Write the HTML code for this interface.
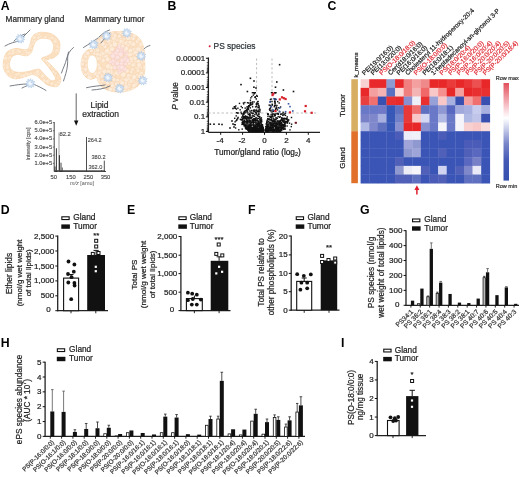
<!DOCTYPE html>
<html><head><meta charset="utf-8"><title>Figure</title>
<style>
html,body{margin:0;padding:0;background:#fff;}
body{width:520px;height:477px;overflow:hidden;}
svg{display:block;font-family:'Liberation Sans', Arial, sans-serif;}
</style></head>
<body>
<svg width="520" height="477" viewBox="0 0 520 477">
<rect width="520" height="477" fill="#fff"/>
<text x="0.80" y="10.20" font-size="12.3" fill="#000" text-anchor="start" dominant-baseline="alphabetic" font-weight="bold" >A</text>
<text x="5.60" y="19.40" font-size="8.2" fill="#2a2a2a" text-anchor="start" dominant-baseline="central" stroke="#2a2a2a" stroke-width="0.22" >Mammary gland</text>
<text x="84.80" y="19.40" font-size="8.2" fill="#2a2a2a" text-anchor="start" dominant-baseline="central" stroke="#2a2a2a" stroke-width="0.22" >Mammary tumor</text>
<defs><clipPath id="gclip"><path d="M3.20,64.60 C3.28,62.10 4.07,57.82 5.00,55.50 C5.93,53.18 6.93,51.87 8.80,50.70 C10.67,49.53 13.83,48.70 16.20,48.50 C18.57,48.30 21.10,49.38 23.00,49.50 C24.90,49.62 26.43,50.03 27.60,49.20 C28.77,48.37 29.22,46.58 30.00,44.50 C30.78,42.42 31.13,38.58 32.30,36.70 C33.47,34.82 35.28,33.93 37.00,33.20 C38.72,32.47 40.20,32.20 42.60,32.30 C45.00,32.40 49.00,32.85 51.40,33.80 C53.80,34.75 55.60,36.38 57.00,38.00 C58.40,39.62 59.52,41.02 59.80,43.50 C60.08,45.98 59.67,50.57 58.70,52.90 C57.73,55.23 56.03,56.27 54.00,57.50 C51.97,58.73 46.92,58.97 46.50,60.30 C46.08,61.63 49.45,63.22 51.50,65.50 C53.55,67.78 57.25,71.50 58.80,74.00 C60.35,76.50 61.10,78.42 60.80,80.50 C60.50,82.58 59.10,85.72 57.00,86.50 C54.90,87.28 50.70,86.20 48.20,85.20 C45.70,84.20 43.78,81.95 42.00,80.50 C40.22,79.05 39.12,77.48 37.50,76.50 C35.88,75.52 34.38,74.55 32.30,74.60 C30.22,74.65 27.68,76.10 25.00,76.80 C22.32,77.50 18.87,78.85 16.20,78.80 C13.53,78.75 10.95,77.88 9.00,76.50 C7.05,75.12 5.47,72.48 4.50,70.50 C3.53,68.52 3.12,67.10 3.20,64.60 Z"/></clipPath><clipPath id="tclip"><path d="M96,42 C100,35 108,31.5 117,31.5 C126,31 135,33 140,39 C144,45 145,52 144.5,60 C145.5,68 145,77 140,84 C134,90 126,92.5 117,92 C108,91.5 101,88 98,81 C95,74 96,67 96.5,60 C95.5,54 94,48 96,42 Z"/><ellipse cx="91" cy="64.3" rx="10" ry="15"/></clipPath></defs>
<path d="M3.20,64.60 C3.28,62.10 4.07,57.82 5.00,55.50 C5.93,53.18 6.93,51.87 8.80,50.70 C10.67,49.53 13.83,48.70 16.20,48.50 C18.57,48.30 21.10,49.38 23.00,49.50 C24.90,49.62 26.43,50.03 27.60,49.20 C28.77,48.37 29.22,46.58 30.00,44.50 C30.78,42.42 31.13,38.58 32.30,36.70 C33.47,34.82 35.28,33.93 37.00,33.20 C38.72,32.47 40.20,32.20 42.60,32.30 C45.00,32.40 49.00,32.85 51.40,33.80 C53.80,34.75 55.60,36.38 57.00,38.00 C58.40,39.62 59.52,41.02 59.80,43.50 C60.08,45.98 59.67,50.57 58.70,52.90 C57.73,55.23 56.03,56.27 54.00,57.50 C51.97,58.73 46.92,58.97 46.50,60.30 C46.08,61.63 49.45,63.22 51.50,65.50 C53.55,67.78 57.25,71.50 58.80,74.00 C60.35,76.50 61.10,78.42 60.80,80.50 C60.50,82.58 59.10,85.72 57.00,86.50 C54.90,87.28 50.70,86.20 48.20,85.20 C45.70,84.20 43.78,81.95 42.00,80.50 C40.22,79.05 39.12,77.48 37.50,76.50 C35.88,75.52 34.38,74.55 32.30,74.60 C30.22,74.65 27.68,76.10 25.00,76.80 C22.32,77.50 18.87,78.85 16.20,78.80 C13.53,78.75 10.95,77.88 9.00,76.50 C7.05,75.12 5.47,72.48 4.50,70.50 C3.53,68.52 3.12,67.10 3.20,64.60 Z" fill="#fbe0c2" stroke="#f6cf9f" stroke-width="0.7"/>
<g clip-path="url(#gclip)"><circle cx="12.6" cy="70.0" r="1.78" fill="#fdebd6" stroke="#f7d2a8" stroke-width="0.3"/><circle cx="30.8" cy="42.5" r="1.88" fill="#fdebd6" stroke="#f7d2a8" stroke-width="0.3"/><circle cx="49.9" cy="59.7" r="1.70" fill="#fdebd6" stroke="#f7d2a8" stroke-width="0.3"/><circle cx="16.7" cy="30.2" r="1.62" fill="#fdebd6" stroke="#f7d2a8" stroke-width="0.3"/><circle cx="37.0" cy="34.0" r="1.88" fill="#fdebd6" stroke="#f7d2a8" stroke-width="0.3"/><circle cx="16.5" cy="43.5" r="1.43" fill="#fdebd6" stroke="#f7d2a8" stroke-width="0.3"/><circle cx="60.9" cy="72.8" r="1.93" fill="#fdebd6" stroke="#f7d2a8" stroke-width="0.3"/><circle cx="38.7" cy="32.0" r="1.60" fill="#fdebd6" stroke="#f7d2a8" stroke-width="0.3"/><circle cx="31.9" cy="36.7" r="1.97" fill="#fdebd6" stroke="#f7d2a8" stroke-width="0.3"/><circle cx="24.4" cy="39.0" r="1.89" fill="#fdebd6" stroke="#f7d2a8" stroke-width="0.3"/><circle cx="10.2" cy="83.8" r="1.67" fill="#fdebd6" stroke="#f7d2a8" stroke-width="0.3"/><circle cx="35.0" cy="49.9" r="1.69" fill="#fdebd6" stroke="#f7d2a8" stroke-width="0.3"/><circle cx="13.8" cy="32.2" r="1.92" fill="#fdebd6" stroke="#f7d2a8" stroke-width="0.3"/><circle cx="16.6" cy="75.3" r="1.53" fill="#fdebd6" stroke="#f7d2a8" stroke-width="0.3"/><circle cx="59.2" cy="81.9" r="1.85" fill="#fdebd6" stroke="#f7d2a8" stroke-width="0.3"/><circle cx="47.2" cy="63.7" r="1.84" fill="#fdebd6" stroke="#f7d2a8" stroke-width="0.3"/><circle cx="10.1" cy="57.6" r="1.90" fill="#fdebd6" stroke="#f7d2a8" stroke-width="0.3"/><circle cx="14.7" cy="83.5" r="1.93" fill="#fdebd6" stroke="#f7d2a8" stroke-width="0.3"/><circle cx="26.8" cy="51.2" r="1.67" fill="#fdebd6" stroke="#f7d2a8" stroke-width="0.3"/><circle cx="25.4" cy="87.7" r="1.63" fill="#fdebd6" stroke="#f7d2a8" stroke-width="0.3"/><circle cx="4.6" cy="35.4" r="1.83" fill="#fdebd6" stroke="#f7d2a8" stroke-width="0.3"/><circle cx="60.6" cy="58.8" r="1.69" fill="#fdebd6" stroke="#f7d2a8" stroke-width="0.3"/><circle cx="34.9" cy="73.4" r="1.53" fill="#fdebd6" stroke="#f7d2a8" stroke-width="0.3"/><circle cx="38.3" cy="62.3" r="1.77" fill="#fdebd6" stroke="#f7d2a8" stroke-width="0.3"/><circle cx="13.5" cy="39.9" r="1.61" fill="#fdebd6" stroke="#f7d2a8" stroke-width="0.3"/><circle cx="56.8" cy="50.1" r="1.76" fill="#fdebd6" stroke="#f7d2a8" stroke-width="0.3"/><circle cx="20.8" cy="36.0" r="1.44" fill="#fdebd6" stroke="#f7d2a8" stroke-width="0.3"/><circle cx="50.2" cy="75.1" r="1.62" fill="#fdebd6" stroke="#f7d2a8" stroke-width="0.3"/><circle cx="42.6" cy="69.2" r="1.94" fill="#fdebd6" stroke="#f7d2a8" stroke-width="0.3"/><circle cx="58.6" cy="53.6" r="1.99" fill="#fdebd6" stroke="#f7d2a8" stroke-width="0.3"/><circle cx="58.8" cy="64.3" r="1.93" fill="#fdebd6" stroke="#f7d2a8" stroke-width="0.3"/><circle cx="31.5" cy="51.8" r="1.55" fill="#fdebd6" stroke="#f7d2a8" stroke-width="0.3"/><circle cx="53.8" cy="39.4" r="1.44" fill="#fdebd6" stroke="#f7d2a8" stroke-width="0.3"/><circle cx="49.7" cy="74.9" r="1.69" fill="#fdebd6" stroke="#f7d2a8" stroke-width="0.3"/><circle cx="51.5" cy="33.0" r="1.55" fill="#fdebd6" stroke="#f7d2a8" stroke-width="0.3"/><circle cx="19.8" cy="54.3" r="1.50" fill="#fdebd6" stroke="#f7d2a8" stroke-width="0.3"/><circle cx="7.0" cy="49.6" r="1.94" fill="#fdebd6" stroke="#f7d2a8" stroke-width="0.3"/><circle cx="60.0" cy="73.3" r="1.69" fill="#fdebd6" stroke="#f7d2a8" stroke-width="0.3"/><circle cx="17.6" cy="85.6" r="1.72" fill="#fdebd6" stroke="#f7d2a8" stroke-width="0.3"/><circle cx="45.3" cy="31.6" r="1.53" fill="#fdebd6" stroke="#f7d2a8" stroke-width="0.3"/><circle cx="51.6" cy="76.1" r="1.93" fill="#fdebd6" stroke="#f7d2a8" stroke-width="0.3"/><circle cx="37.9" cy="54.7" r="1.75" fill="#fdebd6" stroke="#f7d2a8" stroke-width="0.3"/><circle cx="52.3" cy="47.9" r="1.72" fill="#fdebd6" stroke="#f7d2a8" stroke-width="0.3"/><circle cx="19.0" cy="74.6" r="1.41" fill="#fdebd6" stroke="#f7d2a8" stroke-width="0.3"/><circle cx="42.7" cy="85.3" r="1.41" fill="#fdebd6" stroke="#f7d2a8" stroke-width="0.3"/><circle cx="37.4" cy="67.3" r="1.91" fill="#fdebd6" stroke="#f7d2a8" stroke-width="0.3"/><circle cx="36.9" cy="44.9" r="1.64" fill="#fdebd6" stroke="#f7d2a8" stroke-width="0.3"/><circle cx="58.6" cy="82.5" r="1.48" fill="#fdebd6" stroke="#f7d2a8" stroke-width="0.3"/><circle cx="8.5" cy="35.4" r="1.42" fill="#fdebd6" stroke="#f7d2a8" stroke-width="0.3"/><circle cx="28.9" cy="38.2" r="1.92" fill="#fdebd6" stroke="#f7d2a8" stroke-width="0.3"/><circle cx="41.0" cy="37.3" r="1.72" fill="#fdebd6" stroke="#f7d2a8" stroke-width="0.3"/><circle cx="21.8" cy="58.6" r="1.53" fill="#fdebd6" stroke="#f7d2a8" stroke-width="0.3"/><circle cx="12.6" cy="40.7" r="1.63" fill="#fdebd6" stroke="#f7d2a8" stroke-width="0.3"/><circle cx="44.2" cy="61.9" r="1.43" fill="#fdebd6" stroke="#f7d2a8" stroke-width="0.3"/><circle cx="44.2" cy="80.7" r="1.86" fill="#fdebd6" stroke="#f7d2a8" stroke-width="0.3"/><circle cx="48.9" cy="30.5" r="1.68" fill="#fdebd6" stroke="#f7d2a8" stroke-width="0.3"/><circle cx="6.7" cy="74.3" r="1.51" fill="#fdebd6" stroke="#f7d2a8" stroke-width="0.3"/><circle cx="44.3" cy="44.7" r="1.82" fill="#fdebd6" stroke="#f7d2a8" stroke-width="0.3"/><circle cx="21.2" cy="32.4" r="1.63" fill="#fdebd6" stroke="#f7d2a8" stroke-width="0.3"/><circle cx="20.9" cy="82.2" r="1.58" fill="#fdebd6" stroke="#f7d2a8" stroke-width="0.3"/><circle cx="32.2" cy="61.9" r="1.97" fill="#fdebd6" stroke="#f7d2a8" stroke-width="0.3"/><circle cx="8.7" cy="64.9" r="1.70" fill="#fdebd6" stroke="#f7d2a8" stroke-width="0.3"/><circle cx="45.6" cy="86.1" r="1.59" fill="#fdebd6" stroke="#f7d2a8" stroke-width="0.3"/><circle cx="43.6" cy="60.5" r="1.74" fill="#fdebd6" stroke="#f7d2a8" stroke-width="0.3"/><circle cx="6.7" cy="77.3" r="1.99" fill="#fdebd6" stroke="#f7d2a8" stroke-width="0.3"/><circle cx="23.6" cy="48.4" r="2.00" fill="#fdebd6" stroke="#f7d2a8" stroke-width="0.3"/><circle cx="9.2" cy="34.4" r="1.44" fill="#fdebd6" stroke="#f7d2a8" stroke-width="0.3"/><circle cx="50.2" cy="74.1" r="1.67" fill="#fdebd6" stroke="#f7d2a8" stroke-width="0.3"/><circle cx="39.0" cy="31.1" r="1.79" fill="#fdebd6" stroke="#f7d2a8" stroke-width="0.3"/><circle cx="28.7" cy="60.0" r="1.63" fill="#fdebd6" stroke="#f7d2a8" stroke-width="0.3"/><circle cx="26.3" cy="43.1" r="1.43" fill="#fdebd6" stroke="#f7d2a8" stroke-width="0.3"/><circle cx="28.2" cy="44.3" r="1.82" fill="#fdebd6" stroke="#f7d2a8" stroke-width="0.3"/><circle cx="50.4" cy="72.0" r="1.67" fill="#fdebd6" stroke="#f7d2a8" stroke-width="0.3"/><circle cx="16.7" cy="52.4" r="1.69" fill="#fdebd6" stroke="#f7d2a8" stroke-width="0.3"/><circle cx="39.6" cy="85.9" r="1.45" fill="#fdebd6" stroke="#f7d2a8" stroke-width="0.3"/><circle cx="30.8" cy="58.5" r="1.83" fill="#fdebd6" stroke="#f7d2a8" stroke-width="0.3"/><circle cx="54.6" cy="75.2" r="1.78" fill="#fdebd6" stroke="#f7d2a8" stroke-width="0.3"/><circle cx="47.0" cy="68.7" r="1.92" fill="#fdebd6" stroke="#f7d2a8" stroke-width="0.3"/><circle cx="43.5" cy="69.6" r="1.55" fill="#fdebd6" stroke="#f7d2a8" stroke-width="0.3"/><circle cx="56.2" cy="52.4" r="1.77" fill="#fdebd6" stroke="#f7d2a8" stroke-width="0.3"/><circle cx="50.8" cy="85.9" r="1.99" fill="#fdebd6" stroke="#f7d2a8" stroke-width="0.3"/><circle cx="3.4" cy="48.1" r="1.59" fill="#fdebd6" stroke="#f7d2a8" stroke-width="0.3"/><circle cx="25.7" cy="38.4" r="1.73" fill="#fdebd6" stroke="#f7d2a8" stroke-width="0.3"/><circle cx="7.6" cy="47.6" r="1.97" fill="#fdebd6" stroke="#f7d2a8" stroke-width="0.3"/><circle cx="46.1" cy="56.8" r="1.46" fill="#fdebd6" stroke="#f7d2a8" stroke-width="0.3"/><circle cx="58.4" cy="70.8" r="1.52" fill="#fdebd6" stroke="#f7d2a8" stroke-width="0.3"/><circle cx="22.4" cy="67.2" r="1.81" fill="#fdebd6" stroke="#f7d2a8" stroke-width="0.3"/><circle cx="18.1" cy="85.2" r="1.59" fill="#fdebd6" stroke="#f7d2a8" stroke-width="0.3"/><circle cx="17.7" cy="79.0" r="1.49" fill="#fdebd6" stroke="#f7d2a8" stroke-width="0.3"/><circle cx="42.5" cy="41.6" r="1.76" fill="#fdebd6" stroke="#f7d2a8" stroke-width="0.3"/><circle cx="19.1" cy="52.0" r="1.96" fill="#fdebd6" stroke="#f7d2a8" stroke-width="0.3"/><circle cx="30.1" cy="55.3" r="1.77" fill="#fdebd6" stroke="#f7d2a8" stroke-width="0.3"/><circle cx="19.3" cy="40.1" r="1.63" fill="#fdebd6" stroke="#f7d2a8" stroke-width="0.3"/><circle cx="18.8" cy="40.9" r="1.98" fill="#fdebd6" stroke="#f7d2a8" stroke-width="0.3"/><circle cx="5.0" cy="77.0" r="1.96" fill="#fdebd6" stroke="#f7d2a8" stroke-width="0.3"/><circle cx="43.9" cy="31.1" r="1.70" fill="#fdebd6" stroke="#f7d2a8" stroke-width="0.3"/><circle cx="5.3" cy="65.3" r="1.82" fill="#fdebd6" stroke="#f7d2a8" stroke-width="0.3"/><circle cx="16.9" cy="30.4" r="1.73" fill="#fdebd6" stroke="#f7d2a8" stroke-width="0.3"/><circle cx="8.5" cy="47.9" r="1.67" fill="#fdebd6" stroke="#f7d2a8" stroke-width="0.3"/><circle cx="54.9" cy="51.5" r="1.48" fill="#fdebd6" stroke="#f7d2a8" stroke-width="0.3"/><circle cx="48.9" cy="77.7" r="1.72" fill="#fdebd6" stroke="#f7d2a8" stroke-width="0.3"/><circle cx="5.9" cy="40.9" r="1.64" fill="#fdebd6" stroke="#f7d2a8" stroke-width="0.3"/><circle cx="35.0" cy="43.1" r="1.88" fill="#fdebd6" stroke="#f7d2a8" stroke-width="0.3"/><circle cx="51.9" cy="83.7" r="1.93" fill="#fdebd6" stroke="#f7d2a8" stroke-width="0.3"/><circle cx="4.0" cy="63.8" r="1.45" fill="#fdebd6" stroke="#f7d2a8" stroke-width="0.3"/><circle cx="55.2" cy="73.3" r="1.86" fill="#fdebd6" stroke="#f7d2a8" stroke-width="0.3"/><circle cx="13.9" cy="33.5" r="1.89" fill="#fdebd6" stroke="#f7d2a8" stroke-width="0.3"/><circle cx="38.2" cy="66.0" r="1.68" fill="#fdebd6" stroke="#f7d2a8" stroke-width="0.3"/><circle cx="49.4" cy="49.6" r="1.56" fill="#fdebd6" stroke="#f7d2a8" stroke-width="0.3"/><circle cx="23.5" cy="47.3" r="1.78" fill="#fdebd6" stroke="#f7d2a8" stroke-width="0.3"/><circle cx="54.6" cy="34.1" r="1.44" fill="#fdebd6" stroke="#f7d2a8" stroke-width="0.3"/><circle cx="32.7" cy="69.3" r="1.51" fill="#fdebd6" stroke="#f7d2a8" stroke-width="0.3"/><circle cx="18.7" cy="33.4" r="1.42" fill="#fdebd6" stroke="#f7d2a8" stroke-width="0.3"/><circle cx="31.7" cy="69.5" r="1.79" fill="#fdebd6" stroke="#f7d2a8" stroke-width="0.3"/><circle cx="12.2" cy="36.0" r="1.96" fill="#fdebd6" stroke="#f7d2a8" stroke-width="0.3"/><circle cx="34.2" cy="53.7" r="1.81" fill="#fdebd6" stroke="#f7d2a8" stroke-width="0.3"/><circle cx="45.2" cy="60.4" r="1.45" fill="#fdebd6" stroke="#f7d2a8" stroke-width="0.3"/><circle cx="51.0" cy="42.4" r="1.42" fill="#fdebd6" stroke="#f7d2a8" stroke-width="0.3"/><circle cx="23.4" cy="60.9" r="1.78" fill="#fdebd6" stroke="#f7d2a8" stroke-width="0.3"/><circle cx="13.1" cy="71.2" r="1.70" fill="#fdebd6" stroke="#f7d2a8" stroke-width="0.3"/><circle cx="12.4" cy="79.4" r="1.88" fill="#fdebd6" stroke="#f7d2a8" stroke-width="0.3"/><circle cx="55.6" cy="69.4" r="1.53" fill="#fdebd6" stroke="#f7d2a8" stroke-width="0.3"/><circle cx="48.1" cy="82.4" r="1.72" fill="#fdebd6" stroke="#f7d2a8" stroke-width="0.3"/><circle cx="55.7" cy="86.3" r="1.63" fill="#fdebd6" stroke="#f7d2a8" stroke-width="0.3"/><circle cx="57.6" cy="84.3" r="1.88" fill="#fdebd6" stroke="#f7d2a8" stroke-width="0.3"/><circle cx="3.7" cy="50.4" r="1.77" fill="#fdebd6" stroke="#f7d2a8" stroke-width="0.3"/><circle cx="38.2" cy="73.8" r="1.79" fill="#fdebd6" stroke="#f7d2a8" stroke-width="0.3"/><circle cx="12.4" cy="84.0" r="1.72" fill="#fdebd6" stroke="#f7d2a8" stroke-width="0.3"/><circle cx="54.1" cy="42.0" r="2.00" fill="#fdebd6" stroke="#f7d2a8" stroke-width="0.3"/><circle cx="35.2" cy="75.0" r="1.84" fill="#fdebd6" stroke="#f7d2a8" stroke-width="0.3"/><circle cx="54.2" cy="51.0" r="1.45" fill="#fdebd6" stroke="#f7d2a8" stroke-width="0.3"/><circle cx="26.5" cy="40.3" r="1.72" fill="#fdebd6" stroke="#f7d2a8" stroke-width="0.3"/><circle cx="50.3" cy="51.0" r="1.48" fill="#fdebd6" stroke="#f7d2a8" stroke-width="0.3"/><circle cx="4.6" cy="54.5" r="1.75" fill="#fdebd6" stroke="#f7d2a8" stroke-width="0.3"/><circle cx="4.5" cy="68.6" r="1.53" fill="#fdebd6" stroke="#f7d2a8" stroke-width="0.3"/><circle cx="9.2" cy="83.8" r="1.71" fill="#fdebd6" stroke="#f7d2a8" stroke-width="0.3"/><circle cx="54.9" cy="59.8" r="1.47" fill="#fdebd6" stroke="#f7d2a8" stroke-width="0.3"/><circle cx="16.9" cy="54.6" r="1.78" fill="#fdebd6" stroke="#f7d2a8" stroke-width="0.3"/><circle cx="47.7" cy="73.6" r="1.79" fill="#fdebd6" stroke="#f7d2a8" stroke-width="0.3"/><circle cx="17.7" cy="54.9" r="1.63" fill="#fdebd6" stroke="#f7d2a8" stroke-width="0.3"/><circle cx="31.4" cy="45.4" r="1.72" fill="#fdebd6" stroke="#f7d2a8" stroke-width="0.3"/><circle cx="29.6" cy="32.1" r="1.89" fill="#fdebd6" stroke="#f7d2a8" stroke-width="0.3"/><circle cx="37.0" cy="76.6" r="1.84" fill="#fdebd6" stroke="#f7d2a8" stroke-width="0.3"/><circle cx="45.4" cy="87.6" r="1.63" fill="#fdebd6" stroke="#f7d2a8" stroke-width="0.3"/><circle cx="25.8" cy="30.2" r="1.80" fill="#fdebd6" stroke="#f7d2a8" stroke-width="0.3"/><circle cx="36.7" cy="63.4" r="2.00" fill="#fdebd6" stroke="#f7d2a8" stroke-width="0.3"/><circle cx="14.4" cy="43.2" r="1.84" fill="#fdebd6" stroke="#f7d2a8" stroke-width="0.3"/><circle cx="50.1" cy="58.0" r="1.43" fill="#fdebd6" stroke="#f7d2a8" stroke-width="0.3"/><circle cx="24.5" cy="77.9" r="1.70" fill="#fdebd6" stroke="#f7d2a8" stroke-width="0.3"/><circle cx="29.8" cy="52.6" r="1.78" fill="#fdebd6" stroke="#f7d2a8" stroke-width="0.3"/><circle cx="37.7" cy="70.2" r="1.92" fill="#fdebd6" stroke="#f7d2a8" stroke-width="0.3"/><circle cx="46.6" cy="51.7" r="1.55" fill="#fdebd6" stroke="#f7d2a8" stroke-width="0.3"/><circle cx="48.3" cy="76.0" r="1.96" fill="#fdebd6" stroke="#f7d2a8" stroke-width="0.3"/><circle cx="14.5" cy="79.2" r="1.93" fill="#fdebd6" stroke="#f7d2a8" stroke-width="0.3"/><circle cx="7.5" cy="47.9" r="1.78" fill="#fdebd6" stroke="#f7d2a8" stroke-width="0.3"/><circle cx="11.5" cy="78.2" r="1.56" fill="#fdebd6" stroke="#f7d2a8" stroke-width="0.3"/><circle cx="42.6" cy="47.2" r="1.53" fill="#fdebd6" stroke="#f7d2a8" stroke-width="0.3"/><circle cx="15.0" cy="58.9" r="1.83" fill="#fdebd6" stroke="#f7d2a8" stroke-width="0.3"/><circle cx="15.6" cy="69.8" r="1.60" fill="#fdebd6" stroke="#f7d2a8" stroke-width="0.3"/><circle cx="40.7" cy="51.4" r="1.52" fill="#fdebd6" stroke="#f7d2a8" stroke-width="0.3"/><circle cx="11.2" cy="33.3" r="1.82" fill="#fdebd6" stroke="#f7d2a8" stroke-width="0.3"/><circle cx="27.0" cy="37.1" r="1.93" fill="#fdebd6" stroke="#f7d2a8" stroke-width="0.3"/><circle cx="41.0" cy="31.2" r="1.83" fill="#fdebd6" stroke="#f7d2a8" stroke-width="0.3"/><circle cx="37.5" cy="55.7" r="1.70" fill="#fdebd6" stroke="#f7d2a8" stroke-width="0.3"/><circle cx="58.8" cy="51.7" r="1.78" fill="#fdebd6" stroke="#f7d2a8" stroke-width="0.3"/><circle cx="39.9" cy="51.2" r="1.61" fill="#fdebd6" stroke="#f7d2a8" stroke-width="0.3"/><circle cx="46.8" cy="66.9" r="1.67" fill="#fdebd6" stroke="#f7d2a8" stroke-width="0.3"/><circle cx="32.8" cy="43.0" r="1.87" fill="#fdebd6" stroke="#f7d2a8" stroke-width="0.3"/><circle cx="4.2" cy="67.3" r="1.67" fill="#fdebd6" stroke="#f7d2a8" stroke-width="0.3"/><circle cx="15.8" cy="64.0" r="1.75" fill="#fdebd6" stroke="#f7d2a8" stroke-width="0.3"/><circle cx="8.0" cy="58.4" r="1.50" fill="#fdebd6" stroke="#f7d2a8" stroke-width="0.3"/><circle cx="49.3" cy="49.0" r="1.60" fill="#fdebd6" stroke="#f7d2a8" stroke-width="0.3"/><circle cx="15.5" cy="32.8" r="1.51" fill="#fdebd6" stroke="#f7d2a8" stroke-width="0.3"/><circle cx="11.8" cy="66.2" r="1.91" fill="#fdebd6" stroke="#f7d2a8" stroke-width="0.3"/><circle cx="15.8" cy="36.5" r="1.72" fill="#fdebd6" stroke="#f7d2a8" stroke-width="0.3"/><circle cx="9.7" cy="53.5" r="1.86" fill="#fdebd6" stroke="#f7d2a8" stroke-width="0.3"/><circle cx="14.8" cy="70.6" r="1.72" fill="#fdebd6" stroke="#f7d2a8" stroke-width="0.3"/><circle cx="7.9" cy="44.1" r="1.76" fill="#fdebd6" stroke="#f7d2a8" stroke-width="0.3"/><circle cx="8.6" cy="41.8" r="1.75" fill="#fdebd6" stroke="#f7d2a8" stroke-width="0.3"/><circle cx="50.4" cy="60.2" r="1.80" fill="#fdebd6" stroke="#f7d2a8" stroke-width="0.3"/><circle cx="3.5" cy="47.6" r="1.59" fill="#fdebd6" stroke="#f7d2a8" stroke-width="0.3"/><circle cx="56.0" cy="50.7" r="1.87" fill="#fdebd6" stroke="#f7d2a8" stroke-width="0.3"/><circle cx="5.0" cy="58.9" r="1.93" fill="#fdebd6" stroke="#f7d2a8" stroke-width="0.3"/><circle cx="47.7" cy="63.6" r="1.51" fill="#fdebd6" stroke="#f7d2a8" stroke-width="0.3"/><circle cx="56.7" cy="34.6" r="1.98" fill="#fdebd6" stroke="#f7d2a8" stroke-width="0.3"/><circle cx="48.0" cy="71.7" r="1.72" fill="#fdebd6" stroke="#f7d2a8" stroke-width="0.3"/><circle cx="12.5" cy="49.8" r="1.80" fill="#fdebd6" stroke="#f7d2a8" stroke-width="0.3"/><circle cx="41.0" cy="52.6" r="1.88" fill="#fdebd6" stroke="#f7d2a8" stroke-width="0.3"/><circle cx="6.1" cy="46.7" r="1.45" fill="#fdebd6" stroke="#f7d2a8" stroke-width="0.3"/><circle cx="21.8" cy="76.0" r="1.85" fill="#fdebd6" stroke="#f7d2a8" stroke-width="0.3"/><circle cx="11.7" cy="47.9" r="1.47" fill="#fdebd6" stroke="#f7d2a8" stroke-width="0.3"/><circle cx="41.4" cy="55.7" r="1.54" fill="#fdebd6" stroke="#f7d2a8" stroke-width="0.3"/><circle cx="24.7" cy="80.2" r="1.66" fill="#fdebd6" stroke="#f7d2a8" stroke-width="0.3"/><circle cx="43.1" cy="66.4" r="1.68" fill="#fdebd6" stroke="#f7d2a8" stroke-width="0.3"/><circle cx="35.3" cy="51.1" r="1.52" fill="#fdebd6" stroke="#f7d2a8" stroke-width="0.3"/><circle cx="31.7" cy="47.7" r="1.60" fill="#fdebd6" stroke="#f7d2a8" stroke-width="0.3"/><circle cx="13.8" cy="83.0" r="1.66" fill="#fdebd6" stroke="#f7d2a8" stroke-width="0.3"/><circle cx="14.6" cy="31.8" r="1.53" fill="#fdebd6" stroke="#f7d2a8" stroke-width="0.3"/><circle cx="53.4" cy="49.5" r="1.80" fill="#fdebd6" stroke="#f7d2a8" stroke-width="0.3"/><circle cx="16.4" cy="67.7" r="1.67" fill="#fdebd6" stroke="#f7d2a8" stroke-width="0.3"/><circle cx="45.7" cy="60.6" r="1.63" fill="#fdebd6" stroke="#f7d2a8" stroke-width="0.3"/><circle cx="19.2" cy="64.5" r="1.90" fill="#fdebd6" stroke="#f7d2a8" stroke-width="0.3"/><circle cx="43.1" cy="57.8" r="1.60" fill="#fdebd6" stroke="#f7d2a8" stroke-width="0.3"/><circle cx="54.7" cy="79.1" r="1.49" fill="#fdebd6" stroke="#f7d2a8" stroke-width="0.3"/><circle cx="42.4" cy="74.8" r="1.81" fill="#fdebd6" stroke="#f7d2a8" stroke-width="0.3"/><circle cx="58.9" cy="81.0" r="1.55" fill="#fdebd6" stroke="#f7d2a8" stroke-width="0.3"/><circle cx="60.8" cy="49.0" r="1.63" fill="#fdebd6" stroke="#f7d2a8" stroke-width="0.3"/><circle cx="59.6" cy="39.7" r="1.64" fill="#fdebd6" stroke="#f7d2a8" stroke-width="0.3"/><circle cx="39.3" cy="45.8" r="1.56" fill="#fdebd6" stroke="#f7d2a8" stroke-width="0.3"/><circle cx="49.1" cy="65.5" r="1.85" fill="#fdebd6" stroke="#f7d2a8" stroke-width="0.3"/><circle cx="48.8" cy="80.6" r="1.94" fill="#fdebd6" stroke="#f7d2a8" stroke-width="0.3"/><circle cx="50.8" cy="86.8" r="1.70" fill="#fdebd6" stroke="#f7d2a8" stroke-width="0.3"/><circle cx="43.7" cy="59.8" r="1.98" fill="#fdebd6" stroke="#f7d2a8" stroke-width="0.3"/><circle cx="41.0" cy="55.0" r="1.80" fill="#fdebd6" stroke="#f7d2a8" stroke-width="0.3"/><circle cx="20.1" cy="37.5" r="1.63" fill="#fdebd6" stroke="#f7d2a8" stroke-width="0.3"/><circle cx="10.9" cy="30.2" r="1.46" fill="#fdebd6" stroke="#f7d2a8" stroke-width="0.3"/><circle cx="29.4" cy="74.3" r="1.43" fill="#fdebd6" stroke="#f7d2a8" stroke-width="0.3"/><circle cx="39.9" cy="36.5" r="1.71" fill="#fdebd6" stroke="#f7d2a8" stroke-width="0.3"/><circle cx="20.2" cy="55.9" r="1.83" fill="#fdebd6" stroke="#f7d2a8" stroke-width="0.3"/><circle cx="27.0" cy="52.7" r="1.84" fill="#fdebd6" stroke="#f7d2a8" stroke-width="0.3"/><circle cx="9.7" cy="50.2" r="1.82" fill="#fdebd6" stroke="#f7d2a8" stroke-width="0.3"/><circle cx="51.4" cy="86.8" r="1.55" fill="#fdebd6" stroke="#f7d2a8" stroke-width="0.3"/><circle cx="39.3" cy="48.1" r="1.82" fill="#fdebd6" stroke="#f7d2a8" stroke-width="0.3"/><circle cx="52.1" cy="37.8" r="1.61" fill="#fdebd6" stroke="#f7d2a8" stroke-width="0.3"/><circle cx="57.3" cy="50.4" r="1.78" fill="#fdebd6" stroke="#f7d2a8" stroke-width="0.3"/><circle cx="50.5" cy="46.2" r="1.87" fill="#fdebd6" stroke="#f7d2a8" stroke-width="0.3"/><circle cx="3.2" cy="49.7" r="1.50" fill="#fdebd6" stroke="#f7d2a8" stroke-width="0.3"/><circle cx="23.1" cy="42.4" r="1.42" fill="#fdebd6" stroke="#f7d2a8" stroke-width="0.3"/><circle cx="49.6" cy="40.1" r="1.74" fill="#fdebd6" stroke="#f7d2a8" stroke-width="0.3"/><circle cx="35.1" cy="79.3" r="1.91" fill="#fdebd6" stroke="#f7d2a8" stroke-width="0.3"/><circle cx="39.1" cy="39.8" r="1.86" fill="#fdebd6" stroke="#f7d2a8" stroke-width="0.3"/><circle cx="8.7" cy="83.9" r="1.59" fill="#fdebd6" stroke="#f7d2a8" stroke-width="0.3"/><circle cx="17.7" cy="42.6" r="1.64" fill="#fdebd6" stroke="#f7d2a8" stroke-width="0.3"/><circle cx="48.9" cy="79.6" r="1.85" fill="#fdebd6" stroke="#f7d2a8" stroke-width="0.3"/><circle cx="45.3" cy="44.2" r="1.59" fill="#fdebd6" stroke="#f7d2a8" stroke-width="0.3"/><circle cx="20.6" cy="55.1" r="1.92" fill="#fdebd6" stroke="#f7d2a8" stroke-width="0.3"/><circle cx="60.8" cy="34.9" r="1.98" fill="#fdebd6" stroke="#f7d2a8" stroke-width="0.3"/><circle cx="56.3" cy="56.7" r="1.82" fill="#fdebd6" stroke="#f7d2a8" stroke-width="0.3"/><circle cx="48.5" cy="40.8" r="1.77" fill="#fdebd6" stroke="#f7d2a8" stroke-width="0.3"/><circle cx="59.9" cy="81.1" r="1.95" fill="#fdebd6" stroke="#f7d2a8" stroke-width="0.3"/><circle cx="7.9" cy="71.5" r="1.69" fill="#fdebd6" stroke="#f7d2a8" stroke-width="0.3"/><circle cx="55.7" cy="39.7" r="1.73" fill="#fdebd6" stroke="#f7d2a8" stroke-width="0.3"/><circle cx="10.0" cy="76.7" r="1.83" fill="#fdebd6" stroke="#f7d2a8" stroke-width="0.3"/><circle cx="4.8" cy="48.0" r="1.48" fill="#fdebd6" stroke="#f7d2a8" stroke-width="0.3"/><circle cx="39.9" cy="66.5" r="1.44" fill="#fdebd6" stroke="#f7d2a8" stroke-width="0.3"/><circle cx="58.2" cy="86.0" r="1.66" fill="#fdebd6" stroke="#f7d2a8" stroke-width="0.3"/><circle cx="36.3" cy="51.1" r="1.76" fill="#fdebd6" stroke="#f7d2a8" stroke-width="0.3"/><circle cx="26.1" cy="55.6" r="1.85" fill="#fdebd6" stroke="#f7d2a8" stroke-width="0.3"/><circle cx="13.8" cy="47.3" r="1.86" fill="#fdebd6" stroke="#f7d2a8" stroke-width="0.3"/><circle cx="16.0" cy="34.0" r="1.95" fill="#fdebd6" stroke="#f7d2a8" stroke-width="0.3"/><circle cx="12.3" cy="53.8" r="1.59" fill="#fdebd6" stroke="#f7d2a8" stroke-width="0.3"/><circle cx="18.2" cy="50.4" r="1.72" fill="#fdebd6" stroke="#f7d2a8" stroke-width="0.3"/><circle cx="9.7" cy="60.9" r="1.43" fill="#fdebd6" stroke="#f7d2a8" stroke-width="0.3"/><circle cx="7.6" cy="41.7" r="1.54" fill="#fdebd6" stroke="#f7d2a8" stroke-width="0.3"/><circle cx="22.8" cy="46.9" r="1.90" fill="#fdebd6" stroke="#f7d2a8" stroke-width="0.3"/><circle cx="41.2" cy="57.4" r="1.86" fill="#fdebd6" stroke="#f7d2a8" stroke-width="0.3"/><circle cx="42.8" cy="48.3" r="1.77" fill="#fdebd6" stroke="#f7d2a8" stroke-width="0.3"/><circle cx="46.2" cy="61.0" r="1.85" fill="#fdebd6" stroke="#f7d2a8" stroke-width="0.3"/><circle cx="39.7" cy="83.8" r="1.56" fill="#fdebd6" stroke="#f7d2a8" stroke-width="0.3"/><circle cx="42.0" cy="86.7" r="1.72" fill="#fdebd6" stroke="#f7d2a8" stroke-width="0.3"/><circle cx="55.5" cy="35.5" r="1.83" fill="#fdebd6" stroke="#f7d2a8" stroke-width="0.3"/><circle cx="18.4" cy="73.5" r="1.65" fill="#fdebd6" stroke="#f7d2a8" stroke-width="0.3"/><circle cx="34.0" cy="44.4" r="1.55" fill="#fdebd6" stroke="#f7d2a8" stroke-width="0.3"/><circle cx="53.2" cy="67.3" r="1.78" fill="#fdebd6" stroke="#f7d2a8" stroke-width="0.3"/><circle cx="9.7" cy="47.0" r="1.98" fill="#fdebd6" stroke="#f7d2a8" stroke-width="0.3"/><circle cx="14.8" cy="61.2" r="1.82" fill="#fdebd6" stroke="#f7d2a8" stroke-width="0.3"/><circle cx="32.6" cy="62.1" r="1.98" fill="#fdebd6" stroke="#f7d2a8" stroke-width="0.3"/><circle cx="48.3" cy="43.7" r="1.66" fill="#fdebd6" stroke="#f7d2a8" stroke-width="0.3"/><circle cx="27.3" cy="69.7" r="1.80" fill="#fdebd6" stroke="#f7d2a8" stroke-width="0.3"/><circle cx="18.1" cy="70.2" r="1.66" fill="#fdebd6" stroke="#f7d2a8" stroke-width="0.3"/><circle cx="3.9" cy="46.9" r="1.63" fill="#fdebd6" stroke="#f7d2a8" stroke-width="0.3"/><circle cx="14.4" cy="68.9" r="2.00" fill="#fdebd6" stroke="#f7d2a8" stroke-width="0.3"/><circle cx="57.0" cy="66.5" r="1.91" fill="#fdebd6" stroke="#f7d2a8" stroke-width="0.3"/><circle cx="31.5" cy="64.0" r="1.94" fill="#fdebd6" stroke="#f7d2a8" stroke-width="0.3"/><circle cx="6.5" cy="51.0" r="1.62" fill="#fdebd6" stroke="#f7d2a8" stroke-width="0.3"/><circle cx="22.8" cy="54.8" r="1.43" fill="#fdebd6" stroke="#f7d2a8" stroke-width="0.3"/><circle cx="42.4" cy="85.5" r="1.54" fill="#fdebd6" stroke="#f7d2a8" stroke-width="0.3"/><circle cx="13.8" cy="49.4" r="1.88" fill="#fdebd6" stroke="#f7d2a8" stroke-width="0.3"/><circle cx="16.1" cy="74.7" r="1.50" fill="#fdebd6" stroke="#f7d2a8" stroke-width="0.3"/><circle cx="37.5" cy="71.8" r="1.80" fill="#fdebd6" stroke="#f7d2a8" stroke-width="0.3"/><circle cx="7.9" cy="85.5" r="1.91" fill="#fdebd6" stroke="#f7d2a8" stroke-width="0.3"/><circle cx="30.9" cy="79.8" r="1.76" fill="#fdebd6" stroke="#f7d2a8" stroke-width="0.3"/><circle cx="12.8" cy="53.0" r="1.89" fill="#fdebd6" stroke="#f7d2a8" stroke-width="0.3"/><circle cx="29.9" cy="32.4" r="1.50" fill="#fdebd6" stroke="#f7d2a8" stroke-width="0.3"/><circle cx="13.8" cy="64.0" r="1.79" fill="#fdebd6" stroke="#f7d2a8" stroke-width="0.3"/><circle cx="29.0" cy="53.4" r="1.98" fill="#fdebd6" stroke="#f7d2a8" stroke-width="0.3"/><circle cx="22.9" cy="69.0" r="1.52" fill="#fdebd6" stroke="#f7d2a8" stroke-width="0.3"/><circle cx="32.8" cy="40.4" r="1.47" fill="#fdebd6" stroke="#f7d2a8" stroke-width="0.3"/><circle cx="22.5" cy="36.7" r="1.63" fill="#fdebd6" stroke="#f7d2a8" stroke-width="0.3"/><circle cx="40.9" cy="61.8" r="1.88" fill="#fdebd6" stroke="#f7d2a8" stroke-width="0.3"/><circle cx="30.7" cy="34.9" r="1.84" fill="#fdebd6" stroke="#f7d2a8" stroke-width="0.3"/><circle cx="26.3" cy="73.6" r="1.99" fill="#fdebd6" stroke="#f7d2a8" stroke-width="0.3"/><circle cx="33.4" cy="44.5" r="1.61" fill="#fdebd6" stroke="#f7d2a8" stroke-width="0.3"/><circle cx="31.9" cy="48.5" r="1.46" fill="#fdebd6" stroke="#f7d2a8" stroke-width="0.3"/><circle cx="26.1" cy="68.1" r="1.89" fill="#fdebd6" stroke="#f7d2a8" stroke-width="0.3"/><circle cx="47.2" cy="81.3" r="1.88" fill="#fdebd6" stroke="#f7d2a8" stroke-width="0.3"/><circle cx="26.9" cy="67.4" r="1.43" fill="#fdebd6" stroke="#f7d2a8" stroke-width="0.3"/><circle cx="49.1" cy="71.1" r="1.56" fill="#fdebd6" stroke="#f7d2a8" stroke-width="0.3"/><circle cx="30.4" cy="45.8" r="1.88" fill="#fdebd6" stroke="#f7d2a8" stroke-width="0.3"/><circle cx="27.7" cy="75.3" r="1.95" fill="#fdebd6" stroke="#f7d2a8" stroke-width="0.3"/><circle cx="48.1" cy="52.0" r="1.61" fill="#fdebd6" stroke="#f7d2a8" stroke-width="0.3"/><circle cx="57.9" cy="82.5" r="1.51" fill="#fdebd6" stroke="#f7d2a8" stroke-width="0.3"/><circle cx="24.0" cy="75.7" r="1.85" fill="#fdebd6" stroke="#f7d2a8" stroke-width="0.3"/><circle cx="19.4" cy="55.9" r="1.98" fill="#fdebd6" stroke="#f7d2a8" stroke-width="0.3"/><circle cx="8.2" cy="45.9" r="1.80" fill="#fdebd6" stroke="#f7d2a8" stroke-width="0.3"/><circle cx="55.6" cy="84.9" r="1.68" fill="#fdebd6" stroke="#f7d2a8" stroke-width="0.3"/><circle cx="48.8" cy="86.4" r="1.60" fill="#fdebd6" stroke="#f7d2a8" stroke-width="0.3"/><circle cx="16.2" cy="45.1" r="1.87" fill="#fdebd6" stroke="#f7d2a8" stroke-width="0.3"/><circle cx="11.1" cy="61.7" r="1.96" fill="#fdebd6" stroke="#f7d2a8" stroke-width="0.3"/><circle cx="14.7" cy="66.5" r="1.72" fill="#fdebd6" stroke="#f7d2a8" stroke-width="0.3"/><circle cx="59.0" cy="59.8" r="1.69" fill="#fdebd6" stroke="#f7d2a8" stroke-width="0.3"/><circle cx="55.4" cy="73.6" r="1.49" fill="#fdebd6" stroke="#f7d2a8" stroke-width="0.3"/><circle cx="49.6" cy="53.2" r="1.98" fill="#fdebd6" stroke="#f7d2a8" stroke-width="0.3"/><circle cx="58.9" cy="58.6" r="1.65" fill="#fdebd6" stroke="#f7d2a8" stroke-width="0.3"/><circle cx="16.2" cy="46.0" r="1.52" fill="#fdebd6" stroke="#f7d2a8" stroke-width="0.3"/><circle cx="12.8" cy="72.4" r="1.43" fill="#fdebd6" stroke="#f7d2a8" stroke-width="0.3"/><circle cx="37.7" cy="64.7" r="1.84" fill="#fdebd6" stroke="#f7d2a8" stroke-width="0.3"/><circle cx="35.9" cy="83.8" r="1.57" fill="#fdebd6" stroke="#f7d2a8" stroke-width="0.3"/><circle cx="8.4" cy="63.8" r="1.56" fill="#fdebd6" stroke="#f7d2a8" stroke-width="0.3"/><circle cx="60.3" cy="83.5" r="1.81" fill="#fdebd6" stroke="#f7d2a8" stroke-width="0.3"/><circle cx="51.4" cy="44.2" r="1.69" fill="#fdebd6" stroke="#f7d2a8" stroke-width="0.3"/><circle cx="25.2" cy="50.0" r="1.62" fill="#fdebd6" stroke="#f7d2a8" stroke-width="0.3"/><circle cx="30.7" cy="67.9" r="1.42" fill="#fdebd6" stroke="#f7d2a8" stroke-width="0.3"/><circle cx="34.3" cy="37.4" r="1.98" fill="#fdebd6" stroke="#f7d2a8" stroke-width="0.3"/><circle cx="35.0" cy="64.2" r="1.59" fill="#fdebd6" stroke="#f7d2a8" stroke-width="0.3"/><circle cx="43.9" cy="71.2" r="1.95" fill="#fdebd6" stroke="#f7d2a8" stroke-width="0.3"/><circle cx="36.7" cy="45.6" r="1.78" fill="#fdebd6" stroke="#f7d2a8" stroke-width="0.3"/><circle cx="5.9" cy="73.2" r="1.58" fill="#fdebd6" stroke="#f7d2a8" stroke-width="0.3"/><circle cx="44.7" cy="37.7" r="1.76" fill="#fdebd6" stroke="#f7d2a8" stroke-width="0.3"/><circle cx="12.8" cy="32.1" r="1.56" fill="#fdebd6" stroke="#f7d2a8" stroke-width="0.3"/><circle cx="52.2" cy="52.5" r="1.71" fill="#fdebd6" stroke="#f7d2a8" stroke-width="0.3"/><circle cx="48.8" cy="86.7" r="1.56" fill="#fdebd6" stroke="#f7d2a8" stroke-width="0.3"/><circle cx="43.3" cy="75.3" r="1.88" fill="#fdebd6" stroke="#f7d2a8" stroke-width="0.3"/><circle cx="23.1" cy="57.5" r="1.87" fill="#fdebd6" stroke="#f7d2a8" stroke-width="0.3"/><circle cx="17.5" cy="58.2" r="1.78" fill="#fdebd6" stroke="#f7d2a8" stroke-width="0.3"/><circle cx="52.4" cy="44.1" r="1.80" fill="#fdebd6" stroke="#f7d2a8" stroke-width="0.3"/><circle cx="15.6" cy="39.1" r="1.69" fill="#fdebd6" stroke="#f7d2a8" stroke-width="0.3"/><circle cx="40.6" cy="67.1" r="1.97" fill="#fdebd6" stroke="#f7d2a8" stroke-width="0.3"/><circle cx="12.5" cy="60.8" r="1.69" fill="#fdebd6" stroke="#f7d2a8" stroke-width="0.3"/><circle cx="18.0" cy="83.2" r="1.49" fill="#fdebd6" stroke="#f7d2a8" stroke-width="0.3"/><circle cx="18.1" cy="32.3" r="1.79" fill="#fdebd6" stroke="#f7d2a8" stroke-width="0.3"/><circle cx="41.1" cy="43.0" r="1.95" fill="#fdebd6" stroke="#f7d2a8" stroke-width="0.3"/><circle cx="39.8" cy="41.7" r="1.97" fill="#fdebd6" stroke="#f7d2a8" stroke-width="0.3"/><circle cx="52.5" cy="48.2" r="1.92" fill="#fdebd6" stroke="#f7d2a8" stroke-width="0.3"/><circle cx="10.6" cy="50.2" r="1.65" fill="#fdebd6" stroke="#f7d2a8" stroke-width="0.3"/><circle cx="58.4" cy="47.3" r="1.63" fill="#fdebd6" stroke="#f7d2a8" stroke-width="0.3"/><circle cx="15.0" cy="77.5" r="1.51" fill="#fdebd6" stroke="#f7d2a8" stroke-width="0.3"/><circle cx="52.2" cy="49.8" r="1.73" fill="#fdebd6" stroke="#f7d2a8" stroke-width="0.3"/><circle cx="53.8" cy="45.5" r="1.72" fill="#fdebd6" stroke="#f7d2a8" stroke-width="0.3"/><circle cx="39.9" cy="63.5" r="1.64" fill="#fdebd6" stroke="#f7d2a8" stroke-width="0.3"/><circle cx="40.5" cy="48.2" r="1.49" fill="#fdebd6" stroke="#f7d2a8" stroke-width="0.3"/><circle cx="3.5" cy="65.1" r="1.74" fill="#fdebd6" stroke="#f7d2a8" stroke-width="0.3"/><circle cx="49.4" cy="39.1" r="1.80" fill="#fdebd6" stroke="#f7d2a8" stroke-width="0.3"/><circle cx="29.3" cy="60.5" r="1.90" fill="#fdebd6" stroke="#f7d2a8" stroke-width="0.3"/><circle cx="33.1" cy="55.3" r="1.79" fill="#fdebd6" stroke="#f7d2a8" stroke-width="0.3"/><circle cx="11.6" cy="80.6" r="1.71" fill="#fdebd6" stroke="#f7d2a8" stroke-width="0.3"/><circle cx="5.5" cy="57.9" r="1.97" fill="#fdebd6" stroke="#f7d2a8" stroke-width="0.3"/><circle cx="59.8" cy="54.7" r="1.56" fill="#fdebd6" stroke="#f7d2a8" stroke-width="0.3"/><circle cx="57.3" cy="46.5" r="1.41" fill="#fdebd6" stroke="#f7d2a8" stroke-width="0.3"/><circle cx="17.3" cy="57.3" r="1.80" fill="#fdebd6" stroke="#f7d2a8" stroke-width="0.3"/><circle cx="6.9" cy="49.4" r="1.84" fill="#fdebd6" stroke="#f7d2a8" stroke-width="0.3"/><circle cx="23.0" cy="40.2" r="1.83" fill="#fdebd6" stroke="#f7d2a8" stroke-width="0.3"/><circle cx="28.3" cy="70.3" r="1.69" fill="#fdebd6" stroke="#f7d2a8" stroke-width="0.3"/><circle cx="50.1" cy="59.7" r="1.99" fill="#fdebd6" stroke="#f7d2a8" stroke-width="0.3"/><circle cx="50.2" cy="71.9" r="1.69" fill="#fdebd6" stroke="#f7d2a8" stroke-width="0.3"/><circle cx="38.4" cy="51.8" r="1.45" fill="#fdebd6" stroke="#f7d2a8" stroke-width="0.3"/><circle cx="54.3" cy="76.8" r="1.86" fill="#fdebd6" stroke="#f7d2a8" stroke-width="0.3"/><circle cx="52.8" cy="62.0" r="2.00" fill="#fdebd6" stroke="#f7d2a8" stroke-width="0.3"/><circle cx="30.4" cy="86.9" r="1.45" fill="#fdebd6" stroke="#f7d2a8" stroke-width="0.3"/><circle cx="24.9" cy="63.1" r="1.89" fill="#fdebd6" stroke="#f7d2a8" stroke-width="0.3"/><circle cx="33.2" cy="75.8" r="1.62" fill="#fdebd6" stroke="#f7d2a8" stroke-width="0.3"/><circle cx="42.3" cy="76.2" r="1.76" fill="#fdebd6" stroke="#f7d2a8" stroke-width="0.3"/><circle cx="4.2" cy="68.1" r="1.40" fill="#fdebd6" stroke="#f7d2a8" stroke-width="0.3"/><circle cx="20.6" cy="36.7" r="1.86" fill="#fdebd6" stroke="#f7d2a8" stroke-width="0.3"/><circle cx="12.8" cy="71.7" r="1.44" fill="#fdebd6" stroke="#f7d2a8" stroke-width="0.3"/><circle cx="15.0" cy="70.3" r="1.95" fill="#fdebd6" stroke="#f7d2a8" stroke-width="0.3"/><circle cx="7.1" cy="65.6" r="1.64" fill="#fdebd6" stroke="#f7d2a8" stroke-width="0.3"/><circle cx="39.1" cy="34.5" r="1.41" fill="#fdebd6" stroke="#f7d2a8" stroke-width="0.3"/><circle cx="7.6" cy="81.7" r="1.69" fill="#fdebd6" stroke="#f7d2a8" stroke-width="0.3"/><circle cx="38.5" cy="37.7" r="1.81" fill="#fdebd6" stroke="#f7d2a8" stroke-width="0.3"/><circle cx="55.3" cy="41.5" r="1.87" fill="#fdebd6" stroke="#f7d2a8" stroke-width="0.3"/><circle cx="52.2" cy="87.5" r="1.74" fill="#fdebd6" stroke="#f7d2a8" stroke-width="0.3"/><circle cx="40.4" cy="50.0" r="1.87" fill="#fdebd6" stroke="#f7d2a8" stroke-width="0.3"/><circle cx="21.0" cy="66.2" r="1.78" fill="#fdebd6" stroke="#f7d2a8" stroke-width="0.3"/><circle cx="60.4" cy="75.7" r="1.46" fill="#fdebd6" stroke="#f7d2a8" stroke-width="0.3"/><circle cx="13.3" cy="50.7" r="1.64" fill="#fdebd6" stroke="#f7d2a8" stroke-width="0.3"/><circle cx="44.6" cy="45.1" r="1.74" fill="#fdebd6" stroke="#f7d2a8" stroke-width="0.3"/><circle cx="29.2" cy="47.7" r="1.79" fill="#fdebd6" stroke="#f7d2a8" stroke-width="0.3"/><circle cx="28.2" cy="86.8" r="1.48" fill="#fdebd6" stroke="#f7d2a8" stroke-width="0.3"/><circle cx="55.1" cy="67.0" r="1.68" fill="#fdebd6" stroke="#f7d2a8" stroke-width="0.3"/><circle cx="7.5" cy="67.5" r="1.88" fill="#fdebd6" stroke="#f7d2a8" stroke-width="0.3"/><circle cx="23.3" cy="71.3" r="1.72" fill="#fdebd6" stroke="#f7d2a8" stroke-width="0.3"/><circle cx="8.2" cy="79.8" r="1.59" fill="#fdebd6" stroke="#f7d2a8" stroke-width="0.3"/><circle cx="30.9" cy="74.2" r="1.93" fill="#fdebd6" stroke="#f7d2a8" stroke-width="0.3"/><circle cx="52.5" cy="51.3" r="1.91" fill="#fdebd6" stroke="#f7d2a8" stroke-width="0.3"/><circle cx="11.9" cy="62.0" r="1.66" fill="#fdebd6" stroke="#f7d2a8" stroke-width="0.3"/><circle cx="53.2" cy="71.9" r="1.80" fill="#fdebd6" stroke="#f7d2a8" stroke-width="0.3"/><circle cx="50.0" cy="50.2" r="1.67" fill="#fdebd6" stroke="#f7d2a8" stroke-width="0.3"/><circle cx="9.0" cy="50.3" r="1.52" fill="#fdebd6" stroke="#f7d2a8" stroke-width="0.3"/><circle cx="45.4" cy="37.5" r="1.95" fill="#fdebd6" stroke="#f7d2a8" stroke-width="0.3"/><circle cx="37.8" cy="55.9" r="1.47" fill="#fdebd6" stroke="#f7d2a8" stroke-width="0.3"/><circle cx="28.9" cy="62.7" r="1.49" fill="#fdebd6" stroke="#f7d2a8" stroke-width="0.3"/><circle cx="59.6" cy="50.9" r="1.66" fill="#fdebd6" stroke="#f7d2a8" stroke-width="0.3"/><circle cx="19.5" cy="51.6" r="1.57" fill="#fdebd6" stroke="#f7d2a8" stroke-width="0.3"/><circle cx="52.5" cy="34.2" r="1.62" fill="#fdebd6" stroke="#f7d2a8" stroke-width="0.3"/><circle cx="37.7" cy="57.8" r="1.59" fill="#fdebd6" stroke="#f7d2a8" stroke-width="0.3"/><circle cx="31.1" cy="33.6" r="1.58" fill="#fdebd6" stroke="#f7d2a8" stroke-width="0.3"/><circle cx="28.2" cy="74.5" r="1.66" fill="#fdebd6" stroke="#f7d2a8" stroke-width="0.3"/><circle cx="27.1" cy="67.9" r="1.57" fill="#fdebd6" stroke="#f7d2a8" stroke-width="0.3"/><circle cx="34.9" cy="41.3" r="1.77" fill="#fdebd6" stroke="#f7d2a8" stroke-width="0.3"/><circle cx="34.3" cy="67.9" r="1.92" fill="#fdebd6" stroke="#f7d2a8" stroke-width="0.3"/><circle cx="49.1" cy="87.3" r="1.54" fill="#fdebd6" stroke="#f7d2a8" stroke-width="0.3"/><circle cx="58.3" cy="55.8" r="1.62" fill="#fdebd6" stroke="#f7d2a8" stroke-width="0.3"/><circle cx="29.4" cy="83.4" r="1.97" fill="#fdebd6" stroke="#f7d2a8" stroke-width="0.3"/><circle cx="49.7" cy="47.5" r="1.47" fill="#fdebd6" stroke="#f7d2a8" stroke-width="0.3"/><circle cx="14.8" cy="69.0" r="1.82" fill="#fdebd6" stroke="#f7d2a8" stroke-width="0.3"/><circle cx="6.8" cy="30.2" r="2.00" fill="#fdebd6" stroke="#f7d2a8" stroke-width="0.3"/><circle cx="22.6" cy="32.4" r="1.68" fill="#fdebd6" stroke="#f7d2a8" stroke-width="0.3"/><circle cx="8.7" cy="77.3" r="1.72" fill="#fdebd6" stroke="#f7d2a8" stroke-width="0.3"/><circle cx="38.5" cy="83.8" r="1.47" fill="#fdebd6" stroke="#f7d2a8" stroke-width="0.3"/></g>
<path d="M9.50,63.20 C9.80,61.37 10.65,58.27 12.00,56.80 C13.35,55.33 15.77,54.63 17.60,54.40 C19.43,54.17 21.27,55.22 23.00,55.40 C24.73,55.58 26.53,56.15 28.00,55.50 C29.47,54.85 30.88,53.08 31.80,51.50 C32.72,49.92 32.80,47.73 33.50,46.00 C34.20,44.27 34.92,42.33 36.00,41.10 C37.08,39.87 38.67,39.08 40.00,38.60 C41.33,38.12 42.42,38.08 44.00,38.20 C45.58,38.32 48.07,38.58 49.50,39.30 C50.93,40.02 51.92,41.13 52.60,42.50 C53.28,43.87 53.78,45.72 53.60,47.50 C53.42,49.28 52.68,51.73 51.50,53.20 C50.32,54.67 48.17,55.42 46.50,56.30 C44.83,57.18 41.67,57.30 41.50,58.50 C41.33,59.70 43.92,61.50 45.50,63.50 C47.08,65.50 49.33,68.00 51.00,70.50 C52.67,73.00 55.25,76.78 55.50,78.50 C55.75,80.22 53.67,80.80 52.50,80.80 C51.33,80.80 49.92,79.63 48.50,78.50 C47.08,77.37 45.45,75.50 44.00,74.00 C42.55,72.50 41.27,70.23 39.80,69.50 C38.33,68.77 37.17,69.25 35.20,69.60 C33.23,69.95 30.53,71.13 28.00,71.60 C25.47,72.07 22.42,72.47 20.00,72.40 C17.58,72.33 15.13,71.97 13.50,71.20 C11.87,70.43 10.87,69.13 10.20,67.80 C9.53,66.47 9.20,65.03 9.50,63.20 Z" fill="#ffffff" stroke="#f6cf9f" stroke-width="0.6"/>
<path d="M5,46 C10,43 15,42 19,41" fill="none" stroke="#6b7078" stroke-width="0.9" stroke-linecap="round"/>
<path d="M21,39 C24,36 27,33 30,30" fill="none" stroke="#6b7078" stroke-width="0.9" stroke-linecap="round"/>
<path d="M14,41 C17,38 21,35 25,34" fill="none" stroke="#6b7078" stroke-width="0.9" stroke-linecap="round"/>
<path d="M61.5,73 C63,68 65.5,64 66.5,59 C68,54 70,50 73.5,47.5" fill="none" stroke="#6b7078" stroke-width="0.9" stroke-linecap="round"/>
<path d="M63.5,81 C65,76 67,71 67.5,65 C68,60 67,56 68.5,52" fill="none" stroke="#6b7078" stroke-width="0.9" stroke-linecap="round"/>
<path d="M10,86 C16,85 22,84 27,84" fill="none" stroke="#6b7078" stroke-width="0.9" stroke-linecap="round"/>
<path d="M33,84 C38,86 42,88 46,90.5" fill="none" stroke="#6b7078" stroke-width="0.9" stroke-linecap="round"/>
<path d="M22,88 C26,86 29,85 31,84" fill="none" stroke="#6b7078" stroke-width="0.9" stroke-linecap="round"/>
<polygon points="24.67,39.61 22.75,40.04 23.81,42.21 21.62,41.21 21.29,43.38 20.04,41.58 18.67,42.99 18.51,41.03 16.21,41.78 17.52,39.74 15.42,39.11 17.38,38.13 16.17,36.57 18.13,36.69 17.72,34.31 19.55,35.89 20.47,33.91 21.17,35.99 22.88,35.01 22.48,36.94 24.90,36.87 23.07,38.45" fill="#d3e3f4" stroke="#a7c2e3" stroke-width="0.5" stroke-linejoin="round"/>
<circle cx="20.20" cy="38.70" r="1.82" fill="#f2f7fd"/>
<circle cx="21.40" cy="37.74" r="0.72" fill="#b9cfea"/>
<polygon points="34.77,84.31 32.85,84.74 33.91,86.91 31.72,85.91 31.39,88.08 30.14,86.28 28.77,87.69 28.61,85.73 26.31,86.48 27.62,84.44 25.52,83.81 27.48,82.83 26.27,81.27 28.23,81.39 27.82,79.01 29.65,80.59 30.57,78.61 31.27,80.69 32.98,79.71 32.58,81.64 35.00,81.57 33.17,83.15" fill="#d3e3f4" stroke="#a7c2e3" stroke-width="0.5" stroke-linejoin="round"/>
<circle cx="30.30" cy="83.40" r="1.82" fill="#f2f7fd"/>
<circle cx="31.50" cy="82.44" r="0.72" fill="#b9cfea"/>
<ellipse cx="91" cy="64.3" rx="10" ry="15" fill="#fbe0c2" stroke="#f6cf9f" stroke-width="0.6"/>
<path d="M96,42 C100,35 108,31.5 117,31.5 C126,31 135,33 140,39 C144,45 145,52 144.5,60 C145.5,68 145,77 140,84 C134,90 126,92.5 117,92 C108,91.5 101,88 98,81 C95,74 96,67 96.5,60 C95.5,54 94,48 96,42 Z" fill="#fbe0c2" stroke="#f6cf9f" stroke-width="0.6"/>
<g clip-path="url(#tclip)"><circle cx="143.2" cy="38.8" r="1.82" fill="#fdecda" stroke="#f6cfa2" stroke-width="0.35"/><circle cx="145.9" cy="41.6" r="1.90" fill="#fdecda" stroke="#f6cfa2" stroke-width="0.35"/><circle cx="123.0" cy="51.8" r="2.51" fill="#fce4e0" stroke="#f4c8bc" stroke-width="0.35"/><circle cx="95.3" cy="90.4" r="2.06" fill="#fdecda" stroke="#f6cfa2" stroke-width="0.35"/><circle cx="119.7" cy="88.7" r="2.35" fill="#fdecda" stroke="#f6cfa2" stroke-width="0.35"/><circle cx="141.0" cy="74.6" r="1.84" fill="#fdecda" stroke="#f6cfa2" stroke-width="0.35"/><circle cx="138.2" cy="67.1" r="2.05" fill="#fdecda" stroke="#f6cfa2" stroke-width="0.35"/><circle cx="92.5" cy="83.5" r="2.27" fill="#fdecda" stroke="#f6cfa2" stroke-width="0.35"/><circle cx="141.9" cy="78.8" r="2.57" fill="#fdecda" stroke="#f6cfa2" stroke-width="0.35"/><circle cx="117.4" cy="74.0" r="2.29" fill="#fdecda" stroke="#f6cfa2" stroke-width="0.35"/><circle cx="97.1" cy="90.3" r="2.05" fill="#fdecda" stroke="#f6cfa2" stroke-width="0.35"/><circle cx="131.6" cy="90.1" r="2.32" fill="#fdecda" stroke="#f6cfa2" stroke-width="0.35"/><circle cx="89.4" cy="82.0" r="2.33" fill="#fdecda" stroke="#f6cfa2" stroke-width="0.35"/><circle cx="92.2" cy="33.1" r="2.23" fill="#fdecda" stroke="#f6cfa2" stroke-width="0.35"/><circle cx="82.1" cy="88.3" r="2.21" fill="#fdecda" stroke="#f6cfa2" stroke-width="0.35"/><circle cx="114.1" cy="55.8" r="2.33" fill="#fce4e0" stroke="#f4c8bc" stroke-width="0.35"/><circle cx="140.5" cy="49.4" r="2.10" fill="#fdecda" stroke="#f6cfa2" stroke-width="0.35"/><circle cx="118.5" cy="48.7" r="2.28" fill="#fce4e0" stroke="#f4c8bc" stroke-width="0.35"/><circle cx="115.8" cy="57.3" r="2.34" fill="#fce4e0" stroke="#f4c8bc" stroke-width="0.35"/><circle cx="114.9" cy="35.6" r="2.60" fill="#fdecda" stroke="#f6cfa2" stroke-width="0.35"/><circle cx="103.5" cy="57.2" r="2.12" fill="#fdecda" stroke="#f6cfa2" stroke-width="0.35"/><circle cx="141.3" cy="90.0" r="2.21" fill="#fdecda" stroke="#f6cfa2" stroke-width="0.35"/><circle cx="106.4" cy="36.1" r="2.52" fill="#fdecda" stroke="#f6cfa2" stroke-width="0.35"/><circle cx="91.3" cy="64.4" r="2.08" fill="#fdecda" stroke="#f6cfa2" stroke-width="0.35"/><circle cx="101.7" cy="52.5" r="1.95" fill="#fdecda" stroke="#f6cfa2" stroke-width="0.35"/><circle cx="82.4" cy="63.7" r="2.44" fill="#fdecda" stroke="#f6cfa2" stroke-width="0.35"/><circle cx="122.7" cy="42.7" r="2.35" fill="#fdecda" stroke="#f6cfa2" stroke-width="0.35"/><circle cx="83.4" cy="55.9" r="2.46" fill="#fdecda" stroke="#f6cfa2" stroke-width="0.35"/><circle cx="140.8" cy="59.0" r="2.48" fill="#fdecda" stroke="#f6cfa2" stroke-width="0.35"/><circle cx="112.9" cy="63.0" r="2.27" fill="#fce4e0" stroke="#f4c8bc" stroke-width="0.35"/><circle cx="145.4" cy="76.9" r="2.18" fill="#fdecda" stroke="#f6cfa2" stroke-width="0.35"/><circle cx="128.0" cy="70.5" r="2.08" fill="#fdecda" stroke="#f6cfa2" stroke-width="0.35"/><circle cx="131.8" cy="81.6" r="2.29" fill="#fdecda" stroke="#f6cfa2" stroke-width="0.35"/><circle cx="142.2" cy="31.1" r="2.20" fill="#fdecda" stroke="#f6cfa2" stroke-width="0.35"/><circle cx="121.9" cy="51.5" r="1.94" fill="#fce4e0" stroke="#f4c8bc" stroke-width="0.35"/><circle cx="125.7" cy="57.4" r="2.02" fill="#fce4e0" stroke="#f4c8bc" stroke-width="0.35"/><circle cx="82.8" cy="90.9" r="2.08" fill="#fdecda" stroke="#f6cfa2" stroke-width="0.35"/><circle cx="87.8" cy="43.6" r="2.00" fill="#fdecda" stroke="#f6cfa2" stroke-width="0.35"/><circle cx="137.2" cy="41.4" r="2.02" fill="#fdecda" stroke="#f6cfa2" stroke-width="0.35"/><circle cx="86.4" cy="59.6" r="1.97" fill="#fdecda" stroke="#f6cfa2" stroke-width="0.35"/><circle cx="102.7" cy="76.3" r="2.54" fill="#fdecda" stroke="#f6cfa2" stroke-width="0.35"/><circle cx="135.1" cy="32.4" r="2.10" fill="#fdecda" stroke="#f6cfa2" stroke-width="0.35"/><circle cx="136.0" cy="32.1" r="1.96" fill="#fdecda" stroke="#f6cfa2" stroke-width="0.35"/><circle cx="112.3" cy="54.1" r="2.40" fill="#fce4e0" stroke="#f4c8bc" stroke-width="0.35"/><circle cx="127.4" cy="59.3" r="2.00" fill="#fce4e0" stroke="#f4c8bc" stroke-width="0.35"/><circle cx="95.2" cy="46.8" r="1.85" fill="#fdecda" stroke="#f6cfa2" stroke-width="0.35"/><circle cx="123.9" cy="39.9" r="2.51" fill="#fdecda" stroke="#f6cfa2" stroke-width="0.35"/><circle cx="122.6" cy="33.6" r="2.20" fill="#fdecda" stroke="#f6cfa2" stroke-width="0.35"/><circle cx="119.8" cy="32.7" r="2.19" fill="#fdecda" stroke="#f6cfa2" stroke-width="0.35"/><circle cx="82.0" cy="78.3" r="1.80" fill="#fdecda" stroke="#f6cfa2" stroke-width="0.35"/><circle cx="121.7" cy="92.1" r="2.48" fill="#fdecda" stroke="#f6cfa2" stroke-width="0.35"/><circle cx="95.4" cy="63.7" r="1.91" fill="#fdecda" stroke="#f6cfa2" stroke-width="0.35"/><circle cx="102.6" cy="84.4" r="2.45" fill="#fdecda" stroke="#f6cfa2" stroke-width="0.35"/><circle cx="80.6" cy="53.9" r="2.31" fill="#fdecda" stroke="#f6cfa2" stroke-width="0.35"/><circle cx="91.6" cy="80.6" r="2.51" fill="#fdecda" stroke="#f6cfa2" stroke-width="0.35"/><circle cx="116.4" cy="52.8" r="2.48" fill="#fce4e0" stroke="#f4c8bc" stroke-width="0.35"/><circle cx="113.8" cy="41.9" r="2.02" fill="#fdecda" stroke="#f6cfa2" stroke-width="0.35"/><circle cx="90.5" cy="82.8" r="2.21" fill="#fdecda" stroke="#f6cfa2" stroke-width="0.35"/><circle cx="126.0" cy="81.5" r="2.58" fill="#fdecda" stroke="#f6cfa2" stroke-width="0.35"/><circle cx="92.6" cy="55.6" r="2.50" fill="#fdecda" stroke="#f6cfa2" stroke-width="0.35"/><circle cx="130.3" cy="54.4" r="2.32" fill="#fdecda" stroke="#f6cfa2" stroke-width="0.35"/><circle cx="92.9" cy="40.2" r="1.84" fill="#fdecda" stroke="#f6cfa2" stroke-width="0.35"/><circle cx="105.1" cy="44.9" r="2.21" fill="#fdecda" stroke="#f6cfa2" stroke-width="0.35"/><circle cx="144.0" cy="39.6" r="2.25" fill="#fdecda" stroke="#f6cfa2" stroke-width="0.35"/><circle cx="137.1" cy="67.7" r="2.22" fill="#fdecda" stroke="#f6cfa2" stroke-width="0.35"/><circle cx="130.7" cy="31.4" r="2.56" fill="#fdecda" stroke="#f6cfa2" stroke-width="0.35"/><circle cx="125.3" cy="80.8" r="2.46" fill="#fdecda" stroke="#f6cfa2" stroke-width="0.35"/><circle cx="86.5" cy="34.2" r="1.94" fill="#fdecda" stroke="#f6cfa2" stroke-width="0.35"/><circle cx="113.3" cy="89.1" r="2.53" fill="#fdecda" stroke="#f6cfa2" stroke-width="0.35"/><circle cx="107.2" cy="69.2" r="2.39" fill="#fdecda" stroke="#f6cfa2" stroke-width="0.35"/><circle cx="101.9" cy="91.1" r="2.55" fill="#fdecda" stroke="#f6cfa2" stroke-width="0.35"/><circle cx="128.0" cy="86.8" r="2.44" fill="#fdecda" stroke="#f6cfa2" stroke-width="0.35"/><circle cx="123.0" cy="50.2" r="2.03" fill="#fce4e0" stroke="#f4c8bc" stroke-width="0.35"/><circle cx="95.7" cy="33.6" r="2.54" fill="#fdecda" stroke="#f6cfa2" stroke-width="0.35"/><circle cx="99.7" cy="31.5" r="2.05" fill="#fdecda" stroke="#f6cfa2" stroke-width="0.35"/><circle cx="86.8" cy="58.0" r="2.07" fill="#fdecda" stroke="#f6cfa2" stroke-width="0.35"/><circle cx="91.6" cy="60.0" r="2.13" fill="#fdecda" stroke="#f6cfa2" stroke-width="0.35"/><circle cx="103.4" cy="81.2" r="2.05" fill="#fdecda" stroke="#f6cfa2" stroke-width="0.35"/><circle cx="115.7" cy="85.3" r="2.57" fill="#fdecda" stroke="#f6cfa2" stroke-width="0.35"/><circle cx="104.7" cy="32.6" r="2.56" fill="#fdecda" stroke="#f6cfa2" stroke-width="0.35"/><circle cx="113.9" cy="43.7" r="1.90" fill="#fdecda" stroke="#f6cfa2" stroke-width="0.35"/><circle cx="95.8" cy="49.6" r="1.91" fill="#fdecda" stroke="#f6cfa2" stroke-width="0.35"/><circle cx="83.2" cy="92.6" r="2.46" fill="#fdecda" stroke="#f6cfa2" stroke-width="0.35"/><circle cx="87.5" cy="60.3" r="2.44" fill="#fdecda" stroke="#f6cfa2" stroke-width="0.35"/><circle cx="113.3" cy="34.4" r="2.07" fill="#fdecda" stroke="#f6cfa2" stroke-width="0.35"/><circle cx="105.1" cy="87.6" r="2.27" fill="#fdecda" stroke="#f6cfa2" stroke-width="0.35"/><circle cx="110.3" cy="69.7" r="1.84" fill="#fdecda" stroke="#f6cfa2" stroke-width="0.35"/><circle cx="125.3" cy="80.9" r="2.34" fill="#fdecda" stroke="#f6cfa2" stroke-width="0.35"/><circle cx="103.8" cy="48.0" r="1.81" fill="#fdecda" stroke="#f6cfa2" stroke-width="0.35"/><circle cx="85.4" cy="39.7" r="2.16" fill="#fdecda" stroke="#f6cfa2" stroke-width="0.35"/><circle cx="131.4" cy="43.7" r="2.18" fill="#fdecda" stroke="#f6cfa2" stroke-width="0.35"/><circle cx="122.0" cy="69.7" r="1.82" fill="#fce4e0" stroke="#f4c8bc" stroke-width="0.35"/><circle cx="140.8" cy="66.9" r="2.04" fill="#fdecda" stroke="#f6cfa2" stroke-width="0.35"/><circle cx="95.8" cy="73.4" r="2.55" fill="#fdecda" stroke="#f6cfa2" stroke-width="0.35"/><circle cx="102.3" cy="55.1" r="2.25" fill="#fdecda" stroke="#f6cfa2" stroke-width="0.35"/><circle cx="91.5" cy="55.6" r="2.53" fill="#fdecda" stroke="#f6cfa2" stroke-width="0.35"/><circle cx="116.7" cy="81.9" r="2.01" fill="#fdecda" stroke="#f6cfa2" stroke-width="0.35"/><circle cx="137.3" cy="79.3" r="1.98" fill="#fdecda" stroke="#f6cfa2" stroke-width="0.35"/><circle cx="115.0" cy="73.0" r="2.26" fill="#fdecda" stroke="#f6cfa2" stroke-width="0.35"/><circle cx="119.7" cy="45.1" r="2.24" fill="#fdecda" stroke="#f6cfa2" stroke-width="0.35"/><circle cx="103.4" cy="80.3" r="2.10" fill="#fdecda" stroke="#f6cfa2" stroke-width="0.35"/><circle cx="144.6" cy="66.6" r="1.98" fill="#fdecda" stroke="#f6cfa2" stroke-width="0.35"/><circle cx="107.4" cy="38.1" r="2.39" fill="#fdecda" stroke="#f6cfa2" stroke-width="0.35"/><circle cx="83.0" cy="68.1" r="2.05" fill="#fdecda" stroke="#f6cfa2" stroke-width="0.35"/><circle cx="131.3" cy="38.0" r="2.34" fill="#fdecda" stroke="#f6cfa2" stroke-width="0.35"/><circle cx="127.1" cy="44.7" r="1.90" fill="#fdecda" stroke="#f6cfa2" stroke-width="0.35"/><circle cx="104.6" cy="70.9" r="2.01" fill="#fdecda" stroke="#f6cfa2" stroke-width="0.35"/><circle cx="80.6" cy="57.8" r="2.45" fill="#fdecda" stroke="#f6cfa2" stroke-width="0.35"/><circle cx="90.4" cy="89.3" r="2.21" fill="#fdecda" stroke="#f6cfa2" stroke-width="0.35"/><circle cx="90.6" cy="36.3" r="2.10" fill="#fdecda" stroke="#f6cfa2" stroke-width="0.35"/><circle cx="111.4" cy="41.1" r="1.87" fill="#fdecda" stroke="#f6cfa2" stroke-width="0.35"/><circle cx="113.1" cy="46.0" r="2.16" fill="#fdecda" stroke="#f6cfa2" stroke-width="0.35"/><circle cx="109.7" cy="73.9" r="2.26" fill="#fdecda" stroke="#f6cfa2" stroke-width="0.35"/><circle cx="95.1" cy="41.3" r="2.49" fill="#fdecda" stroke="#f6cfa2" stroke-width="0.35"/><circle cx="83.3" cy="37.8" r="1.86" fill="#fdecda" stroke="#f6cfa2" stroke-width="0.35"/><circle cx="134.5" cy="64.1" r="2.54" fill="#fdecda" stroke="#f6cfa2" stroke-width="0.35"/><circle cx="121.3" cy="51.1" r="2.14" fill="#fce4e0" stroke="#f4c8bc" stroke-width="0.35"/><circle cx="128.3" cy="44.6" r="2.44" fill="#fdecda" stroke="#f6cfa2" stroke-width="0.35"/><circle cx="106.9" cy="32.7" r="2.07" fill="#fdecda" stroke="#f6cfa2" stroke-width="0.35"/><circle cx="117.0" cy="39.2" r="2.52" fill="#fdecda" stroke="#f6cfa2" stroke-width="0.35"/><circle cx="141.1" cy="62.2" r="2.52" fill="#fdecda" stroke="#f6cfa2" stroke-width="0.35"/><circle cx="125.5" cy="63.9" r="1.93" fill="#fce4e0" stroke="#f4c8bc" stroke-width="0.35"/><circle cx="142.9" cy="87.9" r="2.16" fill="#fdecda" stroke="#f6cfa2" stroke-width="0.35"/><circle cx="105.4" cy="34.6" r="2.30" fill="#fdecda" stroke="#f6cfa2" stroke-width="0.35"/><circle cx="136.4" cy="54.5" r="2.03" fill="#fdecda" stroke="#f6cfa2" stroke-width="0.35"/><circle cx="120.5" cy="80.0" r="1.94" fill="#fdecda" stroke="#f6cfa2" stroke-width="0.35"/><circle cx="98.6" cy="70.5" r="1.83" fill="#fdecda" stroke="#f6cfa2" stroke-width="0.35"/><circle cx="133.9" cy="49.9" r="2.47" fill="#fdecda" stroke="#f6cfa2" stroke-width="0.35"/><circle cx="110.0" cy="40.4" r="1.82" fill="#fdecda" stroke="#f6cfa2" stroke-width="0.35"/><circle cx="87.5" cy="46.4" r="2.41" fill="#fdecda" stroke="#f6cfa2" stroke-width="0.35"/><circle cx="132.4" cy="69.8" r="2.05" fill="#fdecda" stroke="#f6cfa2" stroke-width="0.35"/><circle cx="123.8" cy="76.1" r="2.09" fill="#fdecda" stroke="#f6cfa2" stroke-width="0.35"/><circle cx="85.4" cy="59.5" r="1.98" fill="#fdecda" stroke="#f6cfa2" stroke-width="0.35"/><circle cx="92.5" cy="54.6" r="1.86" fill="#fdecda" stroke="#f6cfa2" stroke-width="0.35"/><circle cx="139.3" cy="47.7" r="2.52" fill="#fdecda" stroke="#f6cfa2" stroke-width="0.35"/><circle cx="128.7" cy="30.7" r="2.52" fill="#fdecda" stroke="#f6cfa2" stroke-width="0.35"/><circle cx="133.4" cy="63.1" r="2.51" fill="#fdecda" stroke="#f6cfa2" stroke-width="0.35"/><circle cx="111.6" cy="31.6" r="1.92" fill="#fdecda" stroke="#f6cfa2" stroke-width="0.35"/><circle cx="100.5" cy="84.1" r="2.46" fill="#fdecda" stroke="#f6cfa2" stroke-width="0.35"/><circle cx="87.8" cy="52.0" r="1.89" fill="#fdecda" stroke="#f6cfa2" stroke-width="0.35"/><circle cx="95.1" cy="52.2" r="2.13" fill="#fdecda" stroke="#f6cfa2" stroke-width="0.35"/><circle cx="89.9" cy="71.4" r="1.99" fill="#fdecda" stroke="#f6cfa2" stroke-width="0.35"/><circle cx="138.7" cy="60.3" r="2.14" fill="#fdecda" stroke="#f6cfa2" stroke-width="0.35"/><circle cx="130.5" cy="51.7" r="2.01" fill="#fdecda" stroke="#f6cfa2" stroke-width="0.35"/><circle cx="88.1" cy="48.6" r="1.99" fill="#fdecda" stroke="#f6cfa2" stroke-width="0.35"/><circle cx="128.5" cy="52.4" r="2.37" fill="#fdecda" stroke="#f6cfa2" stroke-width="0.35"/><circle cx="98.2" cy="34.4" r="2.04" fill="#fdecda" stroke="#f6cfa2" stroke-width="0.35"/><circle cx="105.9" cy="87.3" r="1.96" fill="#fdecda" stroke="#f6cfa2" stroke-width="0.35"/><circle cx="94.0" cy="39.8" r="2.00" fill="#fdecda" stroke="#f6cfa2" stroke-width="0.35"/><circle cx="143.4" cy="88.7" r="1.98" fill="#fdecda" stroke="#f6cfa2" stroke-width="0.35"/><circle cx="83.3" cy="60.6" r="2.27" fill="#fdecda" stroke="#f6cfa2" stroke-width="0.35"/><circle cx="87.4" cy="56.3" r="2.41" fill="#fdecda" stroke="#f6cfa2" stroke-width="0.35"/><circle cx="80.1" cy="75.3" r="2.35" fill="#fdecda" stroke="#f6cfa2" stroke-width="0.35"/><circle cx="131.9" cy="60.7" r="2.17" fill="#fdecda" stroke="#f6cfa2" stroke-width="0.35"/><circle cx="114.2" cy="38.6" r="2.21" fill="#fdecda" stroke="#f6cfa2" stroke-width="0.35"/><circle cx="95.8" cy="50.2" r="1.84" fill="#fdecda" stroke="#f6cfa2" stroke-width="0.35"/><circle cx="90.5" cy="33.5" r="2.23" fill="#fdecda" stroke="#f6cfa2" stroke-width="0.35"/><circle cx="95.6" cy="65.0" r="2.20" fill="#fdecda" stroke="#f6cfa2" stroke-width="0.35"/><circle cx="95.4" cy="38.0" r="2.28" fill="#fdecda" stroke="#f6cfa2" stroke-width="0.35"/><circle cx="124.7" cy="73.5" r="2.21" fill="#fdecda" stroke="#f6cfa2" stroke-width="0.35"/><circle cx="118.3" cy="31.5" r="2.05" fill="#fdecda" stroke="#f6cfa2" stroke-width="0.35"/><circle cx="132.8" cy="53.8" r="1.88" fill="#fdecda" stroke="#f6cfa2" stroke-width="0.35"/><circle cx="107.8" cy="82.5" r="1.88" fill="#fdecda" stroke="#f6cfa2" stroke-width="0.35"/><circle cx="87.4" cy="61.4" r="2.50" fill="#fdecda" stroke="#f6cfa2" stroke-width="0.35"/><circle cx="105.8" cy="45.6" r="2.41" fill="#fdecda" stroke="#f6cfa2" stroke-width="0.35"/><circle cx="86.2" cy="48.6" r="2.28" fill="#fdecda" stroke="#f6cfa2" stroke-width="0.35"/><circle cx="136.1" cy="84.2" r="2.06" fill="#fdecda" stroke="#f6cfa2" stroke-width="0.35"/><circle cx="97.6" cy="52.9" r="1.90" fill="#fdecda" stroke="#f6cfa2" stroke-width="0.35"/><circle cx="98.0" cy="78.3" r="2.58" fill="#fdecda" stroke="#f6cfa2" stroke-width="0.35"/><circle cx="97.8" cy="34.6" r="2.39" fill="#fdecda" stroke="#f6cfa2" stroke-width="0.35"/><circle cx="143.8" cy="80.0" r="2.13" fill="#fdecda" stroke="#f6cfa2" stroke-width="0.35"/><circle cx="129.1" cy="77.9" r="2.40" fill="#fdecda" stroke="#f6cfa2" stroke-width="0.35"/><circle cx="112.5" cy="92.9" r="2.42" fill="#fdecda" stroke="#f6cfa2" stroke-width="0.35"/><circle cx="95.5" cy="57.1" r="1.87" fill="#fdecda" stroke="#f6cfa2" stroke-width="0.35"/><circle cx="104.7" cy="81.5" r="2.19" fill="#fdecda" stroke="#f6cfa2" stroke-width="0.35"/><circle cx="114.6" cy="79.1" r="1.87" fill="#fdecda" stroke="#f6cfa2" stroke-width="0.35"/><circle cx="103.3" cy="60.5" r="2.20" fill="#fdecda" stroke="#f6cfa2" stroke-width="0.35"/><circle cx="125.2" cy="89.0" r="2.44" fill="#fdecda" stroke="#f6cfa2" stroke-width="0.35"/><circle cx="116.0" cy="73.1" r="2.23" fill="#fdecda" stroke="#f6cfa2" stroke-width="0.35"/><circle cx="145.1" cy="67.6" r="2.28" fill="#fdecda" stroke="#f6cfa2" stroke-width="0.35"/><circle cx="106.1" cy="56.4" r="2.41" fill="#fdecda" stroke="#f6cfa2" stroke-width="0.35"/><circle cx="104.6" cy="86.9" r="2.38" fill="#fdecda" stroke="#f6cfa2" stroke-width="0.35"/><circle cx="143.0" cy="74.5" r="2.26" fill="#fdecda" stroke="#f6cfa2" stroke-width="0.35"/><circle cx="104.2" cy="31.1" r="2.33" fill="#fdecda" stroke="#f6cfa2" stroke-width="0.35"/><circle cx="129.6" cy="75.6" r="2.41" fill="#fdecda" stroke="#f6cfa2" stroke-width="0.35"/><circle cx="82.4" cy="73.1" r="2.02" fill="#fdecda" stroke="#f6cfa2" stroke-width="0.35"/><circle cx="105.6" cy="84.7" r="2.12" fill="#fdecda" stroke="#f6cfa2" stroke-width="0.35"/><circle cx="110.8" cy="33.2" r="1.95" fill="#fdecda" stroke="#f6cfa2" stroke-width="0.35"/><circle cx="93.9" cy="43.6" r="2.22" fill="#fdecda" stroke="#f6cfa2" stroke-width="0.35"/><circle cx="83.1" cy="35.6" r="1.87" fill="#fdecda" stroke="#f6cfa2" stroke-width="0.35"/><circle cx="128.4" cy="91.1" r="2.40" fill="#fdecda" stroke="#f6cfa2" stroke-width="0.35"/><circle cx="114.0" cy="38.2" r="2.43" fill="#fdecda" stroke="#f6cfa2" stroke-width="0.35"/><circle cx="88.5" cy="34.8" r="2.21" fill="#fdecda" stroke="#f6cfa2" stroke-width="0.35"/><circle cx="136.9" cy="49.6" r="2.49" fill="#fdecda" stroke="#f6cfa2" stroke-width="0.35"/><circle cx="101.9" cy="90.9" r="2.39" fill="#fdecda" stroke="#f6cfa2" stroke-width="0.35"/><circle cx="137.1" cy="92.0" r="2.45" fill="#fdecda" stroke="#f6cfa2" stroke-width="0.35"/><circle cx="93.0" cy="62.5" r="2.24" fill="#fdecda" stroke="#f6cfa2" stroke-width="0.35"/><circle cx="127.7" cy="44.5" r="2.26" fill="#fdecda" stroke="#f6cfa2" stroke-width="0.35"/><circle cx="98.8" cy="41.6" r="2.16" fill="#fdecda" stroke="#f6cfa2" stroke-width="0.35"/><circle cx="133.0" cy="64.9" r="2.08" fill="#fdecda" stroke="#f6cfa2" stroke-width="0.35"/><circle cx="94.9" cy="52.6" r="2.12" fill="#fdecda" stroke="#f6cfa2" stroke-width="0.35"/><circle cx="97.9" cy="49.6" r="1.98" fill="#fdecda" stroke="#f6cfa2" stroke-width="0.35"/><circle cx="99.4" cy="72.4" r="2.30" fill="#fdecda" stroke="#f6cfa2" stroke-width="0.35"/><circle cx="121.4" cy="88.2" r="2.33" fill="#fdecda" stroke="#f6cfa2" stroke-width="0.35"/><circle cx="88.6" cy="55.4" r="2.22" fill="#fdecda" stroke="#f6cfa2" stroke-width="0.35"/><circle cx="129.3" cy="63.4" r="1.87" fill="#fdecda" stroke="#f6cfa2" stroke-width="0.35"/><circle cx="111.4" cy="71.3" r="2.43" fill="#fdecda" stroke="#f6cfa2" stroke-width="0.35"/><circle cx="109.4" cy="43.5" r="1.83" fill="#fdecda" stroke="#f6cfa2" stroke-width="0.35"/><circle cx="113.2" cy="77.2" r="1.89" fill="#fdecda" stroke="#f6cfa2" stroke-width="0.35"/><circle cx="114.5" cy="67.6" r="2.25" fill="#fce4e0" stroke="#f4c8bc" stroke-width="0.35"/><circle cx="95.3" cy="35.8" r="1.82" fill="#fdecda" stroke="#f6cfa2" stroke-width="0.35"/><circle cx="100.1" cy="86.5" r="2.14" fill="#fdecda" stroke="#f6cfa2" stroke-width="0.35"/><circle cx="145.1" cy="81.9" r="2.27" fill="#fdecda" stroke="#f6cfa2" stroke-width="0.35"/><circle cx="109.0" cy="65.4" r="2.47" fill="#fdecda" stroke="#f6cfa2" stroke-width="0.35"/><circle cx="102.1" cy="39.8" r="2.52" fill="#fdecda" stroke="#f6cfa2" stroke-width="0.35"/><circle cx="121.6" cy="53.8" r="2.12" fill="#fce4e0" stroke="#f4c8bc" stroke-width="0.35"/><circle cx="86.7" cy="65.7" r="2.43" fill="#fdecda" stroke="#f6cfa2" stroke-width="0.35"/><circle cx="112.9" cy="73.9" r="2.39" fill="#fdecda" stroke="#f6cfa2" stroke-width="0.35"/><circle cx="101.8" cy="70.2" r="2.58" fill="#fdecda" stroke="#f6cfa2" stroke-width="0.35"/><circle cx="127.2" cy="41.5" r="2.33" fill="#fdecda" stroke="#f6cfa2" stroke-width="0.35"/><circle cx="122.5" cy="78.9" r="2.36" fill="#fdecda" stroke="#f6cfa2" stroke-width="0.35"/><circle cx="140.2" cy="91.5" r="1.97" fill="#fdecda" stroke="#f6cfa2" stroke-width="0.35"/><circle cx="111.6" cy="32.9" r="2.59" fill="#fdecda" stroke="#f6cfa2" stroke-width="0.35"/><circle cx="87.0" cy="56.9" r="2.29" fill="#fdecda" stroke="#f6cfa2" stroke-width="0.35"/><circle cx="108.3" cy="40.8" r="2.20" fill="#fdecda" stroke="#f6cfa2" stroke-width="0.35"/><circle cx="94.7" cy="60.9" r="2.37" fill="#fdecda" stroke="#f6cfa2" stroke-width="0.35"/><circle cx="99.7" cy="58.1" r="2.31" fill="#fdecda" stroke="#f6cfa2" stroke-width="0.35"/><circle cx="115.1" cy="80.5" r="2.51" fill="#fdecda" stroke="#f6cfa2" stroke-width="0.35"/><circle cx="143.8" cy="40.4" r="2.19" fill="#fdecda" stroke="#f6cfa2" stroke-width="0.35"/><circle cx="87.8" cy="74.0" r="2.12" fill="#fdecda" stroke="#f6cfa2" stroke-width="0.35"/><circle cx="136.1" cy="60.5" r="2.44" fill="#fdecda" stroke="#f6cfa2" stroke-width="0.35"/><circle cx="82.0" cy="68.6" r="2.13" fill="#fdecda" stroke="#f6cfa2" stroke-width="0.35"/><circle cx="135.0" cy="36.5" r="1.87" fill="#fdecda" stroke="#f6cfa2" stroke-width="0.35"/><circle cx="125.4" cy="50.6" r="2.15" fill="#fce4e0" stroke="#f4c8bc" stroke-width="0.35"/><circle cx="106.7" cy="92.1" r="2.30" fill="#fdecda" stroke="#f6cfa2" stroke-width="0.35"/><circle cx="135.0" cy="82.9" r="2.49" fill="#fdecda" stroke="#f6cfa2" stroke-width="0.35"/><circle cx="109.5" cy="48.3" r="2.21" fill="#fdecda" stroke="#f6cfa2" stroke-width="0.35"/><circle cx="139.0" cy="85.6" r="2.18" fill="#fdecda" stroke="#f6cfa2" stroke-width="0.35"/><circle cx="139.8" cy="78.0" r="1.83" fill="#fdecda" stroke="#f6cfa2" stroke-width="0.35"/><circle cx="121.8" cy="80.0" r="1.83" fill="#fdecda" stroke="#f6cfa2" stroke-width="0.35"/><circle cx="104.9" cy="70.7" r="2.21" fill="#fdecda" stroke="#f6cfa2" stroke-width="0.35"/><circle cx="115.0" cy="35.7" r="2.01" fill="#fdecda" stroke="#f6cfa2" stroke-width="0.35"/><circle cx="137.3" cy="52.0" r="2.18" fill="#fdecda" stroke="#f6cfa2" stroke-width="0.35"/><circle cx="119.0" cy="47.8" r="2.13" fill="#fce4e0" stroke="#f4c8bc" stroke-width="0.35"/><circle cx="113.4" cy="84.7" r="2.47" fill="#fdecda" stroke="#f6cfa2" stroke-width="0.35"/><circle cx="91.7" cy="61.7" r="2.40" fill="#fdecda" stroke="#f6cfa2" stroke-width="0.35"/><circle cx="139.2" cy="63.4" r="2.31" fill="#fdecda" stroke="#f6cfa2" stroke-width="0.35"/><circle cx="122.6" cy="72.1" r="2.51" fill="#fce4e0" stroke="#f4c8bc" stroke-width="0.35"/><circle cx="145.0" cy="92.5" r="1.90" fill="#fdecda" stroke="#f6cfa2" stroke-width="0.35"/><circle cx="127.3" cy="54.4" r="2.02" fill="#fce4e0" stroke="#f4c8bc" stroke-width="0.35"/><circle cx="86.6" cy="87.4" r="2.51" fill="#fdecda" stroke="#f6cfa2" stroke-width="0.35"/><circle cx="114.9" cy="61.4" r="1.96" fill="#fce4e0" stroke="#f4c8bc" stroke-width="0.35"/><circle cx="141.2" cy="77.7" r="1.93" fill="#fdecda" stroke="#f6cfa2" stroke-width="0.35"/><circle cx="117.9" cy="92.7" r="2.01" fill="#fdecda" stroke="#f6cfa2" stroke-width="0.35"/><circle cx="104.6" cy="52.9" r="2.10" fill="#fdecda" stroke="#f6cfa2" stroke-width="0.35"/><circle cx="87.8" cy="69.6" r="2.00" fill="#fdecda" stroke="#f6cfa2" stroke-width="0.35"/><circle cx="124.9" cy="59.5" r="2.47" fill="#fce4e0" stroke="#f4c8bc" stroke-width="0.35"/><circle cx="129.3" cy="84.1" r="1.92" fill="#fdecda" stroke="#f6cfa2" stroke-width="0.35"/><circle cx="132.4" cy="78.8" r="2.03" fill="#fdecda" stroke="#f6cfa2" stroke-width="0.35"/><circle cx="80.1" cy="36.3" r="2.42" fill="#fdecda" stroke="#f6cfa2" stroke-width="0.35"/><circle cx="143.9" cy="34.2" r="1.99" fill="#fdecda" stroke="#f6cfa2" stroke-width="0.35"/><circle cx="106.5" cy="34.3" r="2.31" fill="#fdecda" stroke="#f6cfa2" stroke-width="0.35"/><circle cx="136.6" cy="83.1" r="1.94" fill="#fdecda" stroke="#f6cfa2" stroke-width="0.35"/><circle cx="140.1" cy="79.5" r="1.92" fill="#fdecda" stroke="#f6cfa2" stroke-width="0.35"/><circle cx="136.3" cy="88.6" r="2.50" fill="#fdecda" stroke="#f6cfa2" stroke-width="0.35"/><circle cx="129.6" cy="81.5" r="2.23" fill="#fdecda" stroke="#f6cfa2" stroke-width="0.35"/><circle cx="80.6" cy="72.8" r="2.20" fill="#fdecda" stroke="#f6cfa2" stroke-width="0.35"/><circle cx="89.8" cy="38.4" r="2.51" fill="#fdecda" stroke="#f6cfa2" stroke-width="0.35"/><circle cx="139.7" cy="33.2" r="1.81" fill="#fdecda" stroke="#f6cfa2" stroke-width="0.35"/><circle cx="126.1" cy="48.4" r="2.50" fill="#fdecda" stroke="#f6cfa2" stroke-width="0.35"/><circle cx="110.5" cy="74.9" r="1.84" fill="#fdecda" stroke="#f6cfa2" stroke-width="0.35"/><circle cx="131.3" cy="42.6" r="2.14" fill="#fdecda" stroke="#f6cfa2" stroke-width="0.35"/><circle cx="112.1" cy="50.5" r="1.99" fill="#fce4e0" stroke="#f4c8bc" stroke-width="0.35"/><circle cx="109.5" cy="33.3" r="1.93" fill="#fdecda" stroke="#f6cfa2" stroke-width="0.35"/><circle cx="88.6" cy="83.8" r="2.05" fill="#fdecda" stroke="#f6cfa2" stroke-width="0.35"/><circle cx="144.9" cy="86.7" r="1.93" fill="#fdecda" stroke="#f6cfa2" stroke-width="0.35"/><circle cx="136.5" cy="92.2" r="2.15" fill="#fdecda" stroke="#f6cfa2" stroke-width="0.35"/><circle cx="111.9" cy="72.5" r="2.19" fill="#fdecda" stroke="#f6cfa2" stroke-width="0.35"/><circle cx="97.4" cy="76.1" r="1.98" fill="#fdecda" stroke="#f6cfa2" stroke-width="0.35"/><circle cx="105.4" cy="31.4" r="2.06" fill="#fdecda" stroke="#f6cfa2" stroke-width="0.35"/><circle cx="133.2" cy="38.7" r="1.95" fill="#fdecda" stroke="#f6cfa2" stroke-width="0.35"/><circle cx="106.1" cy="48.7" r="1.81" fill="#fdecda" stroke="#f6cfa2" stroke-width="0.35"/><circle cx="83.6" cy="42.7" r="2.43" fill="#fdecda" stroke="#f6cfa2" stroke-width="0.35"/><circle cx="131.2" cy="80.8" r="2.36" fill="#fdecda" stroke="#f6cfa2" stroke-width="0.35"/><circle cx="145.9" cy="46.2" r="2.37" fill="#fdecda" stroke="#f6cfa2" stroke-width="0.35"/><circle cx="109.7" cy="90.5" r="2.15" fill="#fdecda" stroke="#f6cfa2" stroke-width="0.35"/><circle cx="127.8" cy="78.9" r="2.57" fill="#fdecda" stroke="#f6cfa2" stroke-width="0.35"/><circle cx="130.5" cy="50.6" r="2.32" fill="#fdecda" stroke="#f6cfa2" stroke-width="0.35"/><circle cx="132.6" cy="89.2" r="2.00" fill="#fdecda" stroke="#f6cfa2" stroke-width="0.35"/><circle cx="128.2" cy="75.4" r="1.93" fill="#fdecda" stroke="#f6cfa2" stroke-width="0.35"/><circle cx="87.9" cy="65.4" r="2.28" fill="#fdecda" stroke="#f6cfa2" stroke-width="0.35"/><circle cx="101.7" cy="69.0" r="1.92" fill="#fdecda" stroke="#f6cfa2" stroke-width="0.35"/><circle cx="117.8" cy="63.7" r="2.47" fill="#fce4e0" stroke="#f4c8bc" stroke-width="0.35"/><circle cx="127.5" cy="35.0" r="2.25" fill="#fdecda" stroke="#f6cfa2" stroke-width="0.35"/><circle cx="88.4" cy="63.2" r="2.34" fill="#fdecda" stroke="#f6cfa2" stroke-width="0.35"/><circle cx="126.5" cy="30.6" r="2.23" fill="#fdecda" stroke="#f6cfa2" stroke-width="0.35"/><circle cx="91.5" cy="61.9" r="2.19" fill="#fdecda" stroke="#f6cfa2" stroke-width="0.35"/><circle cx="112.2" cy="78.1" r="2.04" fill="#fdecda" stroke="#f6cfa2" stroke-width="0.35"/><circle cx="111.4" cy="45.5" r="1.96" fill="#fdecda" stroke="#f6cfa2" stroke-width="0.35"/><circle cx="121.7" cy="40.0" r="2.44" fill="#fdecda" stroke="#f6cfa2" stroke-width="0.35"/><circle cx="104.7" cy="37.1" r="2.43" fill="#fdecda" stroke="#f6cfa2" stroke-width="0.35"/><circle cx="81.4" cy="48.6" r="2.32" fill="#fdecda" stroke="#f6cfa2" stroke-width="0.35"/><circle cx="81.0" cy="74.2" r="2.25" fill="#fdecda" stroke="#f6cfa2" stroke-width="0.35"/><circle cx="144.4" cy="49.7" r="2.46" fill="#fdecda" stroke="#f6cfa2" stroke-width="0.35"/><circle cx="144.7" cy="61.4" r="1.86" fill="#fdecda" stroke="#f6cfa2" stroke-width="0.35"/><circle cx="102.5" cy="81.3" r="1.80" fill="#fdecda" stroke="#f6cfa2" stroke-width="0.35"/><circle cx="121.8" cy="62.8" r="2.39" fill="#fce4e0" stroke="#f4c8bc" stroke-width="0.35"/><circle cx="104.4" cy="89.0" r="1.89" fill="#fdecda" stroke="#f6cfa2" stroke-width="0.35"/><circle cx="107.5" cy="49.3" r="2.25" fill="#fdecda" stroke="#f6cfa2" stroke-width="0.35"/><circle cx="94.3" cy="54.4" r="2.16" fill="#fdecda" stroke="#f6cfa2" stroke-width="0.35"/><circle cx="140.9" cy="31.8" r="2.03" fill="#fdecda" stroke="#f6cfa2" stroke-width="0.35"/><circle cx="89.8" cy="75.0" r="2.42" fill="#fdecda" stroke="#f6cfa2" stroke-width="0.35"/><circle cx="81.1" cy="79.3" r="2.50" fill="#fdecda" stroke="#f6cfa2" stroke-width="0.35"/><circle cx="110.6" cy="67.5" r="2.43" fill="#fdecda" stroke="#f6cfa2" stroke-width="0.35"/><circle cx="141.2" cy="44.2" r="2.37" fill="#fdecda" stroke="#f6cfa2" stroke-width="0.35"/><circle cx="85.2" cy="53.0" r="2.53" fill="#fdecda" stroke="#f6cfa2" stroke-width="0.35"/><circle cx="121.4" cy="63.6" r="2.16" fill="#fce4e0" stroke="#f4c8bc" stroke-width="0.35"/><circle cx="110.1" cy="32.0" r="2.25" fill="#fdecda" stroke="#f6cfa2" stroke-width="0.35"/><circle cx="142.1" cy="37.5" r="1.83" fill="#fdecda" stroke="#f6cfa2" stroke-width="0.35"/><circle cx="121.2" cy="81.8" r="2.14" fill="#fdecda" stroke="#f6cfa2" stroke-width="0.35"/><circle cx="85.5" cy="70.6" r="2.33" fill="#fdecda" stroke="#f6cfa2" stroke-width="0.35"/><circle cx="95.3" cy="81.3" r="2.23" fill="#fdecda" stroke="#f6cfa2" stroke-width="0.35"/><circle cx="131.9" cy="44.8" r="2.09" fill="#fdecda" stroke="#f6cfa2" stroke-width="0.35"/><circle cx="123.7" cy="72.1" r="2.48" fill="#fdecda" stroke="#f6cfa2" stroke-width="0.35"/><circle cx="142.3" cy="75.4" r="1.81" fill="#fdecda" stroke="#f6cfa2" stroke-width="0.35"/><circle cx="110.7" cy="72.0" r="2.42" fill="#fdecda" stroke="#f6cfa2" stroke-width="0.35"/><circle cx="100.7" cy="33.8" r="2.26" fill="#fdecda" stroke="#f6cfa2" stroke-width="0.35"/><circle cx="92.7" cy="62.5" r="1.98" fill="#fdecda" stroke="#f6cfa2" stroke-width="0.35"/><circle cx="138.0" cy="31.9" r="2.25" fill="#fdecda" stroke="#f6cfa2" stroke-width="0.35"/><circle cx="138.0" cy="70.5" r="1.92" fill="#fdecda" stroke="#f6cfa2" stroke-width="0.35"/><circle cx="116.1" cy="82.0" r="2.31" fill="#fdecda" stroke="#f6cfa2" stroke-width="0.35"/><circle cx="139.8" cy="81.4" r="2.11" fill="#fdecda" stroke="#f6cfa2" stroke-width="0.35"/><circle cx="88.2" cy="73.5" r="2.18" fill="#fdecda" stroke="#f6cfa2" stroke-width="0.35"/><circle cx="134.0" cy="58.0" r="2.38" fill="#fdecda" stroke="#f6cfa2" stroke-width="0.35"/><circle cx="89.5" cy="77.6" r="2.49" fill="#fdecda" stroke="#f6cfa2" stroke-width="0.35"/><circle cx="133.5" cy="78.8" r="2.34" fill="#fdecda" stroke="#f6cfa2" stroke-width="0.35"/><circle cx="91.3" cy="50.8" r="2.02" fill="#fdecda" stroke="#f6cfa2" stroke-width="0.35"/><circle cx="99.3" cy="66.8" r="2.09" fill="#fdecda" stroke="#f6cfa2" stroke-width="0.35"/><circle cx="123.5" cy="86.1" r="2.59" fill="#fdecda" stroke="#f6cfa2" stroke-width="0.35"/><circle cx="80.3" cy="68.4" r="2.26" fill="#fdecda" stroke="#f6cfa2" stroke-width="0.35"/><circle cx="108.5" cy="76.3" r="2.50" fill="#fdecda" stroke="#f6cfa2" stroke-width="0.35"/><circle cx="96.2" cy="70.1" r="1.93" fill="#fdecda" stroke="#f6cfa2" stroke-width="0.35"/><circle cx="109.1" cy="52.3" r="2.46" fill="#fdecda" stroke="#f6cfa2" stroke-width="0.35"/><circle cx="140.1" cy="84.8" r="2.22" fill="#fdecda" stroke="#f6cfa2" stroke-width="0.35"/><circle cx="126.9" cy="71.0" r="2.23" fill="#fdecda" stroke="#f6cfa2" stroke-width="0.35"/><circle cx="89.0" cy="47.0" r="2.57" fill="#fdecda" stroke="#f6cfa2" stroke-width="0.35"/><circle cx="119.3" cy="37.3" r="2.08" fill="#fdecda" stroke="#f6cfa2" stroke-width="0.35"/><circle cx="88.8" cy="37.9" r="2.10" fill="#fdecda" stroke="#f6cfa2" stroke-width="0.35"/><circle cx="99.3" cy="31.2" r="2.20" fill="#fdecda" stroke="#f6cfa2" stroke-width="0.35"/><circle cx="141.3" cy="59.1" r="2.12" fill="#fdecda" stroke="#f6cfa2" stroke-width="0.35"/><circle cx="105.2" cy="46.8" r="2.06" fill="#fdecda" stroke="#f6cfa2" stroke-width="0.35"/><circle cx="92.8" cy="57.0" r="2.53" fill="#fdecda" stroke="#f6cfa2" stroke-width="0.35"/><circle cx="104.1" cy="85.4" r="2.20" fill="#fdecda" stroke="#f6cfa2" stroke-width="0.35"/><circle cx="122.0" cy="60.4" r="2.11" fill="#fce4e0" stroke="#f4c8bc" stroke-width="0.35"/><circle cx="138.4" cy="67.2" r="1.95" fill="#fdecda" stroke="#f6cfa2" stroke-width="0.35"/><circle cx="100.2" cy="54.8" r="2.25" fill="#fdecda" stroke="#f6cfa2" stroke-width="0.35"/><circle cx="104.9" cy="46.7" r="2.04" fill="#fdecda" stroke="#f6cfa2" stroke-width="0.35"/><circle cx="145.6" cy="76.6" r="2.49" fill="#fdecda" stroke="#f6cfa2" stroke-width="0.35"/><circle cx="139.1" cy="38.9" r="2.23" fill="#fdecda" stroke="#f6cfa2" stroke-width="0.35"/><circle cx="127.8" cy="60.7" r="2.22" fill="#fce4e0" stroke="#f4c8bc" stroke-width="0.35"/><circle cx="121.8" cy="69.9" r="1.94" fill="#fce4e0" stroke="#f4c8bc" stroke-width="0.35"/><circle cx="83.6" cy="47.2" r="1.83" fill="#fdecda" stroke="#f6cfa2" stroke-width="0.35"/><circle cx="100.4" cy="32.4" r="1.88" fill="#fdecda" stroke="#f6cfa2" stroke-width="0.35"/><circle cx="123.3" cy="42.3" r="2.37" fill="#fdecda" stroke="#f6cfa2" stroke-width="0.35"/><circle cx="107.7" cy="82.7" r="2.25" fill="#fdecda" stroke="#f6cfa2" stroke-width="0.35"/><circle cx="137.5" cy="56.8" r="2.13" fill="#fdecda" stroke="#f6cfa2" stroke-width="0.35"/><circle cx="141.3" cy="73.2" r="2.14" fill="#fdecda" stroke="#f6cfa2" stroke-width="0.35"/><circle cx="137.5" cy="75.9" r="2.32" fill="#fdecda" stroke="#f6cfa2" stroke-width="0.35"/><circle cx="81.8" cy="86.0" r="1.89" fill="#fdecda" stroke="#f6cfa2" stroke-width="0.35"/><circle cx="81.1" cy="51.4" r="1.96" fill="#fdecda" stroke="#f6cfa2" stroke-width="0.35"/><circle cx="95.9" cy="60.6" r="2.20" fill="#fdecda" stroke="#f6cfa2" stroke-width="0.35"/><circle cx="124.9" cy="84.5" r="2.36" fill="#fdecda" stroke="#f6cfa2" stroke-width="0.35"/><circle cx="137.2" cy="57.1" r="1.92" fill="#fdecda" stroke="#f6cfa2" stroke-width="0.35"/><circle cx="126.9" cy="92.7" r="1.94" fill="#fdecda" stroke="#f6cfa2" stroke-width="0.35"/><circle cx="120.5" cy="54.4" r="2.59" fill="#fce4e0" stroke="#f4c8bc" stroke-width="0.35"/><circle cx="82.2" cy="60.1" r="2.09" fill="#fdecda" stroke="#f6cfa2" stroke-width="0.35"/><circle cx="104.4" cy="76.8" r="1.80" fill="#fdecda" stroke="#f6cfa2" stroke-width="0.35"/><circle cx="98.2" cy="90.9" r="2.17" fill="#fdecda" stroke="#f6cfa2" stroke-width="0.35"/><circle cx="80.9" cy="69.0" r="2.33" fill="#fdecda" stroke="#f6cfa2" stroke-width="0.35"/><circle cx="141.3" cy="85.7" r="2.56" fill="#fdecda" stroke="#f6cfa2" stroke-width="0.35"/><circle cx="97.5" cy="50.0" r="2.36" fill="#fdecda" stroke="#f6cfa2" stroke-width="0.35"/><circle cx="102.8" cy="53.7" r="1.83" fill="#fdecda" stroke="#f6cfa2" stroke-width="0.35"/><circle cx="93.1" cy="38.4" r="2.10" fill="#fdecda" stroke="#f6cfa2" stroke-width="0.35"/><circle cx="126.3" cy="42.2" r="2.03" fill="#fdecda" stroke="#f6cfa2" stroke-width="0.35"/><circle cx="85.4" cy="55.6" r="2.27" fill="#fdecda" stroke="#f6cfa2" stroke-width="0.35"/><circle cx="119.7" cy="70.7" r="2.23" fill="#fce4e0" stroke="#f4c8bc" stroke-width="0.35"/><circle cx="125.9" cy="80.4" r="2.47" fill="#fdecda" stroke="#f6cfa2" stroke-width="0.35"/><circle cx="80.0" cy="88.6" r="2.18" fill="#fdecda" stroke="#f6cfa2" stroke-width="0.35"/><circle cx="145.5" cy="78.0" r="2.17" fill="#fdecda" stroke="#f6cfa2" stroke-width="0.35"/><circle cx="83.0" cy="36.1" r="2.42" fill="#fdecda" stroke="#f6cfa2" stroke-width="0.35"/><circle cx="80.4" cy="33.2" r="2.36" fill="#fdecda" stroke="#f6cfa2" stroke-width="0.35"/><circle cx="120.1" cy="72.6" r="1.85" fill="#fce4e0" stroke="#f4c8bc" stroke-width="0.35"/><circle cx="143.3" cy="77.2" r="1.81" fill="#fdecda" stroke="#f6cfa2" stroke-width="0.35"/><circle cx="117.6" cy="50.6" r="1.99" fill="#fce4e0" stroke="#f4c8bc" stroke-width="0.35"/><circle cx="120.5" cy="91.9" r="1.83" fill="#fdecda" stroke="#f6cfa2" stroke-width="0.35"/><circle cx="133.1" cy="88.7" r="1.87" fill="#fdecda" stroke="#f6cfa2" stroke-width="0.35"/><circle cx="139.2" cy="30.9" r="2.06" fill="#fdecda" stroke="#f6cfa2" stroke-width="0.35"/><circle cx="81.5" cy="41.2" r="1.94" fill="#fdecda" stroke="#f6cfa2" stroke-width="0.35"/><circle cx="117.1" cy="57.4" r="2.57" fill="#fce4e0" stroke="#f4c8bc" stroke-width="0.35"/><circle cx="129.8" cy="34.7" r="1.86" fill="#fdecda" stroke="#f6cfa2" stroke-width="0.35"/><circle cx="98.4" cy="81.3" r="2.44" fill="#fdecda" stroke="#f6cfa2" stroke-width="0.35"/><circle cx="135.3" cy="84.6" r="2.38" fill="#fdecda" stroke="#f6cfa2" stroke-width="0.35"/><circle cx="116.9" cy="83.0" r="2.46" fill="#fdecda" stroke="#f6cfa2" stroke-width="0.35"/><circle cx="134.0" cy="85.4" r="2.23" fill="#fdecda" stroke="#f6cfa2" stroke-width="0.35"/><circle cx="85.7" cy="69.3" r="2.36" fill="#fdecda" stroke="#f6cfa2" stroke-width="0.35"/><circle cx="142.6" cy="77.1" r="2.52" fill="#fdecda" stroke="#f6cfa2" stroke-width="0.35"/><circle cx="140.2" cy="50.6" r="2.54" fill="#fdecda" stroke="#f6cfa2" stroke-width="0.35"/><circle cx="117.6" cy="57.3" r="2.16" fill="#fce4e0" stroke="#f4c8bc" stroke-width="0.35"/><circle cx="112.8" cy="56.1" r="2.38" fill="#fce4e0" stroke="#f4c8bc" stroke-width="0.35"/><circle cx="96.9" cy="57.5" r="2.32" fill="#fdecda" stroke="#f6cfa2" stroke-width="0.35"/><circle cx="144.0" cy="76.0" r="2.24" fill="#fdecda" stroke="#f6cfa2" stroke-width="0.35"/><circle cx="104.7" cy="71.6" r="2.54" fill="#fdecda" stroke="#f6cfa2" stroke-width="0.35"/><circle cx="81.2" cy="54.4" r="2.03" fill="#fdecda" stroke="#f6cfa2" stroke-width="0.35"/><circle cx="131.2" cy="72.0" r="1.80" fill="#fdecda" stroke="#f6cfa2" stroke-width="0.35"/><circle cx="139.2" cy="55.7" r="1.91" fill="#fdecda" stroke="#f6cfa2" stroke-width="0.35"/><circle cx="86.5" cy="34.5" r="2.00" fill="#fdecda" stroke="#f6cfa2" stroke-width="0.35"/><circle cx="85.4" cy="74.4" r="1.91" fill="#fdecda" stroke="#f6cfa2" stroke-width="0.35"/><circle cx="108.5" cy="71.4" r="2.15" fill="#fdecda" stroke="#f6cfa2" stroke-width="0.35"/><circle cx="99.2" cy="58.6" r="2.17" fill="#fdecda" stroke="#f6cfa2" stroke-width="0.35"/><circle cx="118.2" cy="67.2" r="2.05" fill="#fce4e0" stroke="#f4c8bc" stroke-width="0.35"/><circle cx="124.9" cy="83.8" r="2.57" fill="#fdecda" stroke="#f6cfa2" stroke-width="0.35"/><circle cx="120.9" cy="48.5" r="1.80" fill="#fce4e0" stroke="#f4c8bc" stroke-width="0.35"/><circle cx="108.4" cy="92.4" r="2.59" fill="#fdecda" stroke="#f6cfa2" stroke-width="0.35"/><circle cx="126.8" cy="42.2" r="1.96" fill="#fdecda" stroke="#f6cfa2" stroke-width="0.35"/><circle cx="90.2" cy="57.3" r="2.56" fill="#fdecda" stroke="#f6cfa2" stroke-width="0.35"/><circle cx="93.8" cy="81.4" r="2.24" fill="#fdecda" stroke="#f6cfa2" stroke-width="0.35"/><circle cx="97.6" cy="58.6" r="1.84" fill="#fdecda" stroke="#f6cfa2" stroke-width="0.35"/><circle cx="121.9" cy="87.0" r="2.06" fill="#fdecda" stroke="#f6cfa2" stroke-width="0.35"/><circle cx="144.0" cy="48.2" r="2.08" fill="#fdecda" stroke="#f6cfa2" stroke-width="0.35"/><circle cx="125.9" cy="43.5" r="1.83" fill="#fdecda" stroke="#f6cfa2" stroke-width="0.35"/><circle cx="113.0" cy="60.9" r="1.93" fill="#fce4e0" stroke="#f4c8bc" stroke-width="0.35"/><circle cx="91.5" cy="37.1" r="1.95" fill="#fdecda" stroke="#f6cfa2" stroke-width="0.35"/><circle cx="89.9" cy="71.0" r="2.51" fill="#fdecda" stroke="#f6cfa2" stroke-width="0.35"/><circle cx="119.5" cy="44.4" r="2.24" fill="#fdecda" stroke="#f6cfa2" stroke-width="0.35"/><circle cx="143.0" cy="52.6" r="2.38" fill="#fdecda" stroke="#f6cfa2" stroke-width="0.35"/><circle cx="80.4" cy="78.2" r="2.49" fill="#fdecda" stroke="#f6cfa2" stroke-width="0.35"/><circle cx="115.9" cy="86.4" r="2.28" fill="#fdecda" stroke="#f6cfa2" stroke-width="0.35"/><circle cx="131.6" cy="60.9" r="2.11" fill="#fdecda" stroke="#f6cfa2" stroke-width="0.35"/><circle cx="97.9" cy="65.3" r="2.42" fill="#fdecda" stroke="#f6cfa2" stroke-width="0.35"/><circle cx="82.3" cy="72.3" r="1.83" fill="#fdecda" stroke="#f6cfa2" stroke-width="0.35"/><circle cx="122.5" cy="75.1" r="2.53" fill="#fdecda" stroke="#f6cfa2" stroke-width="0.35"/><circle cx="123.1" cy="71.0" r="2.35" fill="#fce4e0" stroke="#f4c8bc" stroke-width="0.35"/><circle cx="124.5" cy="73.7" r="2.34" fill="#fdecda" stroke="#f6cfa2" stroke-width="0.35"/><circle cx="135.9" cy="52.5" r="2.56" fill="#fdecda" stroke="#f6cfa2" stroke-width="0.35"/><circle cx="92.7" cy="32.8" r="1.84" fill="#fdecda" stroke="#f6cfa2" stroke-width="0.35"/><circle cx="116.2" cy="84.0" r="1.90" fill="#fdecda" stroke="#f6cfa2" stroke-width="0.35"/><circle cx="138.4" cy="61.5" r="2.33" fill="#fdecda" stroke="#f6cfa2" stroke-width="0.35"/><circle cx="90.9" cy="92.5" r="2.17" fill="#fdecda" stroke="#f6cfa2" stroke-width="0.35"/><circle cx="95.8" cy="69.2" r="1.84" fill="#fdecda" stroke="#f6cfa2" stroke-width="0.35"/><circle cx="122.9" cy="82.9" r="1.90" fill="#fdecda" stroke="#f6cfa2" stroke-width="0.35"/><circle cx="96.7" cy="47.3" r="1.96" fill="#fdecda" stroke="#f6cfa2" stroke-width="0.35"/><circle cx="120.9" cy="81.3" r="2.17" fill="#fdecda" stroke="#f6cfa2" stroke-width="0.35"/><circle cx="125.9" cy="87.2" r="2.45" fill="#fdecda" stroke="#f6cfa2" stroke-width="0.35"/><circle cx="105.1" cy="86.4" r="1.95" fill="#fdecda" stroke="#f6cfa2" stroke-width="0.35"/><circle cx="134.3" cy="35.4" r="2.06" fill="#fdecda" stroke="#f6cfa2" stroke-width="0.35"/><circle cx="86.8" cy="65.5" r="1.89" fill="#fdecda" stroke="#f6cfa2" stroke-width="0.35"/><circle cx="120.1" cy="40.5" r="2.34" fill="#fdecda" stroke="#f6cfa2" stroke-width="0.35"/><circle cx="112.7" cy="49.6" r="1.91" fill="#fce4e0" stroke="#f4c8bc" stroke-width="0.35"/><circle cx="130.0" cy="42.2" r="2.07" fill="#fdecda" stroke="#f6cfa2" stroke-width="0.35"/><circle cx="140.6" cy="85.5" r="2.38" fill="#fdecda" stroke="#f6cfa2" stroke-width="0.35"/><circle cx="122.1" cy="83.1" r="2.47" fill="#fdecda" stroke="#f6cfa2" stroke-width="0.35"/><circle cx="134.9" cy="77.4" r="2.13" fill="#fdecda" stroke="#f6cfa2" stroke-width="0.35"/><circle cx="130.0" cy="54.8" r="2.25" fill="#fdecda" stroke="#f6cfa2" stroke-width="0.35"/><circle cx="81.7" cy="39.9" r="2.34" fill="#fdecda" stroke="#f6cfa2" stroke-width="0.35"/><circle cx="85.6" cy="36.2" r="2.50" fill="#fdecda" stroke="#f6cfa2" stroke-width="0.35"/><circle cx="139.2" cy="91.3" r="2.43" fill="#fdecda" stroke="#f6cfa2" stroke-width="0.35"/><circle cx="99.8" cy="68.2" r="2.21" fill="#fdecda" stroke="#f6cfa2" stroke-width="0.35"/><circle cx="85.5" cy="40.0" r="2.29" fill="#fdecda" stroke="#f6cfa2" stroke-width="0.35"/><circle cx="108.0" cy="66.2" r="2.54" fill="#fdecda" stroke="#f6cfa2" stroke-width="0.35"/><circle cx="84.8" cy="40.0" r="2.58" fill="#fdecda" stroke="#f6cfa2" stroke-width="0.35"/><circle cx="87.7" cy="53.2" r="2.24" fill="#fdecda" stroke="#f6cfa2" stroke-width="0.35"/><circle cx="97.5" cy="54.2" r="1.93" fill="#fdecda" stroke="#f6cfa2" stroke-width="0.35"/><circle cx="133.4" cy="44.2" r="2.38" fill="#fdecda" stroke="#f6cfa2" stroke-width="0.35"/><circle cx="110.3" cy="61.8" r="1.86" fill="#fce4e0" stroke="#f4c8bc" stroke-width="0.35"/><circle cx="138.5" cy="30.9" r="2.49" fill="#fdecda" stroke="#f6cfa2" stroke-width="0.35"/><circle cx="81.2" cy="54.1" r="2.16" fill="#fdecda" stroke="#f6cfa2" stroke-width="0.35"/><circle cx="120.3" cy="46.7" r="2.60" fill="#fce4e0" stroke="#f4c8bc" stroke-width="0.35"/><circle cx="102.7" cy="43.8" r="2.39" fill="#fdecda" stroke="#f6cfa2" stroke-width="0.35"/><circle cx="123.4" cy="68.3" r="2.56" fill="#fce4e0" stroke="#f4c8bc" stroke-width="0.35"/><circle cx="138.3" cy="49.2" r="2.52" fill="#fdecda" stroke="#f6cfa2" stroke-width="0.35"/><circle cx="138.9" cy="33.5" r="2.21" fill="#fdecda" stroke="#f6cfa2" stroke-width="0.35"/><circle cx="137.3" cy="55.3" r="2.07" fill="#fdecda" stroke="#f6cfa2" stroke-width="0.35"/><circle cx="112.1" cy="83.2" r="1.81" fill="#fdecda" stroke="#f6cfa2" stroke-width="0.35"/><circle cx="123.4" cy="74.6" r="2.56" fill="#fdecda" stroke="#f6cfa2" stroke-width="0.35"/><circle cx="122.7" cy="46.8" r="2.32" fill="#fce4e0" stroke="#f4c8bc" stroke-width="0.35"/><circle cx="128.2" cy="38.1" r="2.42" fill="#fdecda" stroke="#f6cfa2" stroke-width="0.35"/><circle cx="119.6" cy="67.2" r="2.32" fill="#fce4e0" stroke="#f4c8bc" stroke-width="0.35"/><circle cx="120.8" cy="39.4" r="1.92" fill="#fdecda" stroke="#f6cfa2" stroke-width="0.35"/><circle cx="80.2" cy="50.0" r="1.97" fill="#fdecda" stroke="#f6cfa2" stroke-width="0.35"/><circle cx="119.3" cy="36.1" r="1.90" fill="#fdecda" stroke="#f6cfa2" stroke-width="0.35"/><circle cx="114.2" cy="79.6" r="2.19" fill="#fdecda" stroke="#f6cfa2" stroke-width="0.35"/><circle cx="83.8" cy="88.5" r="2.25" fill="#fdecda" stroke="#f6cfa2" stroke-width="0.35"/><circle cx="140.4" cy="77.3" r="2.52" fill="#fdecda" stroke="#f6cfa2" stroke-width="0.35"/><circle cx="134.1" cy="77.1" r="2.49" fill="#fdecda" stroke="#f6cfa2" stroke-width="0.35"/><circle cx="124.4" cy="91.3" r="2.53" fill="#fdecda" stroke="#f6cfa2" stroke-width="0.35"/><circle cx="91.0" cy="60.2" r="2.56" fill="#fdecda" stroke="#f6cfa2" stroke-width="0.35"/><circle cx="124.7" cy="69.0" r="2.13" fill="#fce4e0" stroke="#f4c8bc" stroke-width="0.35"/><circle cx="85.5" cy="56.8" r="1.81" fill="#fdecda" stroke="#f6cfa2" stroke-width="0.35"/><circle cx="91.0" cy="58.9" r="2.16" fill="#fdecda" stroke="#f6cfa2" stroke-width="0.35"/><circle cx="121.8" cy="67.3" r="2.41" fill="#fce4e0" stroke="#f4c8bc" stroke-width="0.35"/><circle cx="117.5" cy="80.0" r="1.83" fill="#fdecda" stroke="#f6cfa2" stroke-width="0.35"/><circle cx="110.6" cy="89.2" r="2.40" fill="#fdecda" stroke="#f6cfa2" stroke-width="0.35"/><circle cx="134.9" cy="91.1" r="1.93" fill="#fdecda" stroke="#f6cfa2" stroke-width="0.35"/><circle cx="112.4" cy="85.8" r="2.06" fill="#fdecda" stroke="#f6cfa2" stroke-width="0.35"/><circle cx="114.1" cy="41.8" r="1.86" fill="#fdecda" stroke="#f6cfa2" stroke-width="0.35"/><circle cx="140.0" cy="76.4" r="2.42" fill="#fdecda" stroke="#f6cfa2" stroke-width="0.35"/><circle cx="139.1" cy="65.1" r="2.47" fill="#fdecda" stroke="#f6cfa2" stroke-width="0.35"/><circle cx="131.4" cy="58.8" r="2.17" fill="#fdecda" stroke="#f6cfa2" stroke-width="0.35"/><circle cx="93.5" cy="57.7" r="2.47" fill="#fdecda" stroke="#f6cfa2" stroke-width="0.35"/><circle cx="82.2" cy="89.7" r="1.96" fill="#fdecda" stroke="#f6cfa2" stroke-width="0.35"/><circle cx="113.3" cy="48.7" r="1.83" fill="#fce4e0" stroke="#f4c8bc" stroke-width="0.35"/><circle cx="120.9" cy="41.4" r="2.13" fill="#fdecda" stroke="#f6cfa2" stroke-width="0.35"/><circle cx="135.0" cy="58.4" r="2.08" fill="#fdecda" stroke="#f6cfa2" stroke-width="0.35"/><circle cx="89.0" cy="31.1" r="2.45" fill="#fdecda" stroke="#f6cfa2" stroke-width="0.35"/><circle cx="112.0" cy="49.2" r="2.41" fill="#fdecda" stroke="#f6cfa2" stroke-width="0.35"/><circle cx="114.8" cy="44.4" r="2.57" fill="#fdecda" stroke="#f6cfa2" stroke-width="0.35"/><circle cx="107.1" cy="50.9" r="2.58" fill="#fdecda" stroke="#f6cfa2" stroke-width="0.35"/><circle cx="107.6" cy="59.4" r="2.47" fill="#fdecda" stroke="#f6cfa2" stroke-width="0.35"/><circle cx="122.8" cy="45.8" r="1.84" fill="#fdecda" stroke="#f6cfa2" stroke-width="0.35"/><circle cx="84.3" cy="39.1" r="2.39" fill="#fdecda" stroke="#f6cfa2" stroke-width="0.35"/></g>
<ellipse cx="92.3" cy="64.2" rx="5" ry="9.3" fill="#ffffff" stroke="#f6cf9f" stroke-width="0.5"/>
<path d="M83.5,47.5 C89,44 94,41 98,38" fill="none" stroke="#6b7078" stroke-width="0.9" stroke-linecap="round"/>
<path d="M99,37 C102,34 106,31 109.5,30" fill="none" stroke="#6b7078" stroke-width="0.9" stroke-linecap="round"/>
<path d="M101,43 C104,39 107,36 110,33" fill="none" stroke="#6b7078" stroke-width="0.9" stroke-linecap="round"/>
<path d="M144,48.8 C146,47 148,46 150,45.5" fill="none" stroke="#6b7078" stroke-width="0.9" stroke-linecap="round"/>
<path d="M86.5,87.7 C93,86 100,86 105,85" fill="none" stroke="#6b7078" stroke-width="0.9" stroke-linecap="round"/>
<path d="M92,90 C98,89.5 104,89 110,86" fill="none" stroke="#6b7078" stroke-width="0.9" stroke-linecap="round"/>
<polygon points="98.17,45.41 96.25,45.84 97.31,48.01 95.12,47.01 94.79,49.18 93.54,47.38 92.17,48.79 92.01,46.83 89.71,47.58 91.02,45.54 88.92,44.91 90.88,43.93 89.67,42.37 91.63,42.49 91.22,40.11 93.05,41.69 93.97,39.71 94.67,41.79 96.38,40.81 95.98,42.74 98.40,42.67 96.57,44.25" fill="#d3e3f4" stroke="#a7c2e3" stroke-width="0.5" stroke-linejoin="round"/>
<circle cx="93.70" cy="44.50" r="1.82" fill="#f2f7fd"/>
<circle cx="94.90" cy="43.54" r="0.72" fill="#b9cfea"/>
<polygon points="111.07,36.81 109.15,37.24 110.21,39.41 108.02,38.41 107.69,40.58 106.44,38.78 105.07,40.19 104.91,38.23 102.61,38.98 103.92,36.94 101.82,36.31 103.78,35.33 102.57,33.77 104.53,33.89 104.12,31.51 105.95,33.09 106.87,31.11 107.57,33.19 109.28,32.21 108.88,34.14 111.30,34.07 109.47,35.65" fill="#d3e3f4" stroke="#a7c2e3" stroke-width="0.5" stroke-linejoin="round"/>
<circle cx="106.60" cy="35.90" r="1.82" fill="#f2f7fd"/>
<circle cx="107.80" cy="34.94" r="0.72" fill="#b9cfea"/>
<polygon points="131.27,33.91 129.35,34.34 130.41,36.51 128.22,35.51 127.89,37.68 126.64,35.88 125.27,37.29 125.11,35.33 122.81,36.08 124.12,34.04 122.02,33.41 123.98,32.43 122.77,30.87 124.73,30.99 124.32,28.61 126.15,30.19 127.07,28.21 127.77,30.29 129.48,29.31 129.08,31.24 131.50,31.17 129.67,32.75" fill="#d3e3f4" stroke="#a7c2e3" stroke-width="0.5" stroke-linejoin="round"/>
<circle cx="126.80" cy="33.00" r="1.82" fill="#f2f7fd"/>
<circle cx="128.00" cy="32.04" r="0.72" fill="#b9cfea"/>
<polygon points="145.67,56.91 143.75,57.34 144.81,59.51 142.62,58.51 142.29,60.68 141.04,58.88 139.67,60.29 139.51,58.33 137.21,59.08 138.52,57.04 136.42,56.41 138.38,55.43 137.17,53.87 139.13,53.99 138.72,51.61 140.55,53.19 141.47,51.21 142.17,53.29 143.88,52.31 143.48,54.24 145.90,54.17 144.07,55.75" fill="#d3e3f4" stroke="#a7c2e3" stroke-width="0.5" stroke-linejoin="round"/>
<circle cx="141.20" cy="56.00" r="1.82" fill="#f2f7fd"/>
<circle cx="142.40" cy="55.04" r="0.72" fill="#b9cfea"/>
<polygon points="112.47,78.51 110.55,78.94 111.61,81.11 109.42,80.11 109.09,82.28 107.84,80.48 106.47,81.89 106.31,79.93 104.01,80.68 105.32,78.64 103.22,78.01 105.18,77.03 103.97,75.47 105.93,75.59 105.52,73.21 107.35,74.79 108.27,72.81 108.97,74.89 110.68,73.91 110.28,75.84 112.70,75.77 110.87,77.35" fill="#d3e3f4" stroke="#a7c2e3" stroke-width="0.5" stroke-linejoin="round"/>
<circle cx="108.00" cy="77.60" r="1.82" fill="#f2f7fd"/>
<circle cx="109.20" cy="76.64" r="0.72" fill="#b9cfea"/>
<polygon points="124.07,89.51 122.15,89.94 123.21,92.11 121.02,91.11 120.69,93.28 119.44,91.48 118.07,92.89 117.91,90.93 115.61,91.68 116.92,89.64 114.82,89.01 116.78,88.03 115.57,86.47 117.53,86.59 117.12,84.21 118.95,85.79 119.87,83.81 120.57,85.89 122.28,84.91 121.88,86.84 124.30,86.77 122.47,88.35" fill="#d3e3f4" stroke="#a7c2e3" stroke-width="0.5" stroke-linejoin="round"/>
<circle cx="119.60" cy="88.60" r="1.82" fill="#f2f7fd"/>
<circle cx="120.80" cy="87.64" r="0.72" fill="#b9cfea"/>
<polygon points="147.17,81.41 145.25,81.84 146.31,84.01 144.12,83.01 143.79,85.18 142.54,83.38 141.17,84.79 141.01,82.83 138.71,83.58 140.02,81.54 137.92,80.91 139.88,79.93 138.67,78.37 140.63,78.49 140.22,76.11 142.05,77.69 142.97,75.71 143.67,77.79 145.38,76.81 144.98,78.74 147.40,78.67 145.57,80.25" fill="#d3e3f4" stroke="#a7c2e3" stroke-width="0.5" stroke-linejoin="round"/>
<circle cx="142.70" cy="80.50" r="1.82" fill="#f2f7fd"/>
<circle cx="143.90" cy="79.54" r="0.72" fill="#b9cfea"/>
<line x1="76.20" y1="93.40" x2="76.20" y2="121.00" stroke="#555" stroke-width="0.9" />
<polygon points="74,120.5 78.4,120.5 76.2,125.7" fill="#111"/>
<text x="99.50" y="104.80" font-size="8.5" fill="#2a2a2a" text-anchor="middle" dominant-baseline="central" stroke="#2a2a2a" stroke-width="0.22" >Lipid</text>
<text x="82.20" y="114.00" font-size="8.5" fill="#2a2a2a" text-anchor="start" dominant-baseline="central" stroke="#2a2a2a" stroke-width="0.22" >extraction</text>
<line x1="54.20" y1="122.00" x2="54.20" y2="171.50" stroke="#333" stroke-width="0.9" />
<line x1="54.20" y1="171.50" x2="106.00" y2="171.50" stroke="#333" stroke-width="0.9" />
<line x1="52.80" y1="163.35" x2="54.20" y2="163.35" stroke="#444" stroke-width="0.7" />
<text x="52.10" y="162.85" font-size="5.7" fill="#4a4a4a" text-anchor="end" dominant-baseline="central" stroke="#4a4a4a" stroke-width="0.15" >1.0e+5</text>
<line x1="52.80" y1="155.20" x2="54.20" y2="155.20" stroke="#444" stroke-width="0.7" />
<text x="52.10" y="154.70" font-size="5.7" fill="#4a4a4a" text-anchor="end" dominant-baseline="central" stroke="#4a4a4a" stroke-width="0.15" >2.0e+5</text>
<line x1="52.80" y1="147.05" x2="54.20" y2="147.05" stroke="#444" stroke-width="0.7" />
<text x="52.10" y="146.55" font-size="5.7" fill="#4a4a4a" text-anchor="end" dominant-baseline="central" stroke="#4a4a4a" stroke-width="0.15" >3.0e+5</text>
<line x1="52.80" y1="138.90" x2="54.20" y2="138.90" stroke="#444" stroke-width="0.7" />
<text x="52.10" y="138.40" font-size="5.7" fill="#4a4a4a" text-anchor="end" dominant-baseline="central" stroke="#4a4a4a" stroke-width="0.15" >4.0e+5</text>
<line x1="52.80" y1="130.75" x2="54.20" y2="130.75" stroke="#444" stroke-width="0.7" />
<text x="52.10" y="130.25" font-size="5.7" fill="#4a4a4a" text-anchor="end" dominant-baseline="central" stroke="#4a4a4a" stroke-width="0.15" >5.0e+5</text>
<line x1="52.80" y1="122.60" x2="54.20" y2="122.60" stroke="#444" stroke-width="0.7" />
<text x="52.10" y="122.10" font-size="5.7" fill="#4a4a4a" text-anchor="end" dominant-baseline="central" stroke="#4a4a4a" stroke-width="0.15" >6.0e+5</text>
<text transform="translate(27.50,144.00) rotate(-90)" font-size="5.4" fill="#555" text-anchor="middle" dominant-baseline="central" stroke="#555" stroke-width="0.1" >Intensity [cps]</text>
<text x="53.80" y="176.60" font-size="5.8" fill="#444" text-anchor="middle" dominant-baseline="central" stroke="#444" stroke-width="0.12" >50</text>
<text x="70.80" y="176.60" font-size="5.8" fill="#444" text-anchor="middle" dominant-baseline="central" stroke="#444" stroke-width="0.12" >150</text>
<text x="88.40" y="176.60" font-size="5.8" fill="#444" text-anchor="middle" dominant-baseline="central" stroke="#444" stroke-width="0.12" >250</text>
<text x="105.50" y="176.60" font-size="5.8" fill="#444" text-anchor="middle" dominant-baseline="central" stroke="#444" stroke-width="0.12" >350</text>
<text x="82" y="183.1" font-size="5.5" fill="#555" text-anchor="middle" dominant-baseline="central"><tspan font-style="italic">m/z</tspan> [amu]</text>
<line x1="55.00" y1="166.50" x2="55.00" y2="171.50" stroke="#111" stroke-width="0.8" />
<line x1="56.40" y1="148.30" x2="56.40" y2="171.50" stroke="#000" stroke-width="0.8" />
<line x1="59.00" y1="132.50" x2="59.00" y2="171.50" stroke="#a8a8a8" stroke-width="1.1" />
<line x1="59.40" y1="155.20" x2="59.40" y2="171.50" stroke="#000" stroke-width="0.8" />
<line x1="61.00" y1="162.70" x2="61.00" y2="171.50" stroke="#111" stroke-width="0.8" />
<line x1="62.30" y1="167.50" x2="62.30" y2="171.50" stroke="#333" stroke-width="0.8" />
<line x1="86.50" y1="137.00" x2="86.50" y2="171.50" stroke="#222" stroke-width="0.8" />
<line x1="101.60" y1="170.00" x2="101.60" y2="171.50" stroke="#555" stroke-width="0.8" />
<line x1="104.30" y1="160.60" x2="104.30" y2="171.50" stroke="#222" stroke-width="0.8" />
<path d="M54.5,170.5 L105,170.7" stroke="#444" stroke-width="0.8"/>
<text x="59.40" y="133.80" font-size="5.9" fill="#444" text-anchor="start" dominant-baseline="central" stroke="#444" stroke-width="0.1" >82.2</text>
<text x="87.70" y="139.80" font-size="5.6" fill="#444" text-anchor="start" dominant-baseline="central" stroke="#444" stroke-width="0.1" >264.2</text>
<text x="91.50" y="157.00" font-size="5.6" fill="#444" text-anchor="start" dominant-baseline="central" stroke="#444" stroke-width="0.1" >380.2</text>
<text x="88.40" y="167.10" font-size="5.6" fill="#444" text-anchor="start" dominant-baseline="central" stroke="#444" stroke-width="0.1" >362.0</text>
<text x="167.50" y="10.30" font-size="12.3" fill="#000" text-anchor="start" dominant-baseline="alphabetic" font-weight="bold" >B</text>
<circle cx="209.70" cy="46.20" r="1.00" fill="#d42030"/>
<text x="213.60" y="46.30" font-size="8.4" fill="#2c3338" text-anchor="start" dominant-baseline="central" stroke="#2c3338" stroke-width="0.22" >PS species</text>
<line x1="208.40" y1="57.50" x2="208.40" y2="132.50" stroke="#222" stroke-width="1.3" />
<line x1="208.40" y1="132.30" x2="320.00" y2="132.30" stroke="#222" stroke-width="1.3" />
<line x1="205.90" y1="58.25" x2="208.40" y2="58.25" stroke="#111" stroke-width="1" />
<text x="205.20" y="58.25" font-size="8" fill="#222" text-anchor="end" dominant-baseline="central" stroke="#222" stroke-width="0.22" >0.00001</text>
<line x1="205.90" y1="72.90" x2="208.40" y2="72.90" stroke="#111" stroke-width="1" />
<text x="205.20" y="72.90" font-size="8" fill="#222" text-anchor="end" dominant-baseline="central" stroke="#222" stroke-width="0.22" >0.0001</text>
<line x1="206.80" y1="62.66" x2="208.40" y2="62.66" stroke="#111" stroke-width="0.7" />
<line x1="206.80" y1="65.24" x2="208.40" y2="65.24" stroke="#111" stroke-width="0.7" />
<line x1="206.80" y1="67.07" x2="208.40" y2="67.07" stroke="#111" stroke-width="0.7" />
<line x1="206.80" y1="68.49" x2="208.40" y2="68.49" stroke="#111" stroke-width="0.7" />
<line x1="206.80" y1="69.65" x2="208.40" y2="69.65" stroke="#111" stroke-width="0.7" />
<line x1="206.80" y1="70.63" x2="208.40" y2="70.63" stroke="#111" stroke-width="0.7" />
<line x1="206.80" y1="71.48" x2="208.40" y2="71.48" stroke="#111" stroke-width="0.7" />
<line x1="206.80" y1="72.23" x2="208.40" y2="72.23" stroke="#111" stroke-width="0.7" />
<line x1="205.90" y1="87.55" x2="208.40" y2="87.55" stroke="#111" stroke-width="1" />
<text x="205.20" y="87.55" font-size="8" fill="#222" text-anchor="end" dominant-baseline="central" stroke="#222" stroke-width="0.22" >0.001</text>
<line x1="206.80" y1="77.31" x2="208.40" y2="77.31" stroke="#111" stroke-width="0.7" />
<line x1="206.80" y1="79.89" x2="208.40" y2="79.89" stroke="#111" stroke-width="0.7" />
<line x1="206.80" y1="81.72" x2="208.40" y2="81.72" stroke="#111" stroke-width="0.7" />
<line x1="206.80" y1="83.14" x2="208.40" y2="83.14" stroke="#111" stroke-width="0.7" />
<line x1="206.80" y1="84.30" x2="208.40" y2="84.30" stroke="#111" stroke-width="0.7" />
<line x1="206.80" y1="85.28" x2="208.40" y2="85.28" stroke="#111" stroke-width="0.7" />
<line x1="206.80" y1="86.13" x2="208.40" y2="86.13" stroke="#111" stroke-width="0.7" />
<line x1="206.80" y1="86.88" x2="208.40" y2="86.88" stroke="#111" stroke-width="0.7" />
<line x1="205.90" y1="102.20" x2="208.40" y2="102.20" stroke="#111" stroke-width="1" />
<text x="205.20" y="102.20" font-size="8" fill="#222" text-anchor="end" dominant-baseline="central" stroke="#222" stroke-width="0.22" >0.01</text>
<line x1="206.80" y1="91.96" x2="208.40" y2="91.96" stroke="#111" stroke-width="0.7" />
<line x1="206.80" y1="94.54" x2="208.40" y2="94.54" stroke="#111" stroke-width="0.7" />
<line x1="206.80" y1="96.37" x2="208.40" y2="96.37" stroke="#111" stroke-width="0.7" />
<line x1="206.80" y1="97.79" x2="208.40" y2="97.79" stroke="#111" stroke-width="0.7" />
<line x1="206.80" y1="98.95" x2="208.40" y2="98.95" stroke="#111" stroke-width="0.7" />
<line x1="206.80" y1="99.93" x2="208.40" y2="99.93" stroke="#111" stroke-width="0.7" />
<line x1="206.80" y1="100.78" x2="208.40" y2="100.78" stroke="#111" stroke-width="0.7" />
<line x1="206.80" y1="101.53" x2="208.40" y2="101.53" stroke="#111" stroke-width="0.7" />
<line x1="205.90" y1="116.85" x2="208.40" y2="116.85" stroke="#111" stroke-width="1" />
<text x="205.20" y="116.85" font-size="8" fill="#222" text-anchor="end" dominant-baseline="central" stroke="#222" stroke-width="0.22" >0.1</text>
<line x1="206.80" y1="106.61" x2="208.40" y2="106.61" stroke="#111" stroke-width="0.7" />
<line x1="206.80" y1="109.19" x2="208.40" y2="109.19" stroke="#111" stroke-width="0.7" />
<line x1="206.80" y1="111.02" x2="208.40" y2="111.02" stroke="#111" stroke-width="0.7" />
<line x1="206.80" y1="112.44" x2="208.40" y2="112.44" stroke="#111" stroke-width="0.7" />
<line x1="206.80" y1="113.60" x2="208.40" y2="113.60" stroke="#111" stroke-width="0.7" />
<line x1="206.80" y1="114.58" x2="208.40" y2="114.58" stroke="#111" stroke-width="0.7" />
<line x1="206.80" y1="115.43" x2="208.40" y2="115.43" stroke="#111" stroke-width="0.7" />
<line x1="206.80" y1="116.18" x2="208.40" y2="116.18" stroke="#111" stroke-width="0.7" />
<line x1="205.90" y1="131.50" x2="208.40" y2="131.50" stroke="#111" stroke-width="1" />
<text x="205.20" y="131.50" font-size="8" fill="#222" text-anchor="end" dominant-baseline="central" stroke="#222" stroke-width="0.22" >1</text>
<line x1="206.80" y1="121.26" x2="208.40" y2="121.26" stroke="#111" stroke-width="0.7" />
<line x1="206.80" y1="123.84" x2="208.40" y2="123.84" stroke="#111" stroke-width="0.7" />
<line x1="206.80" y1="125.67" x2="208.40" y2="125.67" stroke="#111" stroke-width="0.7" />
<line x1="206.80" y1="127.09" x2="208.40" y2="127.09" stroke="#111" stroke-width="0.7" />
<line x1="206.80" y1="128.25" x2="208.40" y2="128.25" stroke="#111" stroke-width="0.7" />
<line x1="206.80" y1="129.23" x2="208.40" y2="129.23" stroke="#111" stroke-width="0.7" />
<line x1="206.80" y1="130.08" x2="208.40" y2="130.08" stroke="#111" stroke-width="0.7" />
<line x1="206.80" y1="130.83" x2="208.40" y2="130.83" stroke="#111" stroke-width="0.7" />
<line x1="220.70" y1="132.30" x2="220.70" y2="134.80" stroke="#111" stroke-width="1" />
<text x="220.10" y="140.20" font-size="8" fill="#222" text-anchor="middle" dominant-baseline="central" stroke="#222" stroke-width="0.22" >-4</text>
<line x1="242.60" y1="132.30" x2="242.60" y2="134.80" stroke="#111" stroke-width="1" />
<text x="242.00" y="140.20" font-size="8" fill="#222" text-anchor="middle" dominant-baseline="central" stroke="#222" stroke-width="0.22" >-2</text>
<line x1="264.50" y1="132.30" x2="264.50" y2="134.80" stroke="#111" stroke-width="1" />
<text x="264.50" y="140.20" font-size="8" fill="#222" text-anchor="middle" dominant-baseline="central" stroke="#222" stroke-width="0.22" >0</text>
<line x1="286.40" y1="132.30" x2="286.40" y2="134.80" stroke="#111" stroke-width="1" />
<text x="286.40" y="140.20" font-size="8" fill="#222" text-anchor="middle" dominant-baseline="central" stroke="#222" stroke-width="0.22" >2</text>
<line x1="308.30" y1="132.30" x2="308.30" y2="134.80" stroke="#111" stroke-width="1" />
<text x="308.30" y="140.20" font-size="8" fill="#222" text-anchor="middle" dominant-baseline="central" stroke="#222" stroke-width="0.22" >4</text>
<text x="257.5" y="151.6" font-size="8.3" fill="#222" stroke="#222" stroke-width="0.22" text-anchor="middle" dominant-baseline="central">Tumor/gland ratio (log<tspan font-size="5.6" dy="2">2</tspan><tspan dy="-2">)</tspan></text>
<text transform="translate(174.7,96) rotate(-90)" font-size="8.3" fill="#222" stroke="#222" stroke-width="0.22" text-anchor="middle" dominant-baseline="central"><tspan font-style="italic">P</tspan> value</text>
<line x1="208.4" y1="113" x2="318" y2="113" stroke="#aaa" stroke-width="0.8" stroke-dasharray="2.2,2.2"/>
<line x1="256.6" y1="58.5" x2="256.6" y2="113" stroke="#aaa" stroke-width="0.8" stroke-dasharray="2.2,2.2"/>
<line x1="272" y1="58.5" x2="272" y2="113" stroke="#aaa" stroke-width="0.8" stroke-dasharray="2.2,2.2"/>
<rect x="282.8" y="117.9" width="1.4" height="1.4" fill="#111"/>
<rect x="285.9" y="118.0" width="1.4" height="1.4" fill="#111"/>
<rect x="244.2" y="124.8" width="1.4" height="1.4" fill="#111"/>
<rect x="268.8" y="108.8" width="1.4" height="1.4" fill="#111"/>
<rect x="254.3" y="128.1" width="1.4" height="1.4" fill="#111"/>
<rect x="267.1" y="130.7" width="1.4" height="1.4" fill="#111"/>
<rect x="249.6" y="107.2" width="1.4" height="1.4" fill="#111"/>
<rect x="258.4" y="115.6" width="1.4" height="1.4" fill="#111"/>
<rect x="264.6" y="129.5" width="1.4" height="1.4" fill="#111"/>
<rect x="267.7" y="128.6" width="1.4" height="1.4" fill="#111"/>
<rect x="271.3" y="111.2" width="1.4" height="1.4" fill="#111"/>
<rect x="278.8" y="123.4" width="1.4" height="1.4" fill="#111"/>
<rect x="251.4" y="103.9" width="1.4" height="1.4" fill="#111"/>
<rect x="271.3" y="109.5" width="1.4" height="1.4" fill="#111"/>
<rect x="261.2" y="129.1" width="1.4" height="1.4" fill="#111"/>
<rect x="252.9" y="127.4" width="1.4" height="1.4" fill="#111"/>
<rect x="255.3" y="120.0" width="1.4" height="1.4" fill="#111"/>
<rect x="252.1" y="114.5" width="1.4" height="1.4" fill="#111"/>
<rect x="249.2" y="124.6" width="1.4" height="1.4" fill="#111"/>
<rect x="256.6" y="95.6" width="1.4" height="1.4" fill="#111"/>
<rect x="267.2" y="113.1" width="1.4" height="1.4" fill="#111"/>
<rect x="275.1" y="126.5" width="1.4" height="1.4" fill="#111"/>
<rect x="261.0" y="130.3" width="1.4" height="1.4" fill="#111"/>
<rect x="277.2" y="128.7" width="1.4" height="1.4" fill="#111"/>
<rect x="271.6" y="103.7" width="1.4" height="1.4" fill="#111"/>
<rect x="247.2" y="123.7" width="1.4" height="1.4" fill="#111"/>
<rect x="245.1" y="117.7" width="1.4" height="1.4" fill="#111"/>
<rect x="279.5" y="130.4" width="1.4" height="1.4" fill="#111"/>
<rect x="252.4" y="126.8" width="1.4" height="1.4" fill="#111"/>
<rect x="282.0" y="126.8" width="1.4" height="1.4" fill="#111"/>
<rect x="269.8" y="127.2" width="1.4" height="1.4" fill="#111"/>
<rect x="261.4" y="130.0" width="1.4" height="1.4" fill="#111"/>
<rect x="270.8" y="92.0" width="1.4" height="1.4" fill="#111"/>
<rect x="253.5" y="92.0" width="1.4" height="1.4" fill="#111"/>
<rect x="253.5" y="128.2" width="1.4" height="1.4" fill="#111"/>
<rect x="272.6" y="125.0" width="1.4" height="1.4" fill="#111"/>
<rect x="258.6" y="107.2" width="1.4" height="1.4" fill="#111"/>
<rect x="258.3" y="113.4" width="1.4" height="1.4" fill="#111"/>
<rect x="274.5" y="102.3" width="1.4" height="1.4" fill="#111"/>
<rect x="270.9" y="129.7" width="1.4" height="1.4" fill="#111"/>
<rect x="255.6" y="113.1" width="1.4" height="1.4" fill="#111"/>
<rect x="251.7" y="92.0" width="1.4" height="1.4" fill="#111"/>
<rect x="274.0" y="125.0" width="1.4" height="1.4" fill="#111"/>
<rect x="270.2" y="124.6" width="1.4" height="1.4" fill="#111"/>
<rect x="257.7" y="129.3" width="1.4" height="1.4" fill="#111"/>
<rect x="274.2" y="100.2" width="1.4" height="1.4" fill="#111"/>
<rect x="261.4" y="126.9" width="1.4" height="1.4" fill="#111"/>
<rect x="243.7" y="116.3" width="1.4" height="1.4" fill="#111"/>
<rect x="245.8" y="116.1" width="1.4" height="1.4" fill="#111"/>
<rect x="281.8" y="120.4" width="1.4" height="1.4" fill="#111"/>
<rect x="256.3" y="119.2" width="1.4" height="1.4" fill="#111"/>
<rect x="247.5" y="116.8" width="1.4" height="1.4" fill="#111"/>
<rect x="252.0" y="103.1" width="1.4" height="1.4" fill="#111"/>
<rect x="272.3" y="130.7" width="1.4" height="1.4" fill="#111"/>
<rect x="252.7" y="120.2" width="1.4" height="1.4" fill="#111"/>
<rect x="282.6" y="120.9" width="1.4" height="1.4" fill="#111"/>
<rect x="246.8" y="121.0" width="1.4" height="1.4" fill="#111"/>
<rect x="280.4" y="126.7" width="1.4" height="1.4" fill="#111"/>
<rect x="287.3" y="119.7" width="1.4" height="1.4" fill="#111"/>
<rect x="275.3" y="123.8" width="1.4" height="1.4" fill="#111"/>
<rect x="243.3" y="113.5" width="1.4" height="1.4" fill="#111"/>
<rect x="246.9" y="119.6" width="1.4" height="1.4" fill="#111"/>
<rect x="277.5" y="129.0" width="1.4" height="1.4" fill="#111"/>
<rect x="274.0" y="120.4" width="1.4" height="1.4" fill="#111"/>
<rect x="279.0" y="116.6" width="1.4" height="1.4" fill="#111"/>
<rect x="266.3" y="130.5" width="1.4" height="1.4" fill="#111"/>
<rect x="257.8" y="120.8" width="1.4" height="1.4" fill="#111"/>
<rect x="266.3" y="121.3" width="1.4" height="1.4" fill="#111"/>
<rect x="262.2" y="128.4" width="1.4" height="1.4" fill="#111"/>
<rect x="260.1" y="127.2" width="1.4" height="1.4" fill="#111"/>
<rect x="256.8" y="130.5" width="1.4" height="1.4" fill="#111"/>
<rect x="250.4" y="121.8" width="1.4" height="1.4" fill="#111"/>
<rect x="259.1" y="108.6" width="1.4" height="1.4" fill="#111"/>
<rect x="256.5" y="127.7" width="1.4" height="1.4" fill="#111"/>
<rect x="254.2" y="113.8" width="1.4" height="1.4" fill="#111"/>
<rect x="260.2" y="121.7" width="1.4" height="1.4" fill="#111"/>
<rect x="275.0" y="126.9" width="1.4" height="1.4" fill="#111"/>
<rect x="274.0" y="114.5" width="1.4" height="1.4" fill="#111"/>
<rect x="272.7" y="121.0" width="1.4" height="1.4" fill="#111"/>
<rect x="251.1" y="122.2" width="1.4" height="1.4" fill="#111"/>
<rect x="273.8" y="98.0" width="1.4" height="1.4" fill="#111"/>
<rect x="259.3" y="109.5" width="1.4" height="1.4" fill="#111"/>
<rect x="250.2" y="122.9" width="1.4" height="1.4" fill="#111"/>
<rect x="243.4" y="121.3" width="1.4" height="1.4" fill="#111"/>
<rect x="258.8" y="125.4" width="1.4" height="1.4" fill="#111"/>
<rect x="254.5" y="96.6" width="1.4" height="1.4" fill="#111"/>
<rect x="275.3" y="107.5" width="1.4" height="1.4" fill="#111"/>
<rect x="253.7" y="93.1" width="1.4" height="1.4" fill="#111"/>
<rect x="245.3" y="127.1" width="1.4" height="1.4" fill="#111"/>
<rect x="255.3" y="127.6" width="1.4" height="1.4" fill="#111"/>
<rect x="253.4" y="121.5" width="1.4" height="1.4" fill="#111"/>
<rect x="244.6" y="116.3" width="1.4" height="1.4" fill="#111"/>
<rect x="257.4" y="123.6" width="1.4" height="1.4" fill="#111"/>
<rect x="270.7" y="116.3" width="1.4" height="1.4" fill="#111"/>
<rect x="247.0" y="129.2" width="1.4" height="1.4" fill="#111"/>
<rect x="252.9" y="121.9" width="1.4" height="1.4" fill="#111"/>
<rect x="281.0" y="122.0" width="1.4" height="1.4" fill="#111"/>
<rect x="255.6" y="117.2" width="1.4" height="1.4" fill="#111"/>
<rect x="269.5" y="126.9" width="1.4" height="1.4" fill="#111"/>
<rect x="271.5" y="124.9" width="1.4" height="1.4" fill="#111"/>
<rect x="266.1" y="122.3" width="1.4" height="1.4" fill="#111"/>
<rect x="244.9" y="125.0" width="1.4" height="1.4" fill="#111"/>
<rect x="265.6" y="123.3" width="1.4" height="1.4" fill="#111"/>
<rect x="275.6" y="125.5" width="1.4" height="1.4" fill="#111"/>
<rect x="275.1" y="121.3" width="1.4" height="1.4" fill="#111"/>
<rect x="271.6" y="126.2" width="1.4" height="1.4" fill="#111"/>
<rect x="268.9" y="128.7" width="1.4" height="1.4" fill="#111"/>
<rect x="277.7" y="130.1" width="1.4" height="1.4" fill="#111"/>
<rect x="269.8" y="125.4" width="1.4" height="1.4" fill="#111"/>
<rect x="269.3" y="107.8" width="1.4" height="1.4" fill="#111"/>
<rect x="252.9" y="123.2" width="1.4" height="1.4" fill="#111"/>
<rect x="254.2" y="129.2" width="1.4" height="1.4" fill="#111"/>
<rect x="267.5" y="130.1" width="1.4" height="1.4" fill="#111"/>
<rect x="279.4" y="115.9" width="1.4" height="1.4" fill="#111"/>
<rect x="240.8" y="118.6" width="1.4" height="1.4" fill="#111"/>
<rect x="266.7" y="119.3" width="1.4" height="1.4" fill="#111"/>
<rect x="275.3" y="128.4" width="1.4" height="1.4" fill="#111"/>
<rect x="268.3" y="118.9" width="1.4" height="1.4" fill="#111"/>
<rect x="257.4" y="107.0" width="1.4" height="1.4" fill="#111"/>
<rect x="267.5" y="125.7" width="1.4" height="1.4" fill="#111"/>
<rect x="265.7" y="130.4" width="1.4" height="1.4" fill="#111"/>
<rect x="262.5" y="130.1" width="1.4" height="1.4" fill="#111"/>
<rect x="284.8" y="117.9" width="1.4" height="1.4" fill="#111"/>
<rect x="257.3" y="125.4" width="1.4" height="1.4" fill="#111"/>
<rect x="284.2" y="124.4" width="1.4" height="1.4" fill="#111"/>
<rect x="252.9" y="130.3" width="1.4" height="1.4" fill="#111"/>
<rect x="252.0" y="121.3" width="1.4" height="1.4" fill="#111"/>
<rect x="277.7" y="123.1" width="1.4" height="1.4" fill="#111"/>
<rect x="257.7" y="123.2" width="1.4" height="1.4" fill="#111"/>
<rect x="267.4" y="123.9" width="1.4" height="1.4" fill="#111"/>
<rect x="249.7" y="126.4" width="1.4" height="1.4" fill="#111"/>
<rect x="248.3" y="118.9" width="1.4" height="1.4" fill="#111"/>
<rect x="260.0" y="120.3" width="1.4" height="1.4" fill="#111"/>
<rect x="257.7" y="122.2" width="1.4" height="1.4" fill="#111"/>
<rect x="270.8" y="124.6" width="1.4" height="1.4" fill="#111"/>
<rect x="275.5" y="130.5" width="1.4" height="1.4" fill="#111"/>
<rect x="247.7" y="129.2" width="1.4" height="1.4" fill="#111"/>
<rect x="266.2" y="128.4" width="1.4" height="1.4" fill="#111"/>
<rect x="283.3" y="120.4" width="1.4" height="1.4" fill="#111"/>
<rect x="255.3" y="121.5" width="1.4" height="1.4" fill="#111"/>
<rect x="252.4" y="126.9" width="1.4" height="1.4" fill="#111"/>
<rect x="260.5" y="126.2" width="1.4" height="1.4" fill="#111"/>
<rect x="282.8" y="120.9" width="1.4" height="1.4" fill="#111"/>
<rect x="251.8" y="112.6" width="1.4" height="1.4" fill="#111"/>
<rect x="280.6" y="122.7" width="1.4" height="1.4" fill="#111"/>
<rect x="262.8" y="129.8" width="1.4" height="1.4" fill="#111"/>
<rect x="249.8" y="130.4" width="1.4" height="1.4" fill="#111"/>
<rect x="260.7" y="117.2" width="1.4" height="1.4" fill="#111"/>
<rect x="250.8" y="109.8" width="1.4" height="1.4" fill="#111"/>
<rect x="260.8" y="124.8" width="1.4" height="1.4" fill="#111"/>
<rect x="257.7" y="129.2" width="1.4" height="1.4" fill="#111"/>
<rect x="257.7" y="110.6" width="1.4" height="1.4" fill="#111"/>
<rect x="260.6" y="127.7" width="1.4" height="1.4" fill="#111"/>
<rect x="255.5" y="128.2" width="1.4" height="1.4" fill="#111"/>
<rect x="254.9" y="106.2" width="1.4" height="1.4" fill="#111"/>
<rect x="279.9" y="119.7" width="1.4" height="1.4" fill="#111"/>
<rect x="257.2" y="103.1" width="1.4" height="1.4" fill="#111"/>
<rect x="276.4" y="127.5" width="1.4" height="1.4" fill="#111"/>
<rect x="267.3" y="129.1" width="1.4" height="1.4" fill="#111"/>
<rect x="261.9" y="128.3" width="1.4" height="1.4" fill="#111"/>
<rect x="254.6" y="96.2" width="1.4" height="1.4" fill="#111"/>
<rect x="257.6" y="124.8" width="1.4" height="1.4" fill="#111"/>
<rect x="268.9" y="118.7" width="1.4" height="1.4" fill="#111"/>
<rect x="241.9" y="120.2" width="1.4" height="1.4" fill="#111"/>
<rect x="284.3" y="125.4" width="1.4" height="1.4" fill="#111"/>
<rect x="251.5" y="130.2" width="1.4" height="1.4" fill="#111"/>
<rect x="255.5" y="130.4" width="1.4" height="1.4" fill="#111"/>
<rect x="271.6" y="123.8" width="1.4" height="1.4" fill="#111"/>
<rect x="249.3" y="130.1" width="1.4" height="1.4" fill="#111"/>
<rect x="258.0" y="104.7" width="1.4" height="1.4" fill="#111"/>
<rect x="257.8" y="130.3" width="1.4" height="1.4" fill="#111"/>
<rect x="256.7" y="128.0" width="1.4" height="1.4" fill="#111"/>
<rect x="262.8" y="130.3" width="1.4" height="1.4" fill="#111"/>
<rect x="272.5" y="128.9" width="1.4" height="1.4" fill="#111"/>
<rect x="260.7" y="123.6" width="1.4" height="1.4" fill="#111"/>
<rect x="255.2" y="129.7" width="1.4" height="1.4" fill="#111"/>
<rect x="283.6" y="122.1" width="1.4" height="1.4" fill="#111"/>
<rect x="255.7" y="130.6" width="1.4" height="1.4" fill="#111"/>
<rect x="255.2" y="122.7" width="1.4" height="1.4" fill="#111"/>
<rect x="285.7" y="118.5" width="1.4" height="1.4" fill="#111"/>
<rect x="247.0" y="125.1" width="1.4" height="1.4" fill="#111"/>
<rect x="258.9" y="129.6" width="1.4" height="1.4" fill="#111"/>
<rect x="244.7" y="116.7" width="1.4" height="1.4" fill="#111"/>
<rect x="262.1" y="129.5" width="1.4" height="1.4" fill="#111"/>
<rect x="257.2" y="130.0" width="1.4" height="1.4" fill="#111"/>
<rect x="265.5" y="128.1" width="1.4" height="1.4" fill="#111"/>
<rect x="267.0" y="130.3" width="1.4" height="1.4" fill="#111"/>
<rect x="261.2" y="126.3" width="1.4" height="1.4" fill="#111"/>
<rect x="249.9" y="127.2" width="1.4" height="1.4" fill="#111"/>
<rect x="276.8" y="109.2" width="1.4" height="1.4" fill="#111"/>
<rect x="273.9" y="122.7" width="1.4" height="1.4" fill="#111"/>
<rect x="286.5" y="120.7" width="1.4" height="1.4" fill="#111"/>
<rect x="270.9" y="119.3" width="1.4" height="1.4" fill="#111"/>
<rect x="266.9" y="126.2" width="1.4" height="1.4" fill="#111"/>
<rect x="259.4" y="129.0" width="1.4" height="1.4" fill="#111"/>
<rect x="265.6" y="127.6" width="1.4" height="1.4" fill="#111"/>
<rect x="265.8" y="123.0" width="1.4" height="1.4" fill="#111"/>
<rect x="258.1" y="129.5" width="1.4" height="1.4" fill="#111"/>
<rect x="274.3" y="102.4" width="1.4" height="1.4" fill="#111"/>
<rect x="256.4" y="125.5" width="1.4" height="1.4" fill="#111"/>
<rect x="255.0" y="130.7" width="1.4" height="1.4" fill="#111"/>
<rect x="267.6" y="118.4" width="1.4" height="1.4" fill="#111"/>
<rect x="276.1" y="129.0" width="1.4" height="1.4" fill="#111"/>
<rect x="250.1" y="104.2" width="1.4" height="1.4" fill="#111"/>
<rect x="246.7" y="127.2" width="1.4" height="1.4" fill="#111"/>
<rect x="254.9" y="125.4" width="1.4" height="1.4" fill="#111"/>
<rect x="273.8" y="104.6" width="1.4" height="1.4" fill="#111"/>
<rect x="267.2" y="122.2" width="1.4" height="1.4" fill="#111"/>
<rect x="265.8" y="125.6" width="1.4" height="1.4" fill="#111"/>
<rect x="272.9" y="130.5" width="1.4" height="1.4" fill="#111"/>
<rect x="254.2" y="110.5" width="1.4" height="1.4" fill="#111"/>
<rect x="260.0" y="127.7" width="1.4" height="1.4" fill="#111"/>
<rect x="278.6" y="126.6" width="1.4" height="1.4" fill="#111"/>
<rect x="258.9" y="126.7" width="1.4" height="1.4" fill="#111"/>
<rect x="282.5" y="113.3" width="1.4" height="1.4" fill="#111"/>
<rect x="267.1" y="125.9" width="1.4" height="1.4" fill="#111"/>
<rect x="265.8" y="124.4" width="1.4" height="1.4" fill="#111"/>
<rect x="252.3" y="129.8" width="1.4" height="1.4" fill="#111"/>
<rect x="278.0" y="128.7" width="1.4" height="1.4" fill="#111"/>
<rect x="243.6" y="119.9" width="1.4" height="1.4" fill="#111"/>
<rect x="273.2" y="115.5" width="1.4" height="1.4" fill="#111"/>
<rect x="251.3" y="124.0" width="1.4" height="1.4" fill="#111"/>
<rect x="257.5" y="126.1" width="1.4" height="1.4" fill="#111"/>
<rect x="256.8" y="127.2" width="1.4" height="1.4" fill="#111"/>
<rect x="253.9" y="119.2" width="1.4" height="1.4" fill="#111"/>
<rect x="284.8" y="114.7" width="1.4" height="1.4" fill="#111"/>
<rect x="276.6" y="120.2" width="1.4" height="1.4" fill="#111"/>
<rect x="275.4" y="126.5" width="1.4" height="1.4" fill="#111"/>
<rect x="270.3" y="123.8" width="1.4" height="1.4" fill="#111"/>
<rect x="258.3" y="129.9" width="1.4" height="1.4" fill="#111"/>
<rect x="280.8" y="117.2" width="1.4" height="1.4" fill="#111"/>
<rect x="255.9" y="105.6" width="1.4" height="1.4" fill="#111"/>
<rect x="276.3" y="130.1" width="1.4" height="1.4" fill="#111"/>
<rect x="277.0" y="100.9" width="1.4" height="1.4" fill="#111"/>
<rect x="280.2" y="113.5" width="1.4" height="1.4" fill="#111"/>
<rect x="272.8" y="128.6" width="1.4" height="1.4" fill="#111"/>
<rect x="281.9" y="128.2" width="1.4" height="1.4" fill="#111"/>
<rect x="265.1" y="126.0" width="1.4" height="1.4" fill="#111"/>
<rect x="252.9" y="128.9" width="1.4" height="1.4" fill="#111"/>
<rect x="275.7" y="107.9" width="1.4" height="1.4" fill="#111"/>
<rect x="252.7" y="129.7" width="1.4" height="1.4" fill="#111"/>
<rect x="273.2" y="118.8" width="1.4" height="1.4" fill="#111"/>
<rect x="269.2" y="128.5" width="1.4" height="1.4" fill="#111"/>
<rect x="243.3" y="121.5" width="1.4" height="1.4" fill="#111"/>
<rect x="246.2" y="121.3" width="1.4" height="1.4" fill="#111"/>
<rect x="255.1" y="130.2" width="1.4" height="1.4" fill="#111"/>
<rect x="278.7" y="110.7" width="1.4" height="1.4" fill="#111"/>
<rect x="253.3" y="125.5" width="1.4" height="1.4" fill="#111"/>
<rect x="269.1" y="127.4" width="1.4" height="1.4" fill="#111"/>
<rect x="270.4" y="98.4" width="1.4" height="1.4" fill="#111"/>
<rect x="254.8" y="129.6" width="1.4" height="1.4" fill="#111"/>
<rect x="267.2" y="128.9" width="1.4" height="1.4" fill="#111"/>
<rect x="280.0" y="120.9" width="1.4" height="1.4" fill="#111"/>
<rect x="271.5" y="130.2" width="1.4" height="1.4" fill="#111"/>
<rect x="271.3" y="100.8" width="1.4" height="1.4" fill="#111"/>
<rect x="285.8" y="120.9" width="1.4" height="1.4" fill="#111"/>
<rect x="244.1" y="119.4" width="1.4" height="1.4" fill="#111"/>
<rect x="260.7" y="129.8" width="1.4" height="1.4" fill="#111"/>
<rect x="261.3" y="129.9" width="1.4" height="1.4" fill="#111"/>
<rect x="276.6" y="129.7" width="1.4" height="1.4" fill="#111"/>
<rect x="282.1" y="114.7" width="1.4" height="1.4" fill="#111"/>
<rect x="279.9" y="106.3" width="1.4" height="1.4" fill="#111"/>
<rect x="269.7" y="98.9" width="1.4" height="1.4" fill="#111"/>
<rect x="260.6" y="130.2" width="1.4" height="1.4" fill="#111"/>
<rect x="249.9" y="125.0" width="1.4" height="1.4" fill="#111"/>
<rect x="270.3" y="130.0" width="1.4" height="1.4" fill="#111"/>
<rect x="266.6" y="126.3" width="1.4" height="1.4" fill="#111"/>
<rect x="277.3" y="126.3" width="1.4" height="1.4" fill="#111"/>
<rect x="249.7" y="99.5" width="1.4" height="1.4" fill="#111"/>
<rect x="246.8" y="117.2" width="1.4" height="1.4" fill="#111"/>
<rect x="256.2" y="129.6" width="1.4" height="1.4" fill="#111"/>
<rect x="242.2" y="118.1" width="1.4" height="1.4" fill="#111"/>
<rect x="254.9" y="127.5" width="1.4" height="1.4" fill="#111"/>
<rect x="277.5" y="116.0" width="1.4" height="1.4" fill="#111"/>
<rect x="247.8" y="126.9" width="1.4" height="1.4" fill="#111"/>
<rect x="257.5" y="130.3" width="1.4" height="1.4" fill="#111"/>
<rect x="260.3" y="120.4" width="1.4" height="1.4" fill="#111"/>
<rect x="256.3" y="129.8" width="1.4" height="1.4" fill="#111"/>
<rect x="272.5" y="123.4" width="1.4" height="1.4" fill="#111"/>
<rect x="269.5" y="129.9" width="1.4" height="1.4" fill="#111"/>
<rect x="276.1" y="130.8" width="1.4" height="1.4" fill="#111"/>
<rect x="260.1" y="130.6" width="1.4" height="1.4" fill="#111"/>
<rect x="253.8" y="126.2" width="1.4" height="1.4" fill="#111"/>
<rect x="246.6" y="128.5" width="1.4" height="1.4" fill="#111"/>
<rect x="261.0" y="124.7" width="1.4" height="1.4" fill="#111"/>
<rect x="251.9" y="101.3" width="1.4" height="1.4" fill="#111"/>
<rect x="257.9" y="130.3" width="1.4" height="1.4" fill="#111"/>
<rect x="276.0" y="125.4" width="1.4" height="1.4" fill="#111"/>
<rect x="278.8" y="120.9" width="1.4" height="1.4" fill="#111"/>
<rect x="251.9" y="130.6" width="1.4" height="1.4" fill="#111"/>
<rect x="246.8" y="111.1" width="1.4" height="1.4" fill="#111"/>
<rect x="284.1" y="126.3" width="1.4" height="1.4" fill="#111"/>
<rect x="269.2" y="109.6" width="1.4" height="1.4" fill="#111"/>
<rect x="284.1" y="125.6" width="1.4" height="1.4" fill="#111"/>
<rect x="271.2" y="128.5" width="1.4" height="1.4" fill="#111"/>
<rect x="257.6" y="124.8" width="1.4" height="1.4" fill="#111"/>
<rect x="266.7" y="129.5" width="1.4" height="1.4" fill="#111"/>
<rect x="258.0" y="130.1" width="1.4" height="1.4" fill="#111"/>
<rect x="269.9" y="110.2" width="1.4" height="1.4" fill="#111"/>
<rect x="242.6" y="114.0" width="1.4" height="1.4" fill="#111"/>
<rect x="267.8" y="129.4" width="1.4" height="1.4" fill="#111"/>
<rect x="268.5" y="104.4" width="1.4" height="1.4" fill="#111"/>
<rect x="258.2" y="125.5" width="1.4" height="1.4" fill="#111"/>
<rect x="279.2" y="126.4" width="1.4" height="1.4" fill="#111"/>
<rect x="242.8" y="123.8" width="1.4" height="1.4" fill="#111"/>
<rect x="265.8" y="129.9" width="1.4" height="1.4" fill="#111"/>
<rect x="271.1" y="126.3" width="1.4" height="1.4" fill="#111"/>
<rect x="242.2" y="122.5" width="1.4" height="1.4" fill="#111"/>
<rect x="257.4" y="122.8" width="1.4" height="1.4" fill="#111"/>
<rect x="268.4" y="118.3" width="1.4" height="1.4" fill="#111"/>
<rect x="261.0" y="119.2" width="1.4" height="1.4" fill="#111"/>
<rect x="274.0" y="125.6" width="1.4" height="1.4" fill="#111"/>
<rect x="267.3" y="115.8" width="1.4" height="1.4" fill="#111"/>
<rect x="258.1" y="130.4" width="1.4" height="1.4" fill="#111"/>
<rect x="259.4" y="130.6" width="1.4" height="1.4" fill="#111"/>
<rect x="242.4" y="120.7" width="1.4" height="1.4" fill="#111"/>
<rect x="248.5" y="123.6" width="1.4" height="1.4" fill="#111"/>
<rect x="278.5" y="102.3" width="1.4" height="1.4" fill="#111"/>
<rect x="247.9" y="129.1" width="1.4" height="1.4" fill="#111"/>
<rect x="248.9" y="125.1" width="1.4" height="1.4" fill="#111"/>
<rect x="282.6" y="126.1" width="1.4" height="1.4" fill="#111"/>
<rect x="245.7" y="123.2" width="1.4" height="1.4" fill="#111"/>
<rect x="254.5" y="126.7" width="1.4" height="1.4" fill="#111"/>
<rect x="271.7" y="128.6" width="1.4" height="1.4" fill="#111"/>
<rect x="258.5" y="129.9" width="1.4" height="1.4" fill="#111"/>
<rect x="255.5" y="98.2" width="1.4" height="1.4" fill="#111"/>
<rect x="246.5" y="116.2" width="1.4" height="1.4" fill="#111"/>
<rect x="249.4" y="114.0" width="1.4" height="1.4" fill="#111"/>
<rect x="257.4" y="121.4" width="1.4" height="1.4" fill="#111"/>
<rect x="253.4" y="110.9" width="1.4" height="1.4" fill="#111"/>
<rect x="266.4" y="128.9" width="1.4" height="1.4" fill="#111"/>
<rect x="250.3" y="118.0" width="1.4" height="1.4" fill="#111"/>
<rect x="250.9" y="130.4" width="1.4" height="1.4" fill="#111"/>
<rect x="259.2" y="111.3" width="1.4" height="1.4" fill="#111"/>
<rect x="276.0" y="129.6" width="1.4" height="1.4" fill="#111"/>
<rect x="269.5" y="121.8" width="1.4" height="1.4" fill="#111"/>
<rect x="265.2" y="129.7" width="1.4" height="1.4" fill="#111"/>
<rect x="265.2" y="129.9" width="1.4" height="1.4" fill="#111"/>
<rect x="243.2" y="120.8" width="1.4" height="1.4" fill="#111"/>
<rect x="274.3" y="130.1" width="1.4" height="1.4" fill="#111"/>
<rect x="276.6" y="129.6" width="1.4" height="1.4" fill="#111"/>
<rect x="262.6" y="127.4" width="1.4" height="1.4" fill="#111"/>
<rect x="283.7" y="123.9" width="1.4" height="1.4" fill="#111"/>
<rect x="260.2" y="129.2" width="1.4" height="1.4" fill="#111"/>
<rect x="256.4" y="102.9" width="1.4" height="1.4" fill="#111"/>
<rect x="261.5" y="126.7" width="1.4" height="1.4" fill="#111"/>
<rect x="249.0" y="121.5" width="1.4" height="1.4" fill="#111"/>
<rect x="255.9" y="129.4" width="1.4" height="1.4" fill="#111"/>
<rect x="275.7" y="125.2" width="1.4" height="1.4" fill="#111"/>
<rect x="268.3" y="129.3" width="1.4" height="1.4" fill="#111"/>
<rect x="244.3" y="123.5" width="1.4" height="1.4" fill="#111"/>
<rect x="273.9" y="120.5" width="1.4" height="1.4" fill="#111"/>
<rect x="271.5" y="113.6" width="1.4" height="1.4" fill="#111"/>
<rect x="257.5" y="127.9" width="1.4" height="1.4" fill="#111"/>
<rect x="275.3" y="127.9" width="1.4" height="1.4" fill="#111"/>
<rect x="269.6" y="101.0" width="1.4" height="1.4" fill="#111"/>
<rect x="266.3" y="126.9" width="1.4" height="1.4" fill="#111"/>
<rect x="276.9" y="113.1" width="1.4" height="1.4" fill="#111"/>
<rect x="254.5" y="96.7" width="1.4" height="1.4" fill="#111"/>
<rect x="270.8" y="118.5" width="1.4" height="1.4" fill="#111"/>
<rect x="261.3" y="127.0" width="1.4" height="1.4" fill="#111"/>
<rect x="253.6" y="118.8" width="1.4" height="1.4" fill="#111"/>
<rect x="268.5" y="130.2" width="1.4" height="1.4" fill="#111"/>
<rect x="250.4" y="103.5" width="1.4" height="1.4" fill="#111"/>
<rect x="266.9" y="124.1" width="1.4" height="1.4" fill="#111"/>
<rect x="262.5" y="128.4" width="1.4" height="1.4" fill="#111"/>
<rect x="266.2" y="127.5" width="1.4" height="1.4" fill="#111"/>
<rect x="248.0" y="105.0" width="1.4" height="1.4" fill="#111"/>
<rect x="251.4" y="129.8" width="1.4" height="1.4" fill="#111"/>
<rect x="260.7" y="123.5" width="1.4" height="1.4" fill="#111"/>
<rect x="273.6" y="123.3" width="1.4" height="1.4" fill="#111"/>
<rect x="242.4" y="123.2" width="1.4" height="1.4" fill="#111"/>
<rect x="255.1" y="128.6" width="1.4" height="1.4" fill="#111"/>
<rect x="276.4" y="126.2" width="1.4" height="1.4" fill="#111"/>
<rect x="279.5" y="127.0" width="1.4" height="1.4" fill="#111"/>
<rect x="265.1" y="129.4" width="1.4" height="1.4" fill="#111"/>
<rect x="273.1" y="124.8" width="1.4" height="1.4" fill="#111"/>
<rect x="275.1" y="122.7" width="1.4" height="1.4" fill="#111"/>
<rect x="256.5" y="117.8" width="1.4" height="1.4" fill="#111"/>
<rect x="249.3" y="117.3" width="1.4" height="1.4" fill="#111"/>
<rect x="252.0" y="128.6" width="1.4" height="1.4" fill="#111"/>
<rect x="281.0" y="129.8" width="1.4" height="1.4" fill="#111"/>
<rect x="261.9" y="129.1" width="1.4" height="1.4" fill="#111"/>
<rect x="244.3" y="121.6" width="1.4" height="1.4" fill="#111"/>
<rect x="259.6" y="119.4" width="1.4" height="1.4" fill="#111"/>
<rect x="270.2" y="128.0" width="1.4" height="1.4" fill="#111"/>
<rect x="259.1" y="118.7" width="1.4" height="1.4" fill="#111"/>
<rect x="275.1" y="126.9" width="1.4" height="1.4" fill="#111"/>
<rect x="282.7" y="124.4" width="1.4" height="1.4" fill="#111"/>
<rect x="269.9" y="127.6" width="1.4" height="1.4" fill="#111"/>
<rect x="270.7" y="129.4" width="1.4" height="1.4" fill="#111"/>
<rect x="256.0" y="95.1" width="1.4" height="1.4" fill="#111"/>
<rect x="281.2" y="117.3" width="1.4" height="1.4" fill="#111"/>
<rect x="255.5" y="103.4" width="1.4" height="1.4" fill="#111"/>
<rect x="274.0" y="120.5" width="1.4" height="1.4" fill="#111"/>
<rect x="272.3" y="120.1" width="1.4" height="1.4" fill="#111"/>
<rect x="279.2" y="124.1" width="1.4" height="1.4" fill="#111"/>
<rect x="269.1" y="115.7" width="1.4" height="1.4" fill="#111"/>
<rect x="251.7" y="130.8" width="1.4" height="1.4" fill="#111"/>
<rect x="267.4" y="113.5" width="1.4" height="1.4" fill="#111"/>
<rect x="267.0" y="124.6" width="1.4" height="1.4" fill="#111"/>
<rect x="251.1" y="95.9" width="1.4" height="1.4" fill="#111"/>
<rect x="248.9" y="114.0" width="1.4" height="1.4" fill="#111"/>
<rect x="257.6" y="120.9" width="1.4" height="1.4" fill="#111"/>
<rect x="253.9" y="130.7" width="1.4" height="1.4" fill="#111"/>
<rect x="276.1" y="117.8" width="1.4" height="1.4" fill="#111"/>
<rect x="250.3" y="127.3" width="1.4" height="1.4" fill="#111"/>
<rect x="246.8" y="122.2" width="1.4" height="1.4" fill="#111"/>
<rect x="260.3" y="119.8" width="1.4" height="1.4" fill="#111"/>
<rect x="258.0" y="113.3" width="1.4" height="1.4" fill="#111"/>
<rect x="252.0" y="130.7" width="1.4" height="1.4" fill="#111"/>
<rect x="254.8" y="125.0" width="1.4" height="1.4" fill="#111"/>
<rect x="274.8" y="124.6" width="1.4" height="1.4" fill="#111"/>
<rect x="246.1" y="115.7" width="1.4" height="1.4" fill="#111"/>
<rect x="277.7" y="113.7" width="1.4" height="1.4" fill="#111"/>
<rect x="277.5" y="112.7" width="1.4" height="1.4" fill="#111"/>
<rect x="244.4" y="110.2" width="1.4" height="1.4" fill="#111"/>
<rect x="258.6" y="130.1" width="1.4" height="1.4" fill="#111"/>
<rect x="261.3" y="126.4" width="1.4" height="1.4" fill="#111"/>
<rect x="257.5" y="130.8" width="1.4" height="1.4" fill="#111"/>
<rect x="254.0" y="118.4" width="1.4" height="1.4" fill="#111"/>
<rect x="249.7" y="101.6" width="1.4" height="1.4" fill="#111"/>
<rect x="270.8" y="128.5" width="1.4" height="1.4" fill="#111"/>
<rect x="262.0" y="125.8" width="1.4" height="1.4" fill="#111"/>
<rect x="247.4" y="116.9" width="1.4" height="1.4" fill="#111"/>
<rect x="282.0" y="119.9" width="1.4" height="1.4" fill="#111"/>
<rect x="278.0" y="107.1" width="1.4" height="1.4" fill="#111"/>
<rect x="248.5" y="120.5" width="1.4" height="1.4" fill="#111"/>
<rect x="274.7" y="118.9" width="1.4" height="1.4" fill="#111"/>
<rect x="258.9" y="127.0" width="1.4" height="1.4" fill="#111"/>
<rect x="269.6" y="116.8" width="1.4" height="1.4" fill="#111"/>
<rect x="272.8" y="113.3" width="1.4" height="1.4" fill="#111"/>
<rect x="255.2" y="121.9" width="1.4" height="1.4" fill="#111"/>
<rect x="262.6" y="127.6" width="1.4" height="1.4" fill="#111"/>
<rect x="260.9" y="125.5" width="1.4" height="1.4" fill="#111"/>
<rect x="242.8" y="123.2" width="1.4" height="1.4" fill="#111"/>
<rect x="281.9" y="127.0" width="1.4" height="1.4" fill="#111"/>
<rect x="262.9" y="129.2" width="1.4" height="1.4" fill="#111"/>
<rect x="246.8" y="122.0" width="1.4" height="1.4" fill="#111"/>
<rect x="252.6" y="115.3" width="1.4" height="1.4" fill="#111"/>
<rect x="276.2" y="121.9" width="1.4" height="1.4" fill="#111"/>
<rect x="255.0" y="125.5" width="1.4" height="1.4" fill="#111"/>
<rect x="269.0" y="128.3" width="1.4" height="1.4" fill="#111"/>
<rect x="272.4" y="130.1" width="1.4" height="1.4" fill="#111"/>
<rect x="249.9" y="120.4" width="1.4" height="1.4" fill="#111"/>
<rect x="253.6" y="118.3" width="1.4" height="1.4" fill="#111"/>
<rect x="247.1" y="112.3" width="1.4" height="1.4" fill="#111"/>
<rect x="259.4" y="120.0" width="1.4" height="1.4" fill="#111"/>
<rect x="253.7" y="130.0" width="1.4" height="1.4" fill="#111"/>
<rect x="266.3" y="121.2" width="1.4" height="1.4" fill="#111"/>
<rect x="254.6" y="124.8" width="1.4" height="1.4" fill="#111"/>
<rect x="255.8" y="127.7" width="1.4" height="1.4" fill="#111"/>
<rect x="257.2" y="120.1" width="1.4" height="1.4" fill="#111"/>
<rect x="259.1" y="129.9" width="1.4" height="1.4" fill="#111"/>
<rect x="266.1" y="127.5" width="1.4" height="1.4" fill="#111"/>
<rect x="257.5" y="103.2" width="1.4" height="1.4" fill="#111"/>
<rect x="252.1" y="128.6" width="1.4" height="1.4" fill="#111"/>
<rect x="249.8" y="129.8" width="1.4" height="1.4" fill="#111"/>
<rect x="252.8" y="119.8" width="1.4" height="1.4" fill="#111"/>
<rect x="267.4" y="130.2" width="1.4" height="1.4" fill="#111"/>
<rect x="249.1" y="127.9" width="1.4" height="1.4" fill="#111"/>
<rect x="254.3" y="126.7" width="1.4" height="1.4" fill="#111"/>
<rect x="274.0" y="122.8" width="1.4" height="1.4" fill="#111"/>
<rect x="273.4" y="121.7" width="1.4" height="1.4" fill="#111"/>
<rect x="256.8" y="129.5" width="1.4" height="1.4" fill="#111"/>
<rect x="270.6" y="127.3" width="1.4" height="1.4" fill="#111"/>
<rect x="268.5" y="122.3" width="1.4" height="1.4" fill="#111"/>
<rect x="260.4" y="118.2" width="1.4" height="1.4" fill="#111"/>
<rect x="242.6" y="117.4" width="1.4" height="1.4" fill="#111"/>
<rect x="254.0" y="130.0" width="1.4" height="1.4" fill="#111"/>
<rect x="260.9" y="120.6" width="1.4" height="1.4" fill="#111"/>
<rect x="258.4" y="129.1" width="1.4" height="1.4" fill="#111"/>
<rect x="282.5" y="124.0" width="1.4" height="1.4" fill="#111"/>
<rect x="283.6" y="121.6" width="1.4" height="1.4" fill="#111"/>
<rect x="256.9" y="124.7" width="1.4" height="1.4" fill="#111"/>
<rect x="279.0" y="129.7" width="1.4" height="1.4" fill="#111"/>
<rect x="242.0" y="116.2" width="1.4" height="1.4" fill="#111"/>
<rect x="281.2" y="126.1" width="1.4" height="1.4" fill="#111"/>
<rect x="276.6" y="129.5" width="1.4" height="1.4" fill="#111"/>
<rect x="269.8" y="125.0" width="1.4" height="1.4" fill="#111"/>
<rect x="245.2" y="125.7" width="1.4" height="1.4" fill="#111"/>
<rect x="252.9" y="128.0" width="1.4" height="1.4" fill="#111"/>
<rect x="253.3" y="121.7" width="1.4" height="1.4" fill="#111"/>
<rect x="251.0" y="130.5" width="1.4" height="1.4" fill="#111"/>
<rect x="272.7" y="128.1" width="1.4" height="1.4" fill="#111"/>
<rect x="283.6" y="124.1" width="1.4" height="1.4" fill="#111"/>
<rect x="270.2" y="127.3" width="1.4" height="1.4" fill="#111"/>
<rect x="280.4" y="129.1" width="1.4" height="1.4" fill="#111"/>
<rect x="257.6" y="124.2" width="1.4" height="1.4" fill="#111"/>
<rect x="267.3" y="130.4" width="1.4" height="1.4" fill="#111"/>
<rect x="270.2" y="116.0" width="1.4" height="1.4" fill="#111"/>
<rect x="261.8" y="130.5" width="1.4" height="1.4" fill="#111"/>
<rect x="254.6" y="92.0" width="1.4" height="1.4" fill="#111"/>
<rect x="261.9" y="130.2" width="1.4" height="1.4" fill="#111"/>
<rect x="285.9" y="118.0" width="1.4" height="1.4" fill="#111"/>
<rect x="270.8" y="116.3" width="1.4" height="1.4" fill="#111"/>
<rect x="261.9" y="127.8" width="1.4" height="1.4" fill="#111"/>
<rect x="251.9" y="118.7" width="1.4" height="1.4" fill="#111"/>
<rect x="248.1" y="127.3" width="1.4" height="1.4" fill="#111"/>
<rect x="281.3" y="118.4" width="1.4" height="1.4" fill="#111"/>
<rect x="272.5" y="123.0" width="1.4" height="1.4" fill="#111"/>
<rect x="265.2" y="127.6" width="1.4" height="1.4" fill="#111"/>
<rect x="260.5" y="125.0" width="1.4" height="1.4" fill="#111"/>
<rect x="257.4" y="128.1" width="1.4" height="1.4" fill="#111"/>
<rect x="281.9" y="124.4" width="1.4" height="1.4" fill="#111"/>
<rect x="271.4" y="122.3" width="1.4" height="1.4" fill="#111"/>
<rect x="252.2" y="127.2" width="1.4" height="1.4" fill="#111"/>
<rect x="271.6" y="115.9" width="1.4" height="1.4" fill="#111"/>
<rect x="255.1" y="130.7" width="1.4" height="1.4" fill="#111"/>
<rect x="259.4" y="130.7" width="1.4" height="1.4" fill="#111"/>
<rect x="252.5" y="128.6" width="1.4" height="1.4" fill="#111"/>
<rect x="277.4" y="127.6" width="1.4" height="1.4" fill="#111"/>
<rect x="257.7" y="106.6" width="1.4" height="1.4" fill="#111"/>
<rect x="281.3" y="119.2" width="1.4" height="1.4" fill="#111"/>
<rect x="250.2" y="111.3" width="1.4" height="1.4" fill="#111"/>
<rect x="266.8" y="130.0" width="1.4" height="1.4" fill="#111"/>
<rect x="260.5" y="123.3" width="1.4" height="1.4" fill="#111"/>
<rect x="272.9" y="126.7" width="1.4" height="1.4" fill="#111"/>
<rect x="271.7" y="113.4" width="1.4" height="1.4" fill="#111"/>
<rect x="278.9" y="121.9" width="1.4" height="1.4" fill="#111"/>
<rect x="255.4" y="127.7" width="1.4" height="1.4" fill="#111"/>
<rect x="268.0" y="120.9" width="1.4" height="1.4" fill="#111"/>
<rect x="258.7" y="123.0" width="1.4" height="1.4" fill="#111"/>
<rect x="258.4" y="105.6" width="1.4" height="1.4" fill="#111"/>
<rect x="262.3" y="127.5" width="1.4" height="1.4" fill="#111"/>
<rect x="257.3" y="129.1" width="1.4" height="1.4" fill="#111"/>
<rect x="269.4" y="130.0" width="1.4" height="1.4" fill="#111"/>
<rect x="266.0" y="121.5" width="1.4" height="1.4" fill="#111"/>
<rect x="247.5" y="127.7" width="1.4" height="1.4" fill="#111"/>
<rect x="255.4" y="128.0" width="1.4" height="1.4" fill="#111"/>
<rect x="252.8" y="129.3" width="1.4" height="1.4" fill="#111"/>
<rect x="275.2" y="124.6" width="1.4" height="1.4" fill="#111"/>
<rect x="274.1" y="101.0" width="1.4" height="1.4" fill="#111"/>
<rect x="249.8" y="124.1" width="1.4" height="1.4" fill="#111"/>
<rect x="254.6" y="119.8" width="1.4" height="1.4" fill="#111"/>
<rect x="279.3" y="121.7" width="1.4" height="1.4" fill="#111"/>
<rect x="280.8" y="119.1" width="1.4" height="1.4" fill="#111"/>
<rect x="274.8" y="128.3" width="1.4" height="1.4" fill="#111"/>
<rect x="276.2" y="130.2" width="1.4" height="1.4" fill="#111"/>
<rect x="252.8" y="124.3" width="1.4" height="1.4" fill="#111"/>
<rect x="275.3" y="117.0" width="1.4" height="1.4" fill="#111"/>
<rect x="275.5" y="125.2" width="1.4" height="1.4" fill="#111"/>
<rect x="277.5" y="127.1" width="1.4" height="1.4" fill="#111"/>
<rect x="276.8" y="130.0" width="1.4" height="1.4" fill="#111"/>
<rect x="281.4" y="123.4" width="1.4" height="1.4" fill="#111"/>
<rect x="272.0" y="129.3" width="1.4" height="1.4" fill="#111"/>
<rect x="286.9" y="119.4" width="1.4" height="1.4" fill="#111"/>
<rect x="267.7" y="114.0" width="1.4" height="1.4" fill="#111"/>
<rect x="246.8" y="107.5" width="1.4" height="1.4" fill="#111"/>
<rect x="278.7" y="126.9" width="1.4" height="1.4" fill="#111"/>
<rect x="278.9" y="120.3" width="1.4" height="1.4" fill="#111"/>
<rect x="287.2" y="118.9" width="1.4" height="1.4" fill="#111"/>
<rect x="250.0" y="124.3" width="1.4" height="1.4" fill="#111"/>
<rect x="279.9" y="130.3" width="1.4" height="1.4" fill="#111"/>
<rect x="261.5" y="124.2" width="1.4" height="1.4" fill="#111"/>
<rect x="255.9" y="105.6" width="1.4" height="1.4" fill="#111"/>
<rect x="256.6" y="114.9" width="1.4" height="1.4" fill="#111"/>
<rect x="284.2" y="122.8" width="1.4" height="1.4" fill="#111"/>
<rect x="258.8" y="127.0" width="1.4" height="1.4" fill="#111"/>
<rect x="261.9" y="130.8" width="1.4" height="1.4" fill="#111"/>
<rect x="249.6" y="127.2" width="1.4" height="1.4" fill="#111"/>
<rect x="268.8" y="126.6" width="1.4" height="1.4" fill="#111"/>
<rect x="252.6" y="121.4" width="1.4" height="1.4" fill="#111"/>
<rect x="257.6" y="123.7" width="1.4" height="1.4" fill="#111"/>
<rect x="259.0" y="116.2" width="1.4" height="1.4" fill="#111"/>
<rect x="250.7" y="117.0" width="1.4" height="1.4" fill="#111"/>
<rect x="282.2" y="127.2" width="1.4" height="1.4" fill="#111"/>
<rect x="253.9" y="109.3" width="1.4" height="1.4" fill="#111"/>
<rect x="245.9" y="127.9" width="1.4" height="1.4" fill="#111"/>
<rect x="283.2" y="118.1" width="1.4" height="1.4" fill="#111"/>
<rect x="255.3" y="127.3" width="1.4" height="1.4" fill="#111"/>
<rect x="269.3" y="108.1" width="1.4" height="1.4" fill="#111"/>
<rect x="270.9" y="123.1" width="1.4" height="1.4" fill="#111"/>
<rect x="253.4" y="125.5" width="1.4" height="1.4" fill="#111"/>
<rect x="246.1" y="127.3" width="1.4" height="1.4" fill="#111"/>
<rect x="249.5" y="127.3" width="1.4" height="1.4" fill="#111"/>
<rect x="260.9" y="125.6" width="1.4" height="1.4" fill="#111"/>
<rect x="253.0" y="92.0" width="1.4" height="1.4" fill="#111"/>
<rect x="279.8" y="120.1" width="1.4" height="1.4" fill="#111"/>
<rect x="267.1" y="126.4" width="1.4" height="1.4" fill="#111"/>
<rect x="257.4" y="129.6" width="1.4" height="1.4" fill="#111"/>
<rect x="255.3" y="120.1" width="1.4" height="1.4" fill="#111"/>
<rect x="254.8" y="127.2" width="1.4" height="1.4" fill="#111"/>
<rect x="252.4" y="112.6" width="1.4" height="1.4" fill="#111"/>
<rect x="249.4" y="130.0" width="1.4" height="1.4" fill="#111"/>
<rect x="277.2" y="127.5" width="1.4" height="1.4" fill="#111"/>
<rect x="245.6" y="109.9" width="1.4" height="1.4" fill="#111"/>
<rect x="270.5" y="130.3" width="1.4" height="1.4" fill="#111"/>
<rect x="269.2" y="122.2" width="1.4" height="1.4" fill="#111"/>
<rect x="255.8" y="130.2" width="1.4" height="1.4" fill="#111"/>
<rect x="245.5" y="125.2" width="1.4" height="1.4" fill="#111"/>
<rect x="280.7" y="124.4" width="1.4" height="1.4" fill="#111"/>
<rect x="249.8" y="102.7" width="1.4" height="1.4" fill="#111"/>
<rect x="255.7" y="110.1" width="1.4" height="1.4" fill="#111"/>
<rect x="281.8" y="127.1" width="1.4" height="1.4" fill="#111"/>
<rect x="276.2" y="104.8" width="1.4" height="1.4" fill="#111"/>
<rect x="252.1" y="127.7" width="1.4" height="1.4" fill="#111"/>
<rect x="266.5" y="119.9" width="1.4" height="1.4" fill="#111"/>
<rect x="260.2" y="126.8" width="1.4" height="1.4" fill="#111"/>
<rect x="255.6" y="123.9" width="1.4" height="1.4" fill="#111"/>
<rect x="244.9" y="125.7" width="1.4" height="1.4" fill="#111"/>
<rect x="286.1" y="117.5" width="1.4" height="1.4" fill="#111"/>
<rect x="258.4" y="110.6" width="1.4" height="1.4" fill="#111"/>
<rect x="246.0" y="118.0" width="1.4" height="1.4" fill="#111"/>
<rect x="279.2" y="124.6" width="1.4" height="1.4" fill="#111"/>
<rect x="260.0" y="128.7" width="1.4" height="1.4" fill="#111"/>
<rect x="248.7" y="130.4" width="1.4" height="1.4" fill="#111"/>
<rect x="271.7" y="126.7" width="1.4" height="1.4" fill="#111"/>
<rect x="251.8" y="116.3" width="1.4" height="1.4" fill="#111"/>
<rect x="245.5" y="110.3" width="1.4" height="1.4" fill="#111"/>
<rect x="258.8" y="124.9" width="1.4" height="1.4" fill="#111"/>
<rect x="269.7" y="126.6" width="1.4" height="1.4" fill="#111"/>
<rect x="252.3" y="121.9" width="1.4" height="1.4" fill="#111"/>
<rect x="252.4" y="119.9" width="1.4" height="1.4" fill="#111"/>
<rect x="280.3" y="125.3" width="1.4" height="1.4" fill="#111"/>
<rect x="277.5" y="121.5" width="1.4" height="1.4" fill="#111"/>
<rect x="269.4" y="118.9" width="1.4" height="1.4" fill="#111"/>
<rect x="262.8" y="129.2" width="1.4" height="1.4" fill="#111"/>
<rect x="268.8" y="127.0" width="1.4" height="1.4" fill="#111"/>
<rect x="253.6" y="130.6" width="1.4" height="1.4" fill="#111"/>
<rect x="250.2" y="125.3" width="1.4" height="1.4" fill="#111"/>
<rect x="269.9" y="119.3" width="1.4" height="1.4" fill="#111"/>
<rect x="273.9" y="128.9" width="1.4" height="1.4" fill="#111"/>
<rect x="280.7" y="127.6" width="1.4" height="1.4" fill="#111"/>
<rect x="268.4" y="119.0" width="1.4" height="1.4" fill="#111"/>
<rect x="275.3" y="127.6" width="1.4" height="1.4" fill="#111"/>
<rect x="268.9" y="127.1" width="1.4" height="1.4" fill="#111"/>
<rect x="252.6" y="94.4" width="1.4" height="1.4" fill="#111"/>
<rect x="249.4" y="122.9" width="1.4" height="1.4" fill="#111"/>
<rect x="261.9" y="130.0" width="1.4" height="1.4" fill="#111"/>
<rect x="286.6" y="122.1" width="1.4" height="1.4" fill="#111"/>
<rect x="284.8" y="112.5" width="1.4" height="1.4" fill="#111"/>
<rect x="254.4" y="125.6" width="1.4" height="1.4" fill="#111"/>
<rect x="250.0" y="117.2" width="1.4" height="1.4" fill="#111"/>
<rect x="253.4" y="101.2" width="1.4" height="1.4" fill="#111"/>
<rect x="276.9" y="123.3" width="1.4" height="1.4" fill="#111"/>
<rect x="266.1" y="129.6" width="1.4" height="1.4" fill="#111"/>
<rect x="266.7" y="126.7" width="1.4" height="1.4" fill="#111"/>
<rect x="282.1" y="117.7" width="1.4" height="1.4" fill="#111"/>
<rect x="251.3" y="129.5" width="1.4" height="1.4" fill="#111"/>
<rect x="247.6" y="120.3" width="1.4" height="1.4" fill="#111"/>
<rect x="255.0" y="130.8" width="1.4" height="1.4" fill="#111"/>
<rect x="286.6" y="122.3" width="1.4" height="1.4" fill="#111"/>
<rect x="253.0" y="118.3" width="1.4" height="1.4" fill="#111"/>
<rect x="268.2" y="127.4" width="1.4" height="1.4" fill="#111"/>
<rect x="285.0" y="121.9" width="1.4" height="1.4" fill="#111"/>
<rect x="277.8" y="124.2" width="1.4" height="1.4" fill="#111"/>
<rect x="269.3" y="125.8" width="1.4" height="1.4" fill="#111"/>
<rect x="265.5" y="126.1" width="1.4" height="1.4" fill="#111"/>
<rect x="250.8" y="126.6" width="1.4" height="1.4" fill="#111"/>
<rect x="281.4" y="124.4" width="1.4" height="1.4" fill="#111"/>
<rect x="249.6" y="126.7" width="1.4" height="1.4" fill="#111"/>
<rect x="282.3" y="125.5" width="1.4" height="1.4" fill="#111"/>
<rect x="245.2" y="123.5" width="1.4" height="1.4" fill="#111"/>
<rect x="278.2" y="128.8" width="1.4" height="1.4" fill="#111"/>
<rect x="271.4" y="104.7" width="1.4" height="1.4" fill="#111"/>
<rect x="287.3" y="121.0" width="1.4" height="1.4" fill="#111"/>
<rect x="260.7" y="126.1" width="1.4" height="1.4" fill="#111"/>
<rect x="278.0" y="130.1" width="1.4" height="1.4" fill="#111"/>
<rect x="247.4" y="128.8" width="1.4" height="1.4" fill="#111"/>
<rect x="254.8" y="117.4" width="1.4" height="1.4" fill="#111"/>
<rect x="244.7" y="126.4" width="1.4" height="1.4" fill="#111"/>
<rect x="247.3" y="108.4" width="1.4" height="1.4" fill="#111"/>
<rect x="277.3" y="127.9" width="1.4" height="1.4" fill="#111"/>
<rect x="269.4" y="122.2" width="1.4" height="1.4" fill="#111"/>
<rect x="273.9" y="100.9" width="1.4" height="1.4" fill="#111"/>
<rect x="253.1" y="128.6" width="1.4" height="1.4" fill="#111"/>
<rect x="258.4" y="130.8" width="1.4" height="1.4" fill="#111"/>
<rect x="261.1" y="124.3" width="1.4" height="1.4" fill="#111"/>
<rect x="271.8" y="120.1" width="1.4" height="1.4" fill="#111"/>
<rect x="281.2" y="123.7" width="1.4" height="1.4" fill="#111"/>
<rect x="277.0" y="121.1" width="1.4" height="1.4" fill="#111"/>
<rect x="265.9" y="129.8" width="1.4" height="1.4" fill="#111"/>
<rect x="267.0" y="113.7" width="1.4" height="1.4" fill="#111"/>
<rect x="283.7" y="121.9" width="1.4" height="1.4" fill="#111"/>
<rect x="266.6" y="126.3" width="1.4" height="1.4" fill="#111"/>
<rect x="275.3" y="119.0" width="1.4" height="1.4" fill="#111"/>
<rect x="245.7" y="126.5" width="1.4" height="1.4" fill="#111"/>
<rect x="246.5" y="128.6" width="1.4" height="1.4" fill="#111"/>
<rect x="267.3" y="128.9" width="1.4" height="1.4" fill="#111"/>
<rect x="273.2" y="126.1" width="1.4" height="1.4" fill="#111"/>
<rect x="274.7" y="127.8" width="1.4" height="1.4" fill="#111"/>
<rect x="254.5" y="128.4" width="1.4" height="1.4" fill="#111"/>
<rect x="257.7" y="109.4" width="1.4" height="1.4" fill="#111"/>
<rect x="270.0" y="127.9" width="1.4" height="1.4" fill="#111"/>
<rect x="245.4" y="127.2" width="1.4" height="1.4" fill="#111"/>
<rect x="242.5" y="113.6" width="1.4" height="1.4" fill="#111"/>
<rect x="271.2" y="128.9" width="1.4" height="1.4" fill="#111"/>
<rect x="257.9" y="128.1" width="1.4" height="1.4" fill="#111"/>
<rect x="251.4" y="120.0" width="1.4" height="1.4" fill="#111"/>
<rect x="260.9" y="128.0" width="1.4" height="1.4" fill="#111"/>
<rect x="261.3" y="125.3" width="1.4" height="1.4" fill="#111"/>
<rect x="278.0" y="128.0" width="1.4" height="1.4" fill="#111"/>
<rect x="243.9" y="112.3" width="1.4" height="1.4" fill="#111"/>
<rect x="280.9" y="128.3" width="1.4" height="1.4" fill="#111"/>
<rect x="253.1" y="110.2" width="1.4" height="1.4" fill="#111"/>
<rect x="277.8" y="127.9" width="1.4" height="1.4" fill="#111"/>
<rect x="249.2" y="110.3" width="1.4" height="1.4" fill="#111"/>
<rect x="259.8" y="130.5" width="1.4" height="1.4" fill="#111"/>
<rect x="252.7" y="126.4" width="1.4" height="1.4" fill="#111"/>
<rect x="245.3" y="124.8" width="1.4" height="1.4" fill="#111"/>
<rect x="280.2" y="119.7" width="1.4" height="1.4" fill="#111"/>
<rect x="274.3" y="92.0" width="1.4" height="1.4" fill="#111"/>
<rect x="243.9" y="124.3" width="1.4" height="1.4" fill="#111"/>
<rect x="271.2" y="122.1" width="1.4" height="1.4" fill="#111"/>
<rect x="284.3" y="124.4" width="1.4" height="1.4" fill="#111"/>
<rect x="275.3" y="92.0" width="1.4" height="1.4" fill="#111"/>
<rect x="258.6" y="130.1" width="1.4" height="1.4" fill="#111"/>
<rect x="269.9" y="123.0" width="1.4" height="1.4" fill="#111"/>
<rect x="261.2" y="128.1" width="1.4" height="1.4" fill="#111"/>
<rect x="257.7" y="117.8" width="1.4" height="1.4" fill="#111"/>
<rect x="259.6" y="121.6" width="1.4" height="1.4" fill="#111"/>
<rect x="284.6" y="120.8" width="1.4" height="1.4" fill="#111"/>
<rect x="271.0" y="118.3" width="1.4" height="1.4" fill="#111"/>
<rect x="256.2" y="126.3" width="1.4" height="1.4" fill="#111"/>
<rect x="280.4" y="125.3" width="1.4" height="1.4" fill="#111"/>
<rect x="267.2" y="130.0" width="1.4" height="1.4" fill="#111"/>
<rect x="270.4" y="116.0" width="1.4" height="1.4" fill="#111"/>
<rect x="255.0" y="126.3" width="1.4" height="1.4" fill="#111"/>
<rect x="251.9" y="106.1" width="1.4" height="1.4" fill="#111"/>
<rect x="254.3" y="126.8" width="1.4" height="1.4" fill="#111"/>
<rect x="261.6" y="126.1" width="1.4" height="1.4" fill="#111"/>
<rect x="282.4" y="111.6" width="1.4" height="1.4" fill="#111"/>
<rect x="274.9" y="126.2" width="1.4" height="1.4" fill="#111"/>
<rect x="273.1" y="129.0" width="1.4" height="1.4" fill="#111"/>
<rect x="256.4" y="128.7" width="1.4" height="1.4" fill="#111"/>
<rect x="271.9" y="121.0" width="1.4" height="1.4" fill="#111"/>
<rect x="251.0" y="121.3" width="1.4" height="1.4" fill="#111"/>
<rect x="255.3" y="124.7" width="1.4" height="1.4" fill="#111"/>
<rect x="272.6" y="110.7" width="1.4" height="1.4" fill="#111"/>
<rect x="278.8" y="122.9" width="1.4" height="1.4" fill="#111"/>
<rect x="247.3" y="128.1" width="1.4" height="1.4" fill="#111"/>
<rect x="256.8" y="119.9" width="1.4" height="1.4" fill="#111"/>
<rect x="258.5" y="125.1" width="1.4" height="1.4" fill="#111"/>
<rect x="257.4" y="100.8" width="1.4" height="1.4" fill="#111"/>
<rect x="254.3" y="118.0" width="1.4" height="1.4" fill="#111"/>
<rect x="241.1" y="116.5" width="1.4" height="1.4" fill="#111"/>
<rect x="253.9" y="119.1" width="1.4" height="1.4" fill="#111"/>
<rect x="284.5" y="122.2" width="1.4" height="1.4" fill="#111"/>
<rect x="271.1" y="129.5" width="1.4" height="1.4" fill="#111"/>
<rect x="265.6" y="129.2" width="1.4" height="1.4" fill="#111"/>
<rect x="275.7" y="106.3" width="1.4" height="1.4" fill="#111"/>
<rect x="240.6" y="119.3" width="1.4" height="1.4" fill="#111"/>
<rect x="274.6" y="118.8" width="1.4" height="1.4" fill="#111"/>
<rect x="273.6" y="106.0" width="1.4" height="1.4" fill="#111"/>
<rect x="247.8" y="129.3" width="1.4" height="1.4" fill="#111"/>
<rect x="269.5" y="104.7" width="1.4" height="1.4" fill="#111"/>
<rect x="253.4" y="119.9" width="1.4" height="1.4" fill="#111"/>
<rect x="250.5" y="128.3" width="1.4" height="1.4" fill="#111"/>
<rect x="274.4" y="118.5" width="1.4" height="1.4" fill="#111"/>
<rect x="254.7" y="126.0" width="1.4" height="1.4" fill="#111"/>
<rect x="243.8" y="124.8" width="1.4" height="1.4" fill="#111"/>
<rect x="275.2" y="129.4" width="1.4" height="1.4" fill="#111"/>
<rect x="281.3" y="126.8" width="1.4" height="1.4" fill="#111"/>
<rect x="274.0" y="130.1" width="1.4" height="1.4" fill="#111"/>
<rect x="252.5" y="124.8" width="1.4" height="1.4" fill="#111"/>
<rect x="284.7" y="121.3" width="1.4" height="1.4" fill="#111"/>
<rect x="253.8" y="115.6" width="1.4" height="1.4" fill="#111"/>
<rect x="250.1" y="115.3" width="1.4" height="1.4" fill="#111"/>
<rect x="252.9" y="109.5" width="1.4" height="1.4" fill="#111"/>
<rect x="271.7" y="92.0" width="1.4" height="1.4" fill="#111"/>
<rect x="270.4" y="123.3" width="1.4" height="1.4" fill="#111"/>
<rect x="274.6" y="98.6" width="1.4" height="1.4" fill="#111"/>
<rect x="249.3" y="119.8" width="1.4" height="1.4" fill="#111"/>
<rect x="254.5" y="120.2" width="1.4" height="1.4" fill="#111"/>
<rect x="280.4" y="126.1" width="1.4" height="1.4" fill="#111"/>
<rect x="258.4" y="129.0" width="1.4" height="1.4" fill="#111"/>
<rect x="243.8" y="111.0" width="1.4" height="1.4" fill="#111"/>
<rect x="248.2" y="128.2" width="1.4" height="1.4" fill="#111"/>
<rect x="269.3" y="128.1" width="1.4" height="1.4" fill="#111"/>
<rect x="260.3" y="129.5" width="1.4" height="1.4" fill="#111"/>
<rect x="261.3" y="129.6" width="1.4" height="1.4" fill="#111"/>
<rect x="281.4" y="127.4" width="1.4" height="1.4" fill="#111"/>
<rect x="270.9" y="120.2" width="1.4" height="1.4" fill="#111"/>
<rect x="280.9" y="126.9" width="1.4" height="1.4" fill="#111"/>
<rect x="246.2" y="119.6" width="1.4" height="1.4" fill="#111"/>
<rect x="272.6" y="117.5" width="1.4" height="1.4" fill="#111"/>
<rect x="245.2" y="126.4" width="1.4" height="1.4" fill="#111"/>
<rect x="258.2" y="127.6" width="1.4" height="1.4" fill="#111"/>
<rect x="257.5" y="111.3" width="1.4" height="1.4" fill="#111"/>
<rect x="258.8" y="130.6" width="1.4" height="1.4" fill="#111"/>
<rect x="277.3" y="125.1" width="1.4" height="1.4" fill="#111"/>
<rect x="256.0" y="126.5" width="1.4" height="1.4" fill="#111"/>
<rect x="251.3" y="101.9" width="1.4" height="1.4" fill="#111"/>
<rect x="250.3" y="128.6" width="1.4" height="1.4" fill="#111"/>
<rect x="246.1" y="117.6" width="1.4" height="1.4" fill="#111"/>
<rect x="257.2" y="114.3" width="1.4" height="1.4" fill="#111"/>
<rect x="244.6" y="117.7" width="1.4" height="1.4" fill="#111"/>
<rect x="249.6" y="126.2" width="1.4" height="1.4" fill="#111"/>
<rect x="243.5" y="125.2" width="1.4" height="1.4" fill="#111"/>
<rect x="249.3" y="103.5" width="1.4" height="1.4" fill="#111"/>
<rect x="267.5" y="128.1" width="1.4" height="1.4" fill="#111"/>
<rect x="248.0" y="129.0" width="1.4" height="1.4" fill="#111"/>
<rect x="275.2" y="113.2" width="1.4" height="1.4" fill="#111"/>
<rect x="256.9" y="101.1" width="1.4" height="1.4" fill="#111"/>
<rect x="250.6" y="112.3" width="1.4" height="1.4" fill="#111"/>
<rect x="274.2" y="92.0" width="1.4" height="1.4" fill="#111"/>
<rect x="276.7" y="117.5" width="1.4" height="1.4" fill="#111"/>
<rect x="246.4" y="127.1" width="1.4" height="1.4" fill="#111"/>
<rect x="274.0" y="130.5" width="1.4" height="1.4" fill="#111"/>
<rect x="275.3" y="121.4" width="1.4" height="1.4" fill="#111"/>
<rect x="249.7" y="121.3" width="1.4" height="1.4" fill="#111"/>
<rect x="247.2" y="108.5" width="1.4" height="1.4" fill="#111"/>
<rect x="281.0" y="118.5" width="1.4" height="1.4" fill="#111"/>
<rect x="257.8" y="124.4" width="1.4" height="1.4" fill="#111"/>
<rect x="256.2" y="102.3" width="1.4" height="1.4" fill="#111"/>
<rect x="273.6" y="113.7" width="1.4" height="1.4" fill="#111"/>
<rect x="253.0" y="128.9" width="1.4" height="1.4" fill="#111"/>
<rect x="275.4" y="126.6" width="1.4" height="1.4" fill="#111"/>
<rect x="245.7" y="120.6" width="1.4" height="1.4" fill="#111"/>
<rect x="276.7" y="122.9" width="1.4" height="1.4" fill="#111"/>
<rect x="256.6" y="127.8" width="1.4" height="1.4" fill="#111"/>
<rect x="248.3" y="130.1" width="1.4" height="1.4" fill="#111"/>
<rect x="279.3" y="122.9" width="1.4" height="1.4" fill="#111"/>
<rect x="273.9" y="121.2" width="1.4" height="1.4" fill="#111"/>
<rect x="250.1" y="97.2" width="1.4" height="1.4" fill="#111"/>
<rect x="248.9" y="114.6" width="1.4" height="1.4" fill="#111"/>
<rect x="256.4" y="119.5" width="1.4" height="1.4" fill="#111"/>
<rect x="276.9" y="123.0" width="1.4" height="1.4" fill="#111"/>
<rect x="246.1" y="108.6" width="1.4" height="1.4" fill="#111"/>
<rect x="277.4" y="127.5" width="1.4" height="1.4" fill="#111"/>
<rect x="256.0" y="123.3" width="1.4" height="1.4" fill="#111"/>
<rect x="261.8" y="127.5" width="1.4" height="1.4" fill="#111"/>
<rect x="260.5" y="128.2" width="1.4" height="1.4" fill="#111"/>
<rect x="262.8" y="129.5" width="1.4" height="1.4" fill="#111"/>
<rect x="278.7" y="130.3" width="1.4" height="1.4" fill="#111"/>
<rect x="257.0" y="129.6" width="1.4" height="1.4" fill="#111"/>
<rect x="255.5" y="130.3" width="1.4" height="1.4" fill="#111"/>
<rect x="250.9" y="127.4" width="1.4" height="1.4" fill="#111"/>
<rect x="270.7" y="128.9" width="1.4" height="1.4" fill="#111"/>
<rect x="266.5" y="127.2" width="1.4" height="1.4" fill="#111"/>
<rect x="254.9" y="111.7" width="1.4" height="1.4" fill="#111"/>
<rect x="274.8" y="104.4" width="1.4" height="1.4" fill="#111"/>
<rect x="256.8" y="124.6" width="1.4" height="1.4" fill="#111"/>
<rect x="241.6" y="121.7" width="1.4" height="1.4" fill="#111"/>
<rect x="281.5" y="124.0" width="1.4" height="1.4" fill="#111"/>
<rect x="252.5" y="128.8" width="1.4" height="1.4" fill="#111"/>
<rect x="257.2" y="128.5" width="1.4" height="1.4" fill="#111"/>
<rect x="258.5" y="130.5" width="1.4" height="1.4" fill="#111"/>
<rect x="271.9" y="124.0" width="1.4" height="1.4" fill="#111"/>
<rect x="251.7" y="119.4" width="1.4" height="1.4" fill="#111"/>
<rect x="257.1" y="122.5" width="1.4" height="1.4" fill="#111"/>
<rect x="278.3" y="125.5" width="1.4" height="1.4" fill="#111"/>
<rect x="258.3" y="121.1" width="1.4" height="1.4" fill="#111"/>
<rect x="261.9" y="124.3" width="1.4" height="1.4" fill="#111"/>
<rect x="248.1" y="124.9" width="1.4" height="1.4" fill="#111"/>
<rect x="281.4" y="113.1" width="1.4" height="1.4" fill="#111"/>
<rect x="266.6" y="128.7" width="1.4" height="1.4" fill="#111"/>
<rect x="257.6" y="115.8" width="1.4" height="1.4" fill="#111"/>
<rect x="248.6" y="129.4" width="1.4" height="1.4" fill="#111"/>
<rect x="253.5" y="128.2" width="1.4" height="1.4" fill="#111"/>
<rect x="273.0" y="130.4" width="1.4" height="1.4" fill="#111"/>
<rect x="275.3" y="123.1" width="1.4" height="1.4" fill="#111"/>
<rect x="283.2" y="114.3" width="1.4" height="1.4" fill="#111"/>
<rect x="256.7" y="130.4" width="1.4" height="1.4" fill="#111"/>
<rect x="252.6" y="121.2" width="1.4" height="1.4" fill="#111"/>
<rect x="280.2" y="113.7" width="1.4" height="1.4" fill="#111"/>
<rect x="277.8" y="126.9" width="1.4" height="1.4" fill="#111"/>
<rect x="279.6" y="128.4" width="1.4" height="1.4" fill="#111"/>
<rect x="258.8" y="123.6" width="1.4" height="1.4" fill="#111"/>
<rect x="279.6" y="124.7" width="1.4" height="1.4" fill="#111"/>
<rect x="276.6" y="123.8" width="1.4" height="1.4" fill="#111"/>
<rect x="249.7" y="128.2" width="1.4" height="1.4" fill="#111"/>
<rect x="264.7" y="130.5" width="1.4" height="1.4" fill="#111"/>
<rect x="257.0" y="130.0" width="1.4" height="1.4" fill="#111"/>
<rect x="250.2" y="128.2" width="1.4" height="1.4" fill="#111"/>
<rect x="269.9" y="106.5" width="1.4" height="1.4" fill="#111"/>
<rect x="246.2" y="121.7" width="1.4" height="1.4" fill="#111"/>
<rect x="257.4" y="128.8" width="1.4" height="1.4" fill="#111"/>
<rect x="274.1" y="98.2" width="1.4" height="1.4" fill="#111"/>
<rect x="274.1" y="113.7" width="1.4" height="1.4" fill="#111"/>
<rect x="247.6" y="113.7" width="1.4" height="1.4" fill="#111"/>
<rect x="251.4" y="128.8" width="1.4" height="1.4" fill="#111"/>
<rect x="259.2" y="127.9" width="1.4" height="1.4" fill="#111"/>
<rect x="286.0" y="120.9" width="1.4" height="1.4" fill="#111"/>
<rect x="282.9" y="124.5" width="1.4" height="1.4" fill="#111"/>
<rect x="241.6" y="122.3" width="1.4" height="1.4" fill="#111"/>
<rect x="261.6" y="129.2" width="1.4" height="1.4" fill="#111"/>
<rect x="253.5" y="118.2" width="1.4" height="1.4" fill="#111"/>
<rect x="267.2" y="113.6" width="1.4" height="1.4" fill="#111"/>
<rect x="259.0" y="127.9" width="1.4" height="1.4" fill="#111"/>
<rect x="257.8" y="128.0" width="1.4" height="1.4" fill="#111"/>
<rect x="242.4" y="123.6" width="1.4" height="1.4" fill="#111"/>
<rect x="248.7" y="129.4" width="1.4" height="1.4" fill="#111"/>
<rect x="256.8" y="123.4" width="1.4" height="1.4" fill="#111"/>
<rect x="274.3" y="104.9" width="1.4" height="1.4" fill="#111"/>
<rect x="250.3" y="126.4" width="1.4" height="1.4" fill="#111"/>
<rect x="271.1" y="127.7" width="1.4" height="1.4" fill="#111"/>
<rect x="247.5" y="125.9" width="1.4" height="1.4" fill="#111"/>
<rect x="259.7" y="124.8" width="1.4" height="1.4" fill="#111"/>
<rect x="271.6" y="125.7" width="1.4" height="1.4" fill="#111"/>
<rect x="265.8" y="127.4" width="1.4" height="1.4" fill="#111"/>
<rect x="267.0" y="118.0" width="1.4" height="1.4" fill="#111"/>
<rect x="252.5" y="110.1" width="1.4" height="1.4" fill="#111"/>
<rect x="259.2" y="129.5" width="1.4" height="1.4" fill="#111"/>
<rect x="276.2" y="107.3" width="1.4" height="1.4" fill="#111"/>
<rect x="266.0" y="125.8" width="1.4" height="1.4" fill="#111"/>
<rect x="261.8" y="126.5" width="1.4" height="1.4" fill="#111"/>
<rect x="247.4" y="107.8" width="1.4" height="1.4" fill="#111"/>
<rect x="247.8" y="130.0" width="1.4" height="1.4" fill="#111"/>
<rect x="259.5" y="127.4" width="1.4" height="1.4" fill="#111"/>
<rect x="256.9" y="130.5" width="1.4" height="1.4" fill="#111"/>
<rect x="271.7" y="130.1" width="1.4" height="1.4" fill="#111"/>
<rect x="242.9" y="116.0" width="1.4" height="1.4" fill="#111"/>
<rect x="267.6" y="123.5" width="1.4" height="1.4" fill="#111"/>
<rect x="276.6" y="130.1" width="1.4" height="1.4" fill="#111"/>
<rect x="255.8" y="109.6" width="1.4" height="1.4" fill="#111"/>
<rect x="269.3" y="124.3" width="1.4" height="1.4" fill="#111"/>
<rect x="260.0" y="125.4" width="1.4" height="1.4" fill="#111"/>
<rect x="279.3" y="123.6" width="1.4" height="1.4" fill="#111"/>
<rect x="258.4" y="121.7" width="1.4" height="1.4" fill="#111"/>
<rect x="278.2" y="128.2" width="1.4" height="1.4" fill="#111"/>
<rect x="261.8" y="127.5" width="1.4" height="1.4" fill="#111"/>
<rect x="258.2" y="123.4" width="1.4" height="1.4" fill="#111"/>
<rect x="255.5" y="109.5" width="1.4" height="1.4" fill="#111"/>
<rect x="247.2" y="125.9" width="1.4" height="1.4" fill="#111"/>
<rect x="274.9" y="108.6" width="1.4" height="1.4" fill="#111"/>
<rect x="261.3" y="124.2" width="1.4" height="1.4" fill="#111"/>
<rect x="283.9" y="113.4" width="1.4" height="1.4" fill="#111"/>
<rect x="282.8" y="120.9" width="1.4" height="1.4" fill="#111"/>
<rect x="259.3" y="122.9" width="1.4" height="1.4" fill="#111"/>
<rect x="268.2" y="124.0" width="1.4" height="1.4" fill="#111"/>
<rect x="269.4" y="121.6" width="1.4" height="1.4" fill="#111"/>
<rect x="278.3" y="121.4" width="1.4" height="1.4" fill="#111"/>
<rect x="269.1" y="127.2" width="1.4" height="1.4" fill="#111"/>
<rect x="276.2" y="128.6" width="1.4" height="1.4" fill="#111"/>
<rect x="261.3" y="128.7" width="1.4" height="1.4" fill="#111"/>
<rect x="243.4" y="122.6" width="1.4" height="1.4" fill="#111"/>
<rect x="276.5" y="112.8" width="1.4" height="1.4" fill="#111"/>
<rect x="270.8" y="127.0" width="1.4" height="1.4" fill="#111"/>
<rect x="275.2" y="128.0" width="1.4" height="1.4" fill="#111"/>
<rect x="272.9" y="130.3" width="1.4" height="1.4" fill="#111"/>
<rect x="273.2" y="109.9" width="1.4" height="1.4" fill="#111"/>
<rect x="278.8" y="130.4" width="1.4" height="1.4" fill="#111"/>
<rect x="274.6" y="115.0" width="1.4" height="1.4" fill="#111"/>
<rect x="270.3" y="114.2" width="1.4" height="1.4" fill="#111"/>
<rect x="243.3" y="117.5" width="1.4" height="1.4" fill="#111"/>
<rect x="252.7" y="123.3" width="1.4" height="1.4" fill="#111"/>
<rect x="255.8" y="113.2" width="1.4" height="1.4" fill="#111"/>
<rect x="267.2" y="125.7" width="1.4" height="1.4" fill="#111"/>
<rect x="265.8" y="129.3" width="1.4" height="1.4" fill="#111"/>
<rect x="262.2" y="126.7" width="1.4" height="1.4" fill="#111"/>
<rect x="256.1" y="103.8" width="1.4" height="1.4" fill="#111"/>
<rect x="264.8" y="128.5" width="1.4" height="1.4" fill="#111"/>
<rect x="247.9" y="129.6" width="1.4" height="1.4" fill="#111"/>
<rect x="262.2" y="128.1" width="1.4" height="1.4" fill="#111"/>
<rect x="267.5" y="127.2" width="1.4" height="1.4" fill="#111"/>
<rect x="255.0" y="119.0" width="1.4" height="1.4" fill="#111"/>
<rect x="273.5" y="128.8" width="1.4" height="1.4" fill="#111"/>
<rect x="247.6" y="106.4" width="1.4" height="1.4" fill="#111"/>
<rect x="272.2" y="124.7" width="1.4" height="1.4" fill="#111"/>
<rect x="279.9" y="122.6" width="1.4" height="1.4" fill="#111"/>
<rect x="249.6" y="125.9" width="1.4" height="1.4" fill="#111"/>
<rect x="259.0" y="126.8" width="1.4" height="1.4" fill="#111"/>
<rect x="255.4" y="111.8" width="1.4" height="1.4" fill="#111"/>
<rect x="279.2" y="130.3" width="1.4" height="1.4" fill="#111"/>
<rect x="259.3" y="117.8" width="1.4" height="1.4" fill="#111"/>
<rect x="271.5" y="114.9" width="1.4" height="1.4" fill="#111"/>
<rect x="248.9" y="126.2" width="1.4" height="1.4" fill="#111"/>
<rect x="268.9" y="130.2" width="1.4" height="1.4" fill="#111"/>
<rect x="265.9" y="127.6" width="1.4" height="1.4" fill="#111"/>
<rect x="274.5" y="114.5" width="1.4" height="1.4" fill="#111"/>
<rect x="283.8" y="117.6" width="1.4" height="1.4" fill="#111"/>
<rect x="242.1" y="118.3" width="1.4" height="1.4" fill="#111"/>
<rect x="272.5" y="123.8" width="1.4" height="1.4" fill="#111"/>
<rect x="274.4" y="92.0" width="1.4" height="1.4" fill="#111"/>
<rect x="246.8" y="109.5" width="1.4" height="1.4" fill="#111"/>
<rect x="253.9" y="129.5" width="1.4" height="1.4" fill="#111"/>
<rect x="253.2" y="126.9" width="1.4" height="1.4" fill="#111"/>
<rect x="244.9" y="121.0" width="1.4" height="1.4" fill="#111"/>
<rect x="282.3" y="127.3" width="1.4" height="1.4" fill="#111"/>
<rect x="249.5" y="126.7" width="1.4" height="1.4" fill="#111"/>
<rect x="281.2" y="124.1" width="1.4" height="1.4" fill="#111"/>
<rect x="275.5" y="127.2" width="1.4" height="1.4" fill="#111"/>
<rect x="265.8" y="130.6" width="1.4" height="1.4" fill="#111"/>
<rect x="273.3" y="122.8" width="1.4" height="1.4" fill="#111"/>
<rect x="267.2" y="125.2" width="1.4" height="1.4" fill="#111"/>
<rect x="248.5" y="117.2" width="1.4" height="1.4" fill="#111"/>
<rect x="248.1" y="130.7" width="1.4" height="1.4" fill="#111"/>
<rect x="249.5" y="127.7" width="1.4" height="1.4" fill="#111"/>
<rect x="273.2" y="119.7" width="1.4" height="1.4" fill="#111"/>
<rect x="277.6" y="120.3" width="1.4" height="1.4" fill="#111"/>
<rect x="275.8" y="123.1" width="1.4" height="1.4" fill="#111"/>
<rect x="259.1" y="116.5" width="1.4" height="1.4" fill="#111"/>
<rect x="260.9" y="121.3" width="1.4" height="1.4" fill="#111"/>
<rect x="271.9" y="128.8" width="1.4" height="1.4" fill="#111"/>
<rect x="251.0" y="124.5" width="1.4" height="1.4" fill="#111"/>
<rect x="242.5" y="123.3" width="1.4" height="1.4" fill="#111"/>
<rect x="260.3" y="128.5" width="1.4" height="1.4" fill="#111"/>
<rect x="248.8" y="130.7" width="1.4" height="1.4" fill="#111"/>
<rect x="277.5" y="130.4" width="1.4" height="1.4" fill="#111"/>
<rect x="279.8" y="128.6" width="1.4" height="1.4" fill="#111"/>
<rect x="248.3" y="121.1" width="1.4" height="1.4" fill="#111"/>
<rect x="266.7" y="128.2" width="1.4" height="1.4" fill="#111"/>
<rect x="275.1" y="127.5" width="1.4" height="1.4" fill="#111"/>
<rect x="275.5" y="130.5" width="1.4" height="1.4" fill="#111"/>
<rect x="275.3" y="125.9" width="1.4" height="1.4" fill="#111"/>
<rect x="256.7" y="110.6" width="1.4" height="1.4" fill="#111"/>
<rect x="254.3" y="124.1" width="1.4" height="1.4" fill="#111"/>
<rect x="280.6" y="128.6" width="1.4" height="1.4" fill="#111"/>
<rect x="241.9" y="118.5" width="1.4" height="1.4" fill="#111"/>
<rect x="245.4" y="128.3" width="1.4" height="1.4" fill="#111"/>
<rect x="248.3" y="106.1" width="1.4" height="1.4" fill="#111"/>
<rect x="237.4" y="116.7" width="1.4" height="1.4" fill="#111"/>
<rect x="233.8" y="107.3" width="1.4" height="1.4" fill="#111"/>
<rect x="249.1" y="112.7" width="1.4" height="1.4" fill="#111"/>
<rect x="249.2" y="116.2" width="1.4" height="1.4" fill="#111"/>
<rect x="247.4" y="105.9" width="1.4" height="1.4" fill="#111"/>
<rect x="248.3" y="116.5" width="1.4" height="1.4" fill="#111"/>
<rect x="241.5" y="128.4" width="1.4" height="1.4" fill="#111"/>
<rect x="248.8" y="126.9" width="1.4" height="1.4" fill="#111"/>
<rect x="242.7" y="112.6" width="1.4" height="1.4" fill="#111"/>
<rect x="236.0" y="119.6" width="1.4" height="1.4" fill="#111"/>
<rect x="238.1" y="129.1" width="1.4" height="1.4" fill="#111"/>
<rect x="239.7" y="118.7" width="1.4" height="1.4" fill="#111"/>
<rect x="244.9" y="109.9" width="1.4" height="1.4" fill="#111"/>
<rect x="248.7" y="105.1" width="1.4" height="1.4" fill="#111"/>
<rect x="237.3" y="112.3" width="1.4" height="1.4" fill="#111"/>
<rect x="244.5" y="107.4" width="1.4" height="1.4" fill="#111"/>
<rect x="235.4" y="120.1" width="1.4" height="1.4" fill="#111"/>
<rect x="243.2" y="120.6" width="1.4" height="1.4" fill="#111"/>
<rect x="248.2" y="117.8" width="1.4" height="1.4" fill="#111"/>
<rect x="244.8" y="127.4" width="1.4" height="1.4" fill="#111"/>
<rect x="247.9" y="102.3" width="1.4" height="1.4" fill="#111"/>
<rect x="249.0" y="119.8" width="1.4" height="1.4" fill="#111"/>
<rect x="246.8" y="102.0" width="1.4" height="1.4" fill="#111"/>
<rect x="234.9" y="127.3" width="1.4" height="1.4" fill="#111"/>
<rect x="244.1" y="101.8" width="1.4" height="1.4" fill="#111"/>
<rect x="233.6" y="106.0" width="1.4" height="1.4" fill="#111"/>
<rect x="244.0" y="116.1" width="1.4" height="1.4" fill="#111"/>
<rect x="235.5" y="115.2" width="1.4" height="1.4" fill="#111"/>
<rect x="241.3" y="123.7" width="1.4" height="1.4" fill="#111"/>
<rect x="247.9" y="108.7" width="1.4" height="1.4" fill="#111"/>
<rect x="235.9" y="112.0" width="1.4" height="1.4" fill="#111"/>
<rect x="243.0" y="103.2" width="1.4" height="1.4" fill="#111"/>
<rect x="249.3" y="104.6" width="1.4" height="1.4" fill="#111"/>
<rect x="234.0" y="117.6" width="1.4" height="1.4" fill="#111"/>
<rect x="235.7" y="108.4" width="1.4" height="1.4" fill="#111"/>
<rect x="234.5" y="106.3" width="1.4" height="1.4" fill="#111"/>
<rect x="243.3" y="111.5" width="1.4" height="1.4" fill="#111"/>
<rect x="248.7" y="105.1" width="1.4" height="1.4" fill="#111"/>
<rect x="245.2" y="111.9" width="1.4" height="1.4" fill="#111"/>
<rect x="242.1" y="114.9" width="1.4" height="1.4" fill="#111"/>
<rect x="233.6" y="123.9" width="1.4" height="1.4" fill="#111"/>
<rect x="244.5" y="117.8" width="1.4" height="1.4" fill="#111"/>
<rect x="240.5" y="105.8" width="1.4" height="1.4" fill="#111"/>
<rect x="239.5" y="109.1" width="1.4" height="1.4" fill="#111"/>
<rect x="246.3" y="106.2" width="1.4" height="1.4" fill="#111"/>
<rect x="237.0" y="112.4" width="1.4" height="1.4" fill="#111"/>
<rect x="240.8" y="113.0" width="1.4" height="1.4" fill="#111"/>
<rect x="234.6" y="124.1" width="1.4" height="1.4" fill="#111"/>
<rect x="237.2" y="107.5" width="1.4" height="1.4" fill="#111"/>
<rect x="246.0" y="118.7" width="1.4" height="1.4" fill="#111"/>
<rect x="243.1" y="117.1" width="1.4" height="1.4" fill="#111"/>
<rect x="242.0" y="121.9" width="1.4" height="1.4" fill="#111"/>
<rect x="238.8" y="102.7" width="1.4" height="1.4" fill="#111"/>
<rect x="247.7" y="126.0" width="1.4" height="1.4" fill="#111"/>
<rect x="235.1" y="105.3" width="1.4" height="1.4" fill="#111"/>
<rect x="240.4" y="111.5" width="1.4" height="1.4" fill="#111"/>
<rect x="243.0" y="112.5" width="1.4" height="1.4" fill="#111"/>
<rect x="248.0" y="125.1" width="1.4" height="1.4" fill="#111"/>
<rect x="247.3" y="122.1" width="1.4" height="1.4" fill="#111"/>
<rect x="234.4" y="121.1" width="1.4" height="1.4" fill="#111"/>
<rect x="241.6" y="107.0" width="1.4" height="1.4" fill="#111"/>
<rect x="242.7" y="102.3" width="1.4" height="1.4" fill="#111"/>
<rect x="236.2" y="118.8" width="1.4" height="1.4" fill="#111"/>
<rect x="242.6" y="112.9" width="1.4" height="1.4" fill="#111"/>
<rect x="244.6" y="115.2" width="1.4" height="1.4" fill="#111"/>
<rect x="234.8" y="107.6" width="1.4" height="1.4" fill="#111"/>
<rect x="246.2" y="127.4" width="1.4" height="1.4" fill="#111"/>
<rect x="289.3" y="129.2" width="1.4" height="1.4" fill="#111"/>
<rect x="288.1" y="119.3" width="1.4" height="1.4" fill="#111"/>
<rect x="284.2" y="127.9" width="1.4" height="1.4" fill="#111"/>
<rect x="283.9" y="119.3" width="1.4" height="1.4" fill="#111"/>
<rect x="286.6" y="116.2" width="1.4" height="1.4" fill="#111"/>
<rect x="283.0" y="119.3" width="1.4" height="1.4" fill="#111"/>
<rect x="284.3" y="128.6" width="1.4" height="1.4" fill="#111"/>
<rect x="283.2" y="127.5" width="1.4" height="1.4" fill="#111"/>
<rect x="282.9" y="128.7" width="1.4" height="1.4" fill="#111"/>
<rect x="290.9" y="123.5" width="1.4" height="1.4" fill="#111"/>
<rect x="288.8" y="122.5" width="1.4" height="1.4" fill="#111"/>
<rect x="286.4" y="125.3" width="1.4" height="1.4" fill="#111"/>
<rect x="290.6" y="125.9" width="1.4" height="1.4" fill="#111"/>
<rect x="290.8" y="116.8" width="1.4" height="1.4" fill="#111"/>
<rect x="231.2" y="120.2" width="1.6" height="1.6" fill="#111"/>
<rect x="233.2" y="126.2" width="1.6" height="1.6" fill="#111"/>
<rect x="229.2" y="127.2" width="1.6" height="1.6" fill="#111"/>
<rect x="232.2" y="107.7" width="1.6" height="1.6" fill="#111"/>
<rect x="236.9" y="117.7" width="1.6" height="1.6" fill="#111"/>
<rect x="278.8" y="63.9" width="1.6" height="1.6" fill="#111"/>
<rect x="276.0" y="81.2" width="1.6" height="1.6" fill="#111"/>
<rect x="249.6" y="77.5" width="1.6" height="1.6" fill="#111"/>
<rect x="253.2" y="80.2" width="1.6" height="1.6" fill="#111"/>
<rect x="240.2" y="83.8" width="1.6" height="1.6" fill="#111"/>
<rect x="246.6" y="90.7" width="1.6" height="1.6" fill="#111"/>
<rect x="253.1" y="86.4" width="1.6" height="1.6" fill="#111"/>
<rect x="255.2" y="87.2" width="1.6" height="1.6" fill="#111"/>
<rect x="282.6" y="89.2" width="1.6" height="1.6" fill="#111"/>
<rect x="292.7" y="90.7" width="1.6" height="1.6" fill="#111"/>
<rect x="274.7" y="86.4" width="1.6" height="1.6" fill="#111"/>
<rect x="218.2" y="123.4" width="1.6" height="1.6" fill="#111"/>
<rect x="213.2" y="123.4" width="1.6" height="1.6" fill="#111"/>
<rect x="209.5" y="123.4" width="1.6" height="1.6" fill="#111"/>
<rect x="221.2" y="123.7" width="1.6" height="1.6" fill="#111"/>
<rect x="232.2" y="123.2" width="1.6" height="1.6" fill="#111"/>
<rect x="273.2" y="97.9" width="1.6" height="1.6" fill="#3a5aa8"/>
<rect x="275.4" y="98.6" width="1.6" height="1.6" fill="#3a5aa8"/>
<rect x="270.4" y="105.8" width="1.6" height="1.6" fill="#3a5aa8"/>
<rect x="279.0" y="107.2" width="1.6" height="1.6" fill="#3a5aa8"/>
<rect x="287.7" y="103.0" width="1.6" height="1.6" fill="#3a5aa8"/>
<rect x="289.2" y="105.8" width="1.6" height="1.6" fill="#3a5aa8"/>
<rect x="279.0" y="110.9" width="1.6" height="1.6" fill="#3a5aa8"/>
<rect x="284.8" y="110.9" width="1.6" height="1.6" fill="#3a5aa8"/>
<rect x="292.0" y="110.2" width="1.6" height="1.6" fill="#3a5aa8"/>
<rect x="269.2" y="101.2" width="1.6" height="1.6" fill="#3a5aa8"/>
<rect x="272.2" y="109.2" width="1.6" height="1.6" fill="#3a5aa8"/>
<rect x="272.2" y="92.6" width="2.2" height="2.2" fill="#d8202c"/>
<rect x="271.5" y="94.0" width="2.2" height="2.2" fill="#d8202c"/>
<rect x="280.9" y="96.2" width="2.2" height="2.2" fill="#d8202c"/>
<rect x="284.5" y="97.9" width="2.2" height="2.2" fill="#d8202c"/>
<rect x="274.4" y="109.9" width="2.2" height="2.2" fill="#d8202c"/>
<rect x="288.9" y="111.3" width="2.2" height="2.2" fill="#d8202c"/>
<rect x="304.6" y="104.9" width="2.2" height="2.2" fill="#d8202c"/>
<rect x="303.9" y="110.2" width="2.2" height="2.2" fill="#d8202c"/>
<rect x="310.6" y="111.7" width="2.2" height="2.2" fill="#d8202c"/>
<rect x="278.7" y="98.3" width="2.2" height="2.2" fill="#d8202c"/>
<rect x="282.7" y="97.1" width="2.2" height="2.2" fill="#d8202c"/>
<rect x="294.7" y="121.8" width="2.2" height="2" fill="#6a1a20"/>
<text x="327.40" y="9.90" font-size="12.3" fill="#000" text-anchor="start" dominant-baseline="alphabetic" font-weight="bold" >C</text>
<rect x="360.60" y="79.20" width="8.91" height="8.97" fill="#f8d2d2" />
<rect x="369.21" y="79.20" width="8.91" height="8.97" fill="#e8282a" />
<rect x="377.83" y="79.20" width="8.91" height="8.97" fill="#e8282a" />
<rect x="386.44" y="79.20" width="8.91" height="8.97" fill="#8e9ad2" />
<rect x="395.05" y="79.20" width="8.91" height="8.97" fill="#e8282a" />
<rect x="403.67" y="79.20" width="8.91" height="8.97" fill="#f08080" />
<rect x="412.28" y="79.20" width="8.91" height="8.97" fill="#f4a0a0" />
<rect x="420.89" y="79.20" width="8.91" height="8.97" fill="#f08a8a" />
<rect x="429.50" y="79.20" width="8.91" height="8.97" fill="#e82828" />
<rect x="438.12" y="79.20" width="8.91" height="8.97" fill="#e82828" />
<rect x="446.73" y="79.20" width="8.91" height="8.97" fill="#ea3a3a" />
<rect x="455.34" y="79.20" width="8.91" height="8.97" fill="#e82828" />
<rect x="463.96" y="79.20" width="8.91" height="8.97" fill="#ea3636" />
<rect x="472.57" y="79.20" width="8.91" height="8.97" fill="#ec5050" />
<rect x="481.18" y="79.20" width="8.91" height="8.97" fill="#e82828" />
<rect x="360.60" y="87.87" width="8.91" height="8.97" fill="#e8282a" />
<rect x="369.21" y="87.87" width="8.91" height="8.97" fill="#f4a0a0" />
<rect x="377.83" y="87.87" width="8.91" height="8.97" fill="#f4b2b2" />
<rect x="386.44" y="87.87" width="8.91" height="8.97" fill="#5a70c0" />
<rect x="395.05" y="87.87" width="8.91" height="8.97" fill="#fad8d8" />
<rect x="403.67" y="87.87" width="8.91" height="8.97" fill="#f08080" />
<rect x="412.28" y="87.87" width="8.91" height="8.97" fill="#f4b4b4" />
<rect x="420.89" y="87.87" width="8.91" height="8.97" fill="#f06868" />
<rect x="429.50" y="87.87" width="8.91" height="8.97" fill="#f8c8c8" />
<rect x="438.12" y="87.87" width="8.91" height="8.97" fill="#f49090" />
<rect x="446.73" y="87.87" width="8.91" height="8.97" fill="#e82828" />
<rect x="455.34" y="87.87" width="8.91" height="8.97" fill="#f4a0a0" />
<rect x="463.96" y="87.87" width="8.91" height="8.97" fill="#e82828" />
<rect x="472.57" y="87.87" width="8.91" height="8.97" fill="#e83030" />
<rect x="481.18" y="87.87" width="8.91" height="8.97" fill="#e83030" />
<rect x="360.60" y="96.53" width="8.91" height="8.97" fill="#e84040" />
<rect x="369.21" y="96.53" width="8.91" height="8.97" fill="#f07070" />
<rect x="377.83" y="96.53" width="8.91" height="8.97" fill="#3a50b0" />
<rect x="386.44" y="96.53" width="8.91" height="8.97" fill="#e83030" />
<rect x="395.05" y="96.53" width="8.91" height="8.97" fill="#e82a2a" />
<rect x="403.67" y="96.53" width="8.91" height="8.97" fill="#8890d0" />
<rect x="412.28" y="96.53" width="8.91" height="8.97" fill="#eef0f8" />
<rect x="420.89" y="96.53" width="8.91" height="8.97" fill="#e83030" />
<rect x="429.50" y="96.53" width="8.91" height="8.97" fill="#98a0d8" />
<rect x="438.12" y="96.53" width="8.91" height="8.97" fill="#f8c8c8" />
<rect x="446.73" y="96.53" width="8.91" height="8.97" fill="#a8b0e0" />
<rect x="455.34" y="96.53" width="8.91" height="8.97" fill="#3a50b0" />
<rect x="463.96" y="96.53" width="8.91" height="8.97" fill="#f4a0a0" />
<rect x="472.57" y="96.53" width="8.91" height="8.97" fill="#f07070" />
<rect x="481.18" y="96.53" width="8.91" height="8.97" fill="#3a50b0" />
<rect x="360.60" y="105.20" width="8.91" height="8.97" fill="#6a78c8" />
<rect x="369.21" y="105.20" width="8.91" height="8.97" fill="#6a78c8" />
<rect x="377.83" y="105.20" width="8.91" height="8.97" fill="#7078c8" />
<rect x="386.44" y="105.20" width="8.91" height="8.97" fill="#3858b8" />
<rect x="395.05" y="105.20" width="8.91" height="8.97" fill="#6070c0" />
<rect x="403.67" y="105.20" width="8.91" height="8.97" fill="#e83838" />
<rect x="412.28" y="105.20" width="8.91" height="8.97" fill="#f07070" />
<rect x="420.89" y="105.20" width="8.91" height="8.97" fill="#6070c0" />
<rect x="429.50" y="105.20" width="8.91" height="8.97" fill="#6a78c8" />
<rect x="438.12" y="105.20" width="8.91" height="8.97" fill="#9098d4" />
<rect x="446.73" y="105.20" width="8.91" height="8.97" fill="#5868c0" />
<rect x="455.34" y="105.20" width="8.91" height="8.97" fill="#a0a8dc" />
<rect x="463.96" y="105.20" width="8.91" height="8.97" fill="#a8b0e0" />
<rect x="472.57" y="105.20" width="8.91" height="8.97" fill="#c8cced" />
<rect x="481.18" y="105.20" width="8.91" height="8.97" fill="#a8b0e0" />
<rect x="360.60" y="113.87" width="8.91" height="8.97" fill="#7880c8" />
<rect x="369.21" y="113.87" width="8.91" height="8.97" fill="#8088cc" />
<rect x="377.83" y="113.87" width="8.91" height="8.97" fill="#a8b0e0" />
<rect x="386.44" y="113.87" width="8.91" height="8.97" fill="#3858b8" />
<rect x="395.05" y="113.87" width="8.91" height="8.97" fill="#7080c8" />
<rect x="403.67" y="113.87" width="8.91" height="8.97" fill="#e83838" />
<rect x="412.28" y="113.87" width="8.91" height="8.97" fill="#f8c8c8" />
<rect x="420.89" y="113.87" width="8.91" height="8.97" fill="#d4d8f2" />
<rect x="429.50" y="113.87" width="8.91" height="8.97" fill="#6a78c8" />
<rect x="438.12" y="113.87" width="8.91" height="8.97" fill="#b0b8e4" />
<rect x="446.73" y="113.87" width="8.91" height="8.97" fill="#6a78c8" />
<rect x="455.34" y="113.87" width="8.91" height="8.97" fill="#f4f4fa" />
<rect x="463.96" y="113.87" width="8.91" height="8.97" fill="#b0b8e4" />
<rect x="472.57" y="113.87" width="8.91" height="8.97" fill="#c0c4e8" />
<rect x="481.18" y="113.87" width="8.91" height="8.97" fill="#3a50b0" />
<rect x="360.60" y="122.53" width="8.91" height="8.97" fill="#b0b8e4" />
<rect x="369.21" y="122.53" width="8.91" height="8.97" fill="#8088cc" />
<rect x="377.83" y="122.53" width="8.91" height="8.97" fill="#6070c0" />
<rect x="386.44" y="122.53" width="8.91" height="8.97" fill="#3858b8" />
<rect x="395.05" y="122.53" width="8.91" height="8.97" fill="#8890d0" />
<rect x="403.67" y="122.53" width="8.91" height="8.97" fill="#e82828" />
<rect x="412.28" y="122.53" width="8.91" height="8.97" fill="#e82828" />
<rect x="420.89" y="122.53" width="8.91" height="8.97" fill="#8890d0" />
<rect x="429.50" y="122.53" width="8.91" height="8.97" fill="#6a78c8" />
<rect x="438.12" y="122.53" width="8.91" height="8.97" fill="#f4f4fa" />
<rect x="446.73" y="122.53" width="8.91" height="8.97" fill="#6a78c8" />
<rect x="455.34" y="122.53" width="8.91" height="8.97" fill="#f4f4fa" />
<rect x="463.96" y="122.53" width="8.91" height="8.97" fill="#f8d0d0" />
<rect x="472.57" y="122.53" width="8.91" height="8.97" fill="#f8c8c8" />
<rect x="481.18" y="122.53" width="8.91" height="8.97" fill="#fadcdc" />
<rect x="360.60" y="131.20" width="8.91" height="8.97" fill="#3a55b5" />
<rect x="369.21" y="131.20" width="8.91" height="8.97" fill="#3a55b5" />
<rect x="377.83" y="131.20" width="8.91" height="8.97" fill="#3a55b5" />
<rect x="386.44" y="131.20" width="8.91" height="8.97" fill="#3a55b5" />
<rect x="395.05" y="131.20" width="8.91" height="8.97" fill="#4a5cb8" />
<rect x="403.67" y="131.20" width="8.91" height="8.97" fill="#eeeef8" />
<rect x="412.28" y="131.20" width="8.91" height="8.97" fill="#f0f0f8" />
<rect x="420.89" y="131.20" width="8.91" height="8.97" fill="#3a55b5" />
<rect x="429.50" y="131.20" width="8.91" height="8.97" fill="#3a55b5" />
<rect x="438.12" y="131.20" width="8.91" height="8.97" fill="#4a5cb8" />
<rect x="446.73" y="131.20" width="8.91" height="8.97" fill="#3a55b5" />
<rect x="455.34" y="131.20" width="8.91" height="8.97" fill="#3a55b5" />
<rect x="463.96" y="131.20" width="8.91" height="8.97" fill="#3a55b5" />
<rect x="472.57" y="131.20" width="8.91" height="8.97" fill="#3a55b5" />
<rect x="481.18" y="131.20" width="8.91" height="8.97" fill="#3a55b5" />
<rect x="360.60" y="139.87" width="8.91" height="8.97" fill="#3a55b5" />
<rect x="369.21" y="139.87" width="8.91" height="8.97" fill="#3a55b5" />
<rect x="377.83" y="139.87" width="8.91" height="8.97" fill="#3a55b5" />
<rect x="386.44" y="139.87" width="8.91" height="8.97" fill="#3a55b5" />
<rect x="395.05" y="139.87" width="8.91" height="8.97" fill="#3a55b5" />
<rect x="403.67" y="139.87" width="8.91" height="8.97" fill="#a0a4d8" />
<rect x="412.28" y="139.87" width="8.91" height="8.97" fill="#9098d0" />
<rect x="420.89" y="139.87" width="8.91" height="8.97" fill="#3a55b5" />
<rect x="429.50" y="139.87" width="8.91" height="8.97" fill="#3a55b5" />
<rect x="438.12" y="139.87" width="8.91" height="8.97" fill="#3a55b5" />
<rect x="446.73" y="139.87" width="8.91" height="8.97" fill="#3a55b5" />
<rect x="455.34" y="139.87" width="8.91" height="8.97" fill="#3a55b5" />
<rect x="463.96" y="139.87" width="8.91" height="8.97" fill="#4a5cb8" />
<rect x="472.57" y="139.87" width="8.91" height="8.97" fill="#4a5cb8" />
<rect x="481.18" y="139.87" width="8.91" height="8.97" fill="#3a55b5" />
<rect x="360.60" y="148.54" width="8.91" height="8.97" fill="#3a55b5" />
<rect x="369.21" y="148.54" width="8.91" height="8.97" fill="#3a55b5" />
<rect x="377.83" y="148.54" width="8.91" height="8.97" fill="#3a55b5" />
<rect x="386.44" y="148.54" width="8.91" height="8.97" fill="#3a55b5" />
<rect x="395.05" y="148.54" width="8.91" height="8.97" fill="#3a55b5" />
<rect x="403.67" y="148.54" width="8.91" height="8.97" fill="#9098d0" />
<rect x="412.28" y="148.54" width="8.91" height="8.97" fill="#9ca4d8" />
<rect x="420.89" y="148.54" width="8.91" height="8.97" fill="#3a55b5" />
<rect x="429.50" y="148.54" width="8.91" height="8.97" fill="#3a55b5" />
<rect x="438.12" y="148.54" width="8.91" height="8.97" fill="#5060b8" />
<rect x="446.73" y="148.54" width="8.91" height="8.97" fill="#3a55b5" />
<rect x="455.34" y="148.54" width="8.91" height="8.97" fill="#3a55b5" />
<rect x="463.96" y="148.54" width="8.91" height="8.97" fill="#5060b8" />
<rect x="472.57" y="148.54" width="8.91" height="8.97" fill="#5a68c0" />
<rect x="481.18" y="148.54" width="8.91" height="8.97" fill="#3a55b5" />
<rect x="360.60" y="157.20" width="8.91" height="8.97" fill="#3a55b5" />
<rect x="369.21" y="157.20" width="8.91" height="8.97" fill="#3a55b5" />
<rect x="377.83" y="157.20" width="8.91" height="8.97" fill="#3a55b5" />
<rect x="386.44" y="157.20" width="8.91" height="8.97" fill="#3a55b5" />
<rect x="395.05" y="157.20" width="8.91" height="8.97" fill="#5060b8" />
<rect x="403.67" y="157.20" width="8.91" height="8.97" fill="#3a55b5" />
<rect x="412.28" y="157.20" width="8.91" height="8.97" fill="#3a55b5" />
<rect x="420.89" y="157.20" width="8.91" height="8.97" fill="#3a55b5" />
<rect x="429.50" y="157.20" width="8.91" height="8.97" fill="#3a55b5" />
<rect x="438.12" y="157.20" width="8.91" height="8.97" fill="#3a55b5" />
<rect x="446.73" y="157.20" width="8.91" height="8.97" fill="#3a55b5" />
<rect x="455.34" y="157.20" width="8.91" height="8.97" fill="#3a55b5" />
<rect x="463.96" y="157.20" width="8.91" height="8.97" fill="#5a68c0" />
<rect x="472.57" y="157.20" width="8.91" height="8.97" fill="#7880c8" />
<rect x="481.18" y="157.20" width="8.91" height="8.97" fill="#3a55b5" />
<rect x="360.60" y="165.87" width="8.91" height="8.97" fill="#3a55b5" />
<rect x="369.21" y="165.87" width="8.91" height="8.97" fill="#3a55b5" />
<rect x="377.83" y="165.87" width="8.91" height="8.97" fill="#3a55b5" />
<rect x="386.44" y="165.87" width="8.91" height="8.97" fill="#3a55b5" />
<rect x="395.05" y="165.87" width="8.91" height="8.97" fill="#9098d0" />
<rect x="403.67" y="165.87" width="8.91" height="8.97" fill="#ececf6" />
<rect x="412.28" y="165.87" width="8.91" height="8.97" fill="#f4f4fa" />
<rect x="420.89" y="165.87" width="8.91" height="8.97" fill="#5060b8" />
<rect x="429.50" y="165.87" width="8.91" height="8.97" fill="#3a55b5" />
<rect x="438.12" y="165.87" width="8.91" height="8.97" fill="#d0d4f0" />
<rect x="446.73" y="165.87" width="8.91" height="8.97" fill="#3a55b5" />
<rect x="455.34" y="165.87" width="8.91" height="8.97" fill="#5060b8" />
<rect x="463.96" y="165.87" width="8.91" height="8.97" fill="#8088cc" />
<rect x="472.57" y="165.87" width="8.91" height="8.97" fill="#e8e8f6" />
<rect x="481.18" y="165.87" width="8.91" height="8.97" fill="#3a55b5" />
<rect x="360.60" y="174.54" width="8.91" height="8.97" fill="#3a55b5" />
<rect x="369.21" y="174.54" width="8.91" height="8.97" fill="#3a55b5" />
<rect x="377.83" y="174.54" width="8.91" height="8.97" fill="#3a55b5" />
<rect x="386.44" y="174.54" width="8.91" height="8.97" fill="#3a55b5" />
<rect x="395.05" y="174.54" width="8.91" height="8.97" fill="#5060b8" />
<rect x="403.67" y="174.54" width="8.91" height="8.97" fill="#5060b8" />
<rect x="412.28" y="174.54" width="8.91" height="8.97" fill="#6070c0" />
<rect x="420.89" y="174.54" width="8.91" height="8.97" fill="#3a55b5" />
<rect x="429.50" y="174.54" width="8.91" height="8.97" fill="#4a5cb8" />
<rect x="438.12" y="174.54" width="8.91" height="8.97" fill="#5060b8" />
<rect x="446.73" y="174.54" width="8.91" height="8.97" fill="#3a55b5" />
<rect x="455.34" y="174.54" width="8.91" height="8.97" fill="#3a55b5" />
<rect x="463.96" y="174.54" width="8.91" height="8.97" fill="#6070c0" />
<rect x="472.57" y="174.54" width="8.91" height="8.97" fill="#6070c0" />
<rect x="481.18" y="174.54" width="8.91" height="8.97" fill="#3a55b5" />
<rect x="351.30" y="79.20" width="6.60" height="52.00" fill="#d7ae64" />
<rect x="351.30" y="131.20" width="6.60" height="52.00" fill="#e0702a" />
<text transform="translate(355.40,65.00) rotate(-90)" font-size="6.2" fill="#222" text-anchor="middle" dominant-baseline="central" stroke="#222" stroke-width="0.22" >k_means</text>
<text transform="translate(342.20,105.50) rotate(-90)" font-size="8" fill="#222" text-anchor="middle" dominant-baseline="central" stroke="#222" stroke-width="0.22" >Tumor</text>
<text transform="translate(342.20,158.00) rotate(-90)" font-size="8" fill="#222" text-anchor="middle" dominant-baseline="central" stroke="#222" stroke-width="0.22" >Gland</text>
<text transform="translate(364.61,75.60) rotate(-44)" font-size="6.45" fill="#222" text-anchor="start" dominant-baseline="alphabetic" stroke="#222" stroke-width="0.22" >PE(19:0/16:0)</text>
<text transform="translate(373.22,75.60) rotate(-44)" font-size="6.45" fill="#222" text-anchor="start" dominant-baseline="alphabetic" stroke="#222" stroke-width="0.22" >PE(13:0/20:0)</text>
<text transform="translate(381.83,75.60) rotate(-44)" font-size="6.45" fill="#e0303a" text-anchor="start" dominant-baseline="alphabetic" stroke="#e0303a" stroke-width="0.22" >PS(O-18:0/18:0)</text>
<text transform="translate(390.45,75.60) rotate(-44)" font-size="6.45" fill="#222" text-anchor="start" dominant-baseline="alphabetic" stroke="#222" stroke-width="0.22" >Cer(d18:0/16:0)</text>
<text transform="translate(399.06,75.60) rotate(-44)" font-size="6.45" fill="#222" text-anchor="start" dominant-baseline="alphabetic" stroke="#222" stroke-width="0.22" >PE(16:0/16:0)</text>
<text transform="translate(407.67,75.60) rotate(-44)" font-size="6.45" fill="#222" text-anchor="start" dominant-baseline="alphabetic" stroke="#222" stroke-width="0.22" >Cholesteryl 11-hydroperoxy-20:4</text>
<text transform="translate(416.28,75.60) rotate(-44)" font-size="6.45" fill="#e0303a" text-anchor="start" dominant-baseline="alphabetic" stroke="#e0303a" stroke-width="0.22" >PS(O-18:0/0:0)</text>
<text transform="translate(424.90,75.60) rotate(-44)" font-size="6.45" fill="#222" text-anchor="start" dominant-baseline="alphabetic" stroke="#222" stroke-width="0.22" >PE(18:0/18:1)</text>
<text transform="translate(433.51,75.60) rotate(-44)" font-size="6.45" fill="#222" text-anchor="start" dominant-baseline="alphabetic" stroke="#222" stroke-width="0.22" >1-heptadecanoyl-sn-glycerol 3-P</text>
<text transform="translate(442.12,75.60) rotate(-44)" font-size="6.45" fill="#e0303a" text-anchor="start" dominant-baseline="alphabetic" stroke="#e0303a" stroke-width="0.22" >PS(18:0/20:4)</text>
<text transform="translate(450.74,75.60) rotate(-44)" font-size="6.45" fill="#e0303a" text-anchor="start" dominant-baseline="alphabetic" stroke="#e0303a" stroke-width="0.22" >PS(P-16:0/20:0)</text>
<text transform="translate(459.35,75.60) rotate(-44)" font-size="6.45" fill="#e0303a" text-anchor="start" dominant-baseline="alphabetic" stroke="#e0303a" stroke-width="0.22" >PS(P-16:0/20:4)</text>
<text transform="translate(467.96,75.60) rotate(-44)" font-size="6.45" fill="#e0303a" text-anchor="start" dominant-baseline="alphabetic" stroke="#e0303a" stroke-width="0.22" >PS(P-20:0/20:4)</text>
<text transform="translate(476.58,75.60) rotate(-44)" font-size="6.45" fill="#e0303a" text-anchor="start" dominant-baseline="alphabetic" stroke="#e0303a" stroke-width="0.22" >PS(P-20:0/20:5)</text>
<text transform="translate(485.19,75.60) rotate(-44)" font-size="6.45" fill="#e0303a" text-anchor="start" dominant-baseline="alphabetic" stroke="#e0303a" stroke-width="0.22" >PS(P-20:0/18:4)</text>
<defs><linearGradient id="ck" x1="0" y1="0" x2="0" y2="1"><stop offset="0" stop-color="#e2505c"/><stop offset="0.15" stop-color="#f09aa2"/><stop offset="0.3" stop-color="#fbe4e8"/><stop offset="0.36" stop-color="#ffffff"/><stop offset="0.46" stop-color="#cdd2ec"/><stop offset="0.62" stop-color="#7a86ca"/><stop offset="0.8" stop-color="#4258b4"/><stop offset="1" stop-color="#3550ae"/></linearGradient></defs>
<rect x="503.50" y="83.00" width="5.50" height="97.60" fill="url(#ck)" />
<text x="495.80" y="78.30" font-size="5.5" fill="#333" text-anchor="start" dominant-baseline="central" stroke="#333" stroke-width="0.22" >Row max</text>
<text x="495.80" y="186.20" font-size="5.5" fill="#333" text-anchor="start" dominant-baseline="central" stroke="#333" stroke-width="0.22" >Row min</text>
<line x1="416.90" y1="188.00" x2="416.90" y2="194.50" stroke="#e02030" stroke-width="1.5" />
<polygon points="414.4,190 419.4,190 416.9,185.3" fill="#e02030"/>
<text x="0.80" y="213.50" font-size="12.3" fill="#000" text-anchor="start" dominant-baseline="alphabetic" font-weight="bold" >D</text>
<rect x="61.85" y="216.80" width="7.30" height="2.75" fill="#fff" stroke="#111" stroke-width="1.1" />
<text x="73.30" y="220.10" font-size="8.3" fill="#222" text-anchor="start" dominant-baseline="alphabetic" stroke="#222" stroke-width="0.22" >Gland</text>
<rect x="61.30" y="224.40" width="8.60" height="4.40" fill="#111" />
<text x="73.30" y="228.80" font-size="8.3" fill="#222" text-anchor="start" dominant-baseline="alphabetic" stroke="#222" stroke-width="0.22" >Tumor</text>
<line x1="57.70" y1="235.60" x2="57.70" y2="311.20" stroke="#222" stroke-width="1.3" />
<line x1="55.30" y1="236.10" x2="57.70" y2="236.10" stroke="#111" stroke-width="1" />
<text x="54.10" y="236.10" font-size="8" fill="#222" text-anchor="end" dominant-baseline="central" stroke="#222" stroke-width="0.22" >2,500</text>
<line x1="55.30" y1="251.00" x2="57.70" y2="251.00" stroke="#111" stroke-width="1" />
<text x="54.10" y="251.00" font-size="8" fill="#222" text-anchor="end" dominant-baseline="central" stroke="#222" stroke-width="0.22" >2,000</text>
<line x1="55.30" y1="266.00" x2="57.70" y2="266.00" stroke="#111" stroke-width="1" />
<text x="54.10" y="266.00" font-size="8" fill="#222" text-anchor="end" dominant-baseline="central" stroke="#222" stroke-width="0.22" >1,500</text>
<line x1="55.30" y1="280.90" x2="57.70" y2="280.90" stroke="#111" stroke-width="1" />
<text x="54.10" y="280.90" font-size="8" fill="#222" text-anchor="end" dominant-baseline="central" stroke="#222" stroke-width="0.22" >1,000</text>
<line x1="55.30" y1="295.80" x2="57.70" y2="295.80" stroke="#111" stroke-width="1" />
<text x="54.10" y="295.80" font-size="8" fill="#222" text-anchor="end" dominant-baseline="central" stroke="#222" stroke-width="0.22" >500</text>
<line x1="55.30" y1="310.70" x2="57.70" y2="310.70" stroke="#111" stroke-width="1" />
<text x="50.80" y="309.80" font-size="8" fill="#222" text-anchor="end" dominant-baseline="central" stroke="#222" stroke-width="0.22" >0</text>
<line x1="57.20" y1="310.70" x2="108.00" y2="310.70" stroke="#222" stroke-width="1.3" />
<line x1="71.00" y1="310.70" x2="71.00" y2="313.30" stroke="#111" stroke-width="0.9" />
<line x1="95.80" y1="310.70" x2="95.80" y2="313.30" stroke="#111" stroke-width="0.9" />
<text transform="translate(8.90,273.60) rotate(-90)" font-size="8.4" fill="#222" text-anchor="middle" dominant-baseline="central" stroke="#222" stroke-width="0.22" >Ether lipids</text>
<text transform="translate(19.60,273.00) rotate(-90)" font-size="8" fill="#222" text-anchor="middle" dominant-baseline="central" stroke="#222" stroke-width="0.22" >(nmol/g wet weight</text>
<text transform="translate(28.90,272.80) rotate(-90)" font-size="8" fill="#222" text-anchor="middle" dominant-baseline="central" stroke="#222" stroke-width="0.22" >of total lipids)</text>
<rect x="63.60" y="278.10" width="15.00" height="32.60" fill="#fff" stroke="#111" stroke-width="1.1" />
<line x1="71.00" y1="278.10" x2="71.00" y2="274.50" stroke="#111" stroke-width="1" />
<line x1="68.50" y1="274.50" x2="73.50" y2="274.50" stroke="#111" stroke-width="1" />
<rect x="87.20" y="255.00" width="17.80" height="55.70" fill="#111" />
<line x1="96.10" y1="255.00" x2="96.10" y2="250.40" stroke="#111" stroke-width="1" />
<line x1="93.50" y1="250.40" x2="98.70" y2="250.40" stroke="#111" stroke-width="1" />
<circle cx="68.50" cy="261.50" r="1.90" fill="#111"/>
<circle cx="74.40" cy="264.50" r="1.90" fill="#111"/>
<circle cx="73.80" cy="271.70" r="1.90" fill="#111"/>
<circle cx="68.00" cy="274.00" r="1.90" fill="#111"/>
<circle cx="71.60" cy="277.20" r="1.90" fill="#111"/>
<circle cx="68.30" cy="282.50" r="1.90" fill="#111"/>
<circle cx="74.40" cy="283.00" r="1.90" fill="#111"/>
<circle cx="74.60" cy="285.50" r="1.90" fill="#111"/>
<circle cx="71.20" cy="299.20" r="1.90" fill="#111"/>
<rect x="94.70" y="239.30" width="3.00" height="3.00" fill="#fff" stroke="#111" stroke-width="1" />
<rect x="94.70" y="245.00" width="3.00" height="3.00" fill="#fff" stroke="#111" stroke-width="1" />
<rect x="91.30" y="252.40" width="3.00" height="3.00" fill="#fff" stroke="#111" stroke-width="1" />
<rect x="97.00" y="251.50" width="3.00" height="3.00" fill="#fff" stroke="#111" stroke-width="1" />
<rect x="94.70" y="265.70" width="2.20" height="2.20" fill="#fff" />
<rect x="94.70" y="270.10" width="2.20" height="2.20" fill="#fff" />
<text x="96.20" y="235.20" font-size="7.8" fill="#222" text-anchor="middle" dominant-baseline="central" stroke="#222" stroke-width="0.22" >**</text>
<text x="127.10" y="213.90" font-size="12.3" fill="#000" text-anchor="start" dominant-baseline="alphabetic" font-weight="bold" >E</text>
<rect x="178.85" y="216.80" width="7.30" height="2.75" fill="#fff" stroke="#111" stroke-width="1.1" />
<text x="189.80" y="220.10" font-size="8.3" fill="#222" text-anchor="start" dominant-baseline="alphabetic" stroke="#222" stroke-width="0.22" >Gland</text>
<rect x="178.30" y="224.40" width="8.60" height="4.40" fill="#111" />
<text x="189.80" y="228.80" font-size="8.3" fill="#222" text-anchor="start" dominant-baseline="alphabetic" stroke="#222" stroke-width="0.22" >Tumor</text>
<line x1="180.90" y1="236.00" x2="180.90" y2="311.10" stroke="#222" stroke-width="1.3" />
<line x1="178.50" y1="236.50" x2="180.90" y2="236.50" stroke="#111" stroke-width="1" />
<text x="177.30" y="236.50" font-size="8" fill="#222" text-anchor="end" dominant-baseline="central" stroke="#222" stroke-width="0.22" >2,000</text>
<line x1="178.50" y1="255.20" x2="180.90" y2="255.20" stroke="#111" stroke-width="1" />
<text x="177.30" y="255.20" font-size="8" fill="#222" text-anchor="end" dominant-baseline="central" stroke="#222" stroke-width="0.22" >1,500</text>
<line x1="178.50" y1="273.60" x2="180.90" y2="273.60" stroke="#111" stroke-width="1" />
<text x="177.30" y="273.60" font-size="8" fill="#222" text-anchor="end" dominant-baseline="central" stroke="#222" stroke-width="0.22" >1,000</text>
<line x1="178.50" y1="292.20" x2="180.90" y2="292.20" stroke="#111" stroke-width="1" />
<text x="177.30" y="292.20" font-size="8" fill="#222" text-anchor="end" dominant-baseline="central" stroke="#222" stroke-width="0.22" >500</text>
<line x1="178.50" y1="310.60" x2="180.90" y2="310.60" stroke="#111" stroke-width="1" />
<text x="174.10" y="309.70" font-size="8" fill="#222" text-anchor="end" dominant-baseline="central" stroke="#222" stroke-width="0.22" >0</text>
<line x1="180.40" y1="310.60" x2="230.50" y2="310.60" stroke="#222" stroke-width="1.3" />
<line x1="194.40" y1="310.60" x2="194.40" y2="313.20" stroke="#111" stroke-width="0.9" />
<line x1="219.10" y1="310.60" x2="219.10" y2="313.20" stroke="#111" stroke-width="0.9" />
<text transform="translate(134.40,274.50) rotate(-90)" font-size="8" fill="#222" text-anchor="middle" dominant-baseline="central" stroke="#222" stroke-width="0.22" >Total PS</text>
<text transform="translate(143.90,274.40) rotate(-90)" font-size="8.1" fill="#222" text-anchor="middle" dominant-baseline="central" stroke="#222" stroke-width="0.22" >(nmol/g wet weight</text>
<text transform="translate(152.90,274.40) rotate(-90)" font-size="8.1" fill="#222" text-anchor="middle" dominant-baseline="central" stroke="#222" stroke-width="0.22" >of total lipids)</text>
<rect x="186.40" y="298.60" width="15.90" height="12.00" fill="#fff" stroke="#111" stroke-width="1.1" />
<line x1="194.40" y1="298.60" x2="194.40" y2="295.60" stroke="#111" stroke-width="1" />
<rect x="210.70" y="260.80" width="17.60" height="49.80" fill="#111" />
<line x1="219.10" y1="260.80" x2="219.10" y2="256.80" stroke="#111" stroke-width="1" />
<line x1="216.60" y1="256.80" x2="221.60" y2="256.80" stroke="#111" stroke-width="1" />
<circle cx="187.90" cy="292.70" r="1.90" fill="#111"/>
<circle cx="192.20" cy="293.70" r="1.90" fill="#111"/>
<circle cx="196.80" cy="294.70" r="1.90" fill="#111"/>
<circle cx="187.90" cy="300.20" r="1.90" fill="#111"/>
<circle cx="192.80" cy="299.00" r="1.90" fill="#111"/>
<circle cx="200.80" cy="299.60" r="1.90" fill="#111"/>
<circle cx="191.80" cy="304.60" r="1.90" fill="#111"/>
<circle cx="196.80" cy="304.60" r="1.90" fill="#111"/>
<rect x="217.20" y="243.00" width="3.00" height="3.00" fill="#fff" stroke="#111" stroke-width="1" />
<rect x="214.80" y="252.40" width="3.00" height="3.00" fill="#fff" stroke="#111" stroke-width="1" />
<rect x="220.80" y="253.90" width="3.00" height="3.00" fill="#fff" stroke="#111" stroke-width="1" />
<rect x="218.00" y="265.70" width="2.20" height="2.20" fill="#fff" />
<rect x="215.20" y="272.30" width="2.20" height="2.20" fill="#fff" />
<rect x="221.00" y="270.70" width="2.20" height="2.20" fill="#fff" />
<text x="219.10" y="239.60" font-size="7.8" fill="#222" text-anchor="middle" dominant-baseline="central" stroke="#222" stroke-width="0.22" >***</text>
<text x="248.00" y="213.90" font-size="12.3" fill="#000" text-anchor="start" dominant-baseline="alphabetic" font-weight="bold" >F</text>
<rect x="296.25" y="216.80" width="7.30" height="2.75" fill="#fff" stroke="#111" stroke-width="1.1" />
<text x="307.40" y="220.10" font-size="8.3" fill="#222" text-anchor="start" dominant-baseline="alphabetic" stroke="#222" stroke-width="0.22" >Gland</text>
<rect x="295.70" y="224.40" width="8.60" height="4.40" fill="#111" />
<text x="307.40" y="228.80" font-size="8.3" fill="#222" text-anchor="start" dominant-baseline="alphabetic" stroke="#222" stroke-width="0.22" >Tumor</text>
<line x1="291.20" y1="235.50" x2="291.20" y2="310.70" stroke="#222" stroke-width="1.3" />
<line x1="288.80" y1="236.00" x2="291.20" y2="236.00" stroke="#111" stroke-width="1" />
<text x="287.60" y="236.00" font-size="8" fill="#222" text-anchor="end" dominant-baseline="central" stroke="#222" stroke-width="0.22" >20</text>
<line x1="288.80" y1="254.90" x2="291.20" y2="254.90" stroke="#111" stroke-width="1" />
<text x="287.60" y="254.90" font-size="8" fill="#222" text-anchor="end" dominant-baseline="central" stroke="#222" stroke-width="0.22" >15</text>
<line x1="288.80" y1="273.40" x2="291.20" y2="273.40" stroke="#111" stroke-width="1" />
<text x="287.60" y="273.40" font-size="8" fill="#222" text-anchor="end" dominant-baseline="central" stroke="#222" stroke-width="0.22" >10</text>
<line x1="288.80" y1="291.70" x2="291.20" y2="291.70" stroke="#111" stroke-width="1" />
<text x="287.60" y="291.70" font-size="8" fill="#222" text-anchor="end" dominant-baseline="central" stroke="#222" stroke-width="0.22" >5</text>
<line x1="288.80" y1="310.20" x2="291.20" y2="310.20" stroke="#111" stroke-width="1" />
<text x="287.60" y="310.20" font-size="8" fill="#222" text-anchor="end" dominant-baseline="central" stroke="#222" stroke-width="0.22" >0</text>
<line x1="290.70" y1="310.20" x2="339.50" y2="310.20" stroke="#222" stroke-width="1.3" />
<line x1="304.20" y1="310.20" x2="304.20" y2="312.80" stroke="#111" stroke-width="0.9" />
<line x1="329.00" y1="310.20" x2="329.00" y2="312.80" stroke="#111" stroke-width="0.9" />
<text transform="translate(261.20,272.30) rotate(-90)" font-size="8.2" fill="#222" text-anchor="middle" dominant-baseline="central" stroke="#222" stroke-width="0.22" >Total PS relative to</text>
<text transform="translate(271.30,272.20) rotate(-90)" font-size="8.2" fill="#222" text-anchor="middle" dominant-baseline="central" stroke="#222" stroke-width="0.22" >other phospholipids (%)</text>
<rect x="296.70" y="281.40" width="15.00" height="28.80" fill="#fff" stroke="#111" stroke-width="1.1" />
<line x1="304.20" y1="281.40" x2="304.20" y2="278.00" stroke="#111" stroke-width="1" />
<line x1="301.70" y1="278.00" x2="306.70" y2="278.00" stroke="#111" stroke-width="1" />
<rect x="320.70" y="260.40" width="16.50" height="49.80" fill="#111" />
<line x1="329.00" y1="260.40" x2="329.00" y2="258.20" stroke="#111" stroke-width="1" />
<circle cx="297.20" cy="274.20" r="1.90" fill="#111"/>
<circle cx="303.80" cy="275.80" r="1.90" fill="#111"/>
<circle cx="310.80" cy="274.40" r="1.90" fill="#111"/>
<circle cx="301.40" cy="282.70" r="1.90" fill="#111"/>
<circle cx="307.20" cy="282.70" r="1.90" fill="#111"/>
<circle cx="300.40" cy="289.70" r="1.90" fill="#111"/>
<circle cx="307.20" cy="288.30" r="1.90" fill="#111"/>
<rect x="320.60" y="254.40" width="3.00" height="3.00" fill="#fff" stroke="#111" stroke-width="1" />
<rect x="333.70" y="257.00" width="3.00" height="3.00" fill="#fff" stroke="#111" stroke-width="1" />
<rect x="320.60" y="260.50" width="3.00" height="3.00" fill="#fff" stroke="#111" stroke-width="1" />
<rect x="333.70" y="261.10" width="3.00" height="3.00" fill="#fff" stroke="#111" stroke-width="1" />
<rect x="327.00" y="258.50" width="3.00" height="3.00" fill="#fff" stroke="#111" stroke-width="1" />
<text x="329.10" y="247.90" font-size="7.8" fill="#222" text-anchor="middle" dominant-baseline="central" stroke="#222" stroke-width="0.22" >**</text>
<text x="360.00" y="214.20" font-size="12.3" fill="#000" text-anchor="start" dominant-baseline="alphabetic" font-weight="bold" >G</text>
<rect x="412.55" y="219.00" width="7.30" height="2.75" fill="#fff" stroke="#111" stroke-width="1.1" />
<text x="424.30" y="222.30" font-size="8.3" fill="#222" text-anchor="start" dominant-baseline="alphabetic" stroke="#222" stroke-width="0.22" >Gland</text>
<rect x="412.00" y="226.30" width="8.60" height="4.40" fill="#111" />
<text x="424.30" y="230.70" font-size="8.3" fill="#222" text-anchor="start" dominant-baseline="alphabetic" stroke="#222" stroke-width="0.22" >Tumor</text>
<line x1="406.00" y1="230.15" x2="406.00" y2="305.80" stroke="#222" stroke-width="1.3" />
<line x1="403.60" y1="230.65" x2="406.00" y2="230.65" stroke="#111" stroke-width="1" />
<text x="402.40" y="230.65" font-size="8" fill="#222" text-anchor="end" dominant-baseline="central" stroke="#222" stroke-width="0.22" >500</text>
<line x1="403.60" y1="245.58" x2="406.00" y2="245.58" stroke="#111" stroke-width="1" />
<text x="402.40" y="245.58" font-size="8" fill="#222" text-anchor="end" dominant-baseline="central" stroke="#222" stroke-width="0.22" >400</text>
<line x1="403.60" y1="260.51" x2="406.00" y2="260.51" stroke="#111" stroke-width="1" />
<text x="402.40" y="260.51" font-size="8" fill="#222" text-anchor="end" dominant-baseline="central" stroke="#222" stroke-width="0.22" >300</text>
<line x1="403.60" y1="275.44" x2="406.00" y2="275.44" stroke="#111" stroke-width="1" />
<text x="402.40" y="275.44" font-size="8" fill="#222" text-anchor="end" dominant-baseline="central" stroke="#222" stroke-width="0.22" >200</text>
<line x1="403.60" y1="290.37" x2="406.00" y2="290.37" stroke="#111" stroke-width="1" />
<text x="402.40" y="290.37" font-size="8" fill="#222" text-anchor="end" dominant-baseline="central" stroke="#222" stroke-width="0.22" >100</text>
<line x1="403.60" y1="305.30" x2="406.00" y2="305.30" stroke="#111" stroke-width="1" />
<text x="399.40" y="304.40" font-size="8" fill="#222" text-anchor="end" dominant-baseline="central" stroke="#222" stroke-width="0.22" >0</text>
<line x1="405.50" y1="305.30" x2="519.00" y2="305.30" stroke="#222" stroke-width="1.3" />
<text transform="translate(371.20,272.50) rotate(-90)" font-size="8.3" fill="#222" text-anchor="middle" dominant-baseline="central" stroke="#222" stroke-width="0.22" >PS species (nmol/g</text>
<text transform="translate(381.00,272.60) rotate(-90)" font-size="8.3" fill="#222" text-anchor="middle" dominant-baseline="central" stroke="#222" stroke-width="0.22" >wet weight of total lipids)</text>
<rect x="410.90" y="300.67" width="3.30" height="4.63" fill="#111" />
<line x1="410.90" y1="305.30" x2="410.90" y2="307.60" stroke="#111" stroke-width="0.9" />
<text transform="translate(411.90,310.30) rotate(-45)" font-size="6.6" fill="#333" text-anchor="end" dominant-baseline="central" stroke="#333" stroke-width="0.22" >PS34:1</text>
<rect x="417.38" y="303.66" width="2.50" height="1.64" fill="#b8b8b8" stroke="#222" stroke-width="0.8" />
<rect x="420.28" y="288.58" width="3.30" height="16.72" fill="#111" />
<line x1="420.28" y1="305.30" x2="420.28" y2="307.60" stroke="#111" stroke-width="0.9" />
<text transform="translate(421.28,310.30) rotate(-45)" font-size="6.6" fill="#333" text-anchor="end" dominant-baseline="central" stroke="#333" stroke-width="0.22" >PS 36:2</text>
<rect x="426.76" y="296.79" width="2.50" height="8.51" fill="#b8b8b8" stroke="#222" stroke-width="0.8" />
<line x1="428.01" y1="296.79" x2="428.01" y2="296.04" stroke="#222" stroke-width="0.8" />
<line x1="426.81" y1="296.04" x2="429.21" y2="296.04" stroke="#222" stroke-width="0.8" />
<rect x="429.66" y="248.86" width="3.30" height="56.44" fill="#111" />
<line x1="431.31" y1="248.86" x2="431.31" y2="242.89" stroke="#555" stroke-width="0.8" />
<line x1="430.01" y1="242.89" x2="432.61" y2="242.89" stroke="#555" stroke-width="0.8" />
<line x1="429.66" y1="305.30" x2="429.66" y2="307.60" stroke="#111" stroke-width="0.9" />
<text transform="translate(430.66,310.30) rotate(-45)" font-size="6.6" fill="#333" text-anchor="end" dominant-baseline="central" stroke="#333" stroke-width="0.22" >PS 36:1</text>
<rect x="436.14" y="293.36" width="2.50" height="11.94" fill="#b8b8b8" stroke="#222" stroke-width="0.8" />
<line x1="437.39" y1="293.36" x2="437.39" y2="292.16" stroke="#222" stroke-width="0.8" />
<line x1="436.19" y1="292.16" x2="438.59" y2="292.16" stroke="#222" stroke-width="0.8" />
<rect x="439.04" y="282.61" width="3.30" height="22.69" fill="#111" />
<line x1="440.69" y1="282.61" x2="440.69" y2="281.41" stroke="#555" stroke-width="0.8" />
<line x1="439.39" y1="281.41" x2="441.99" y2="281.41" stroke="#555" stroke-width="0.8" />
<line x1="439.04" y1="305.30" x2="439.04" y2="307.60" stroke="#111" stroke-width="0.9" />
<text transform="translate(440.04,310.30) rotate(-45)" font-size="6.6" fill="#333" text-anchor="end" dominant-baseline="central" stroke="#333" stroke-width="0.22" >PS 38:4</text>
<rect x="448.42" y="293.95" width="3.30" height="11.35" fill="#111" />
<line x1="448.42" y1="305.30" x2="448.42" y2="307.60" stroke="#111" stroke-width="0.9" />
<text transform="translate(449.42,310.30) rotate(-45)" font-size="6.6" fill="#333" text-anchor="end" dominant-baseline="central" stroke="#333" stroke-width="0.22" >PS 38:3</text>
<rect x="457.80" y="302.61" width="3.30" height="2.69" fill="#111" />
<line x1="457.80" y1="305.30" x2="457.80" y2="307.60" stroke="#111" stroke-width="0.9" />
<text transform="translate(458.80,310.30) rotate(-45)" font-size="6.6" fill="#333" text-anchor="end" dominant-baseline="central" stroke="#333" stroke-width="0.22" >PS 38:2</text>
<rect x="467.18" y="303.06" width="3.30" height="2.24" fill="#111" />
<line x1="467.18" y1="305.30" x2="467.18" y2="307.60" stroke="#111" stroke-width="0.9" />
<text transform="translate(468.18,310.30) rotate(-45)" font-size="6.6" fill="#333" text-anchor="end" dominant-baseline="central" stroke="#333" stroke-width="0.22" >PS 38:1</text>
<rect x="476.56" y="298.58" width="3.30" height="6.72" fill="#111" />
<line x1="476.56" y1="305.30" x2="476.56" y2="307.60" stroke="#111" stroke-width="0.9" />
<text transform="translate(477.56,310.30) rotate(-45)" font-size="6.6" fill="#333" text-anchor="end" dominant-baseline="central" stroke="#333" stroke-width="0.22" >PS 40:7</text>
<rect x="483.04" y="277.68" width="2.50" height="27.62" fill="#b8b8b8" stroke="#222" stroke-width="0.8" />
<line x1="484.29" y1="277.68" x2="484.29" y2="276.34" stroke="#222" stroke-width="0.8" />
<line x1="483.09" y1="276.34" x2="485.49" y2="276.34" stroke="#222" stroke-width="0.8" />
<rect x="485.94" y="272.30" width="3.30" height="33.00" fill="#111" />
<line x1="487.59" y1="272.30" x2="487.59" y2="268.57" stroke="#555" stroke-width="0.8" />
<line x1="486.29" y1="268.57" x2="488.89" y2="268.57" stroke="#555" stroke-width="0.8" />
<line x1="485.94" y1="305.30" x2="485.94" y2="307.60" stroke="#111" stroke-width="0.9" />
<text transform="translate(486.94,310.30) rotate(-45)" font-size="6.6" fill="#333" text-anchor="end" dominant-baseline="central" stroke="#333" stroke-width="0.22" >PS 40:6</text>
<rect x="495.32" y="295.15" width="3.30" height="10.15" fill="#111" />
<line x1="495.32" y1="305.30" x2="495.32" y2="307.60" stroke="#111" stroke-width="0.9" />
<text transform="translate(496.32,310.30) rotate(-45)" font-size="6.6" fill="#333" text-anchor="end" dominant-baseline="central" stroke="#333" stroke-width="0.22" >PS 40:5</text>
<rect x="504.70" y="287.38" width="3.30" height="17.92" fill="#111" />
<line x1="506.35" y1="287.38" x2="506.35" y2="286.64" stroke="#555" stroke-width="0.8" />
<line x1="505.05" y1="286.64" x2="507.65" y2="286.64" stroke="#555" stroke-width="0.8" />
<line x1="504.70" y1="305.30" x2="504.70" y2="307.60" stroke="#111" stroke-width="0.9" />
<text transform="translate(505.70,310.30) rotate(-45)" font-size="6.6" fill="#333" text-anchor="end" dominant-baseline="central" stroke="#333" stroke-width="0.22" >PS 40:4</text>
<rect x="514.08" y="303.81" width="3.30" height="1.49" fill="#111" />
<line x1="514.08" y1="305.30" x2="514.08" y2="307.60" stroke="#111" stroke-width="0.9" />
<text transform="translate(515.08,310.30) rotate(-45)" font-size="6.6" fill="#333" text-anchor="end" dominant-baseline="central" stroke="#333" stroke-width="0.22" >PS 40:3</text>
<text x="0.80" y="347.00" font-size="12.3" fill="#000" text-anchor="start" dominant-baseline="alphabetic" font-weight="bold" >H</text>
<rect x="57.35" y="348.80" width="7.30" height="2.75" fill="#fff" stroke="#111" stroke-width="1.1" />
<text x="69.10" y="352.10" font-size="8.3" fill="#222" text-anchor="start" dominant-baseline="alphabetic" stroke="#222" stroke-width="0.22" >Gland</text>
<rect x="56.80" y="356.80" width="8.60" height="4.40" fill="#111" />
<text x="69.10" y="361.20" font-size="8.3" fill="#222" text-anchor="start" dominant-baseline="alphabetic" stroke="#222" stroke-width="0.22" >Tumor</text>
<line x1="45.10" y1="361.65" x2="45.10" y2="436.90" stroke="#222" stroke-width="1.3" />
<line x1="42.70" y1="362.15" x2="45.10" y2="362.15" stroke="#111" stroke-width="1" />
<text x="41.50" y="362.15" font-size="8" fill="#222" text-anchor="end" dominant-baseline="central" stroke="#222" stroke-width="0.22" >5</text>
<line x1="42.70" y1="377.00" x2="45.10" y2="377.00" stroke="#111" stroke-width="1" />
<text x="41.50" y="377.00" font-size="8" fill="#222" text-anchor="end" dominant-baseline="central" stroke="#222" stroke-width="0.22" >4</text>
<line x1="42.70" y1="391.85" x2="45.10" y2="391.85" stroke="#111" stroke-width="1" />
<text x="41.50" y="391.85" font-size="8" fill="#222" text-anchor="end" dominant-baseline="central" stroke="#222" stroke-width="0.22" >3</text>
<line x1="42.70" y1="406.70" x2="45.10" y2="406.70" stroke="#111" stroke-width="1" />
<text x="41.50" y="406.70" font-size="8" fill="#222" text-anchor="end" dominant-baseline="central" stroke="#222" stroke-width="0.22" >2</text>
<line x1="42.70" y1="421.55" x2="45.10" y2="421.55" stroke="#111" stroke-width="1" />
<text x="41.50" y="421.55" font-size="8" fill="#222" text-anchor="end" dominant-baseline="central" stroke="#222" stroke-width="0.22" >1</text>
<line x1="42.70" y1="436.40" x2="45.10" y2="436.40" stroke="#111" stroke-width="1" />
<text x="41.50" y="436.40" font-size="8" fill="#222" text-anchor="end" dominant-baseline="central" stroke="#222" stroke-width="0.22" >0</text>
<line x1="44.60" y1="436.40" x2="305.00" y2="436.40" stroke="#222" stroke-width="1.4" />
<text transform="translate(18.60,399.40) rotate(-90)" font-size="8.3" fill="#222" text-anchor="middle" dominant-baseline="central" stroke="#222" stroke-width="0.22" >ePS species abundance</text>
<text transform="translate(27.4,400.3) rotate(-90)" font-size="8.2" fill="#222" stroke="#222" stroke-width="0.22" text-anchor="middle" dominant-baseline="central">(AUC * 10<tspan font-size="5.5" dy="-3">7</tspan><tspan dy="3">)</tspan></text>
<rect x="50.30" y="411.45" width="4.00" height="24.95" fill="#111" />
<line x1="52.30" y1="411.45" x2="52.30" y2="389.62" stroke="#555" stroke-width="0.8" />
<line x1="51.00" y1="389.62" x2="53.60" y2="389.62" stroke="#555" stroke-width="0.8" />
<line x1="50.30" y1="436.40" x2="50.30" y2="438.70" stroke="#111" stroke-width="0.9" />
<text transform="translate(52.90,441.00) rotate(-44)" font-size="6.3" fill="#333" text-anchor="end" dominant-baseline="central" stroke="#333" stroke-width="0.22" >PS(P-16:0/0:0)</text>
<rect x="61.60" y="411.90" width="4.00" height="24.50" fill="#111" />
<line x1="63.60" y1="411.90" x2="63.60" y2="391.11" stroke="#555" stroke-width="0.8" />
<line x1="62.30" y1="391.11" x2="64.90" y2="391.11" stroke="#555" stroke-width="0.8" />
<line x1="61.60" y1="436.40" x2="61.60" y2="438.70" stroke="#111" stroke-width="0.9" />
<text transform="translate(64.20,441.00) rotate(-44)" font-size="6.3" fill="#333" text-anchor="end" dominant-baseline="central" stroke="#333" stroke-width="0.22" >PS(O-16:1/0:0)</text>
<rect x="72.90" y="431.94" width="4.00" height="4.46" fill="#111" />
<line x1="74.90" y1="431.94" x2="74.90" y2="429.72" stroke="#222" stroke-width="0.8" />
<line x1="73.60" y1="429.72" x2="76.20" y2="429.72" stroke="#222" stroke-width="0.8" />
<line x1="72.90" y1="436.40" x2="72.90" y2="438.70" stroke="#111" stroke-width="0.9" />
<text transform="translate(75.50,441.00) rotate(-44)" font-size="6.3" fill="#333" text-anchor="end" dominant-baseline="central" stroke="#333" stroke-width="0.22" >PS(O-16:0/0:0)</text>
<rect x="84.20" y="428.97" width="4.00" height="7.42" fill="#111" />
<line x1="86.20" y1="428.97" x2="86.20" y2="423.48" stroke="#222" stroke-width="0.8" />
<line x1="84.90" y1="423.48" x2="87.50" y2="423.48" stroke="#222" stroke-width="0.8" />
<line x1="84.20" y1="436.40" x2="84.20" y2="438.70" stroke="#111" stroke-width="0.9" />
<text transform="translate(86.80,441.00) rotate(-44)" font-size="6.3" fill="#333" text-anchor="end" dominant-baseline="central" stroke="#333" stroke-width="0.22" >PS(P-18:1/0:0)</text>
<rect x="95.50" y="428.23" width="4.00" height="8.17" fill="#111" />
<line x1="97.50" y1="428.23" x2="97.50" y2="422.00" stroke="#222" stroke-width="0.8" />
<line x1="96.20" y1="422.00" x2="98.80" y2="422.00" stroke="#222" stroke-width="0.8" />
<line x1="95.50" y1="436.40" x2="95.50" y2="438.70" stroke="#111" stroke-width="0.9" />
<text transform="translate(98.10,441.00) rotate(-44)" font-size="6.3" fill="#333" text-anchor="end" dominant-baseline="central" stroke="#333" stroke-width="0.22" >PS(P-18:0/0:0)</text>
<rect x="103.80" y="433.73" width="2.60" height="2.67" fill="#fff" stroke="#111" stroke-width="0.8" />
<rect x="106.80" y="427.79" width="4.00" height="8.61" fill="#111" />
<line x1="108.80" y1="427.79" x2="108.80" y2="425.26" stroke="#222" stroke-width="0.8" />
<line x1="107.50" y1="425.26" x2="110.10" y2="425.26" stroke="#222" stroke-width="0.8" />
<line x1="106.80" y1="436.40" x2="106.80" y2="438.70" stroke="#111" stroke-width="0.9" />
<text transform="translate(109.40,441.00) rotate(-44)" font-size="6.3" fill="#333" text-anchor="end" dominant-baseline="central" stroke="#333" stroke-width="0.22" >PS(O-18:0/0:0)</text>
<rect x="115.10" y="435.95" width="2.60" height="0.45" fill="#fff" stroke="#111" stroke-width="0.8" />
<rect x="118.10" y="434.02" width="4.00" height="2.38" fill="#111" />
<line x1="118.10" y1="436.40" x2="118.10" y2="438.70" stroke="#111" stroke-width="0.9" />
<text transform="translate(120.70,441.00) rotate(-44)" font-size="6.3" fill="#333" text-anchor="end" dominant-baseline="central" stroke="#333" stroke-width="0.22" >PS(P-20:0/0:0)</text>
<rect x="126.40" y="432.69" width="2.60" height="3.71" fill="#fff" stroke="#111" stroke-width="0.8" />
<rect x="129.40" y="430.46" width="4.00" height="5.94" fill="#111" />
<line x1="129.40" y1="436.40" x2="129.40" y2="438.70" stroke="#111" stroke-width="0.9" />
<text transform="translate(132.00,441.00) rotate(-44)" font-size="6.3" fill="#333" text-anchor="end" dominant-baseline="central" stroke="#333" stroke-width="0.22" >PS(O-20:0/0:0)</text>
<rect x="140.70" y="432.98" width="4.00" height="3.42" fill="#111" />
<line x1="140.70" y1="436.40" x2="140.70" y2="438.70" stroke="#111" stroke-width="0.9" />
<text transform="translate(143.30,441.00) rotate(-44)" font-size="6.3" fill="#333" text-anchor="end" dominant-baseline="central" stroke="#333" stroke-width="0.22" >PS(P-16:0/16:1)</text>
<rect x="152.00" y="434.47" width="4.00" height="1.93" fill="#111" />
<line x1="152.00" y1="436.40" x2="152.00" y2="438.70" stroke="#111" stroke-width="0.9" />
<text transform="translate(154.60,441.00) rotate(-44)" font-size="6.3" fill="#333" text-anchor="end" dominant-baseline="central" stroke="#333" stroke-width="0.22" >PS(P-16:0/16:1)</text>
<rect x="160.30" y="432.69" width="2.60" height="3.71" fill="#fff" stroke="#111" stroke-width="0.8" />
<rect x="163.30" y="416.65" width="4.00" height="19.75" fill="#111" />
<line x1="165.30" y1="416.65" x2="165.30" y2="414.12" stroke="#222" stroke-width="0.8" />
<line x1="164.00" y1="414.12" x2="166.60" y2="414.12" stroke="#222" stroke-width="0.8" />
<line x1="163.30" y1="436.40" x2="163.30" y2="438.70" stroke="#111" stroke-width="0.9" />
<text transform="translate(165.90,441.00) rotate(-44)" font-size="6.3" fill="#333" text-anchor="end" dominant-baseline="central" stroke="#333" stroke-width="0.22" >PS(O-16:0/16:1)</text>
<rect x="171.60" y="432.69" width="2.60" height="3.71" fill="#fff" stroke="#111" stroke-width="0.8" />
<rect x="174.60" y="417.54" width="4.00" height="18.86" fill="#111" />
<line x1="176.60" y1="417.54" x2="176.60" y2="414.57" stroke="#222" stroke-width="0.8" />
<line x1="175.30" y1="414.57" x2="177.90" y2="414.57" stroke="#222" stroke-width="0.8" />
<line x1="174.60" y1="436.40" x2="174.60" y2="438.70" stroke="#111" stroke-width="0.9" />
<text transform="translate(177.20,441.00) rotate(-44)" font-size="6.3" fill="#333" text-anchor="end" dominant-baseline="central" stroke="#333" stroke-width="0.22" >PS(P-18:0/16:1)</text>
<rect x="185.90" y="434.17" width="4.00" height="2.23" fill="#111" />
<line x1="185.90" y1="436.40" x2="185.90" y2="438.70" stroke="#111" stroke-width="0.9" />
<text transform="translate(188.50,441.00) rotate(-44)" font-size="6.3" fill="#333" text-anchor="end" dominant-baseline="central" stroke="#333" stroke-width="0.22" >PS(O-16:0/18:0)</text>
<rect x="197.20" y="434.62" width="4.00" height="1.78" fill="#111" />
<line x1="197.20" y1="436.40" x2="197.20" y2="438.70" stroke="#111" stroke-width="0.9" />
<text transform="translate(199.80,441.00) rotate(-44)" font-size="6.3" fill="#333" text-anchor="end" dominant-baseline="central" stroke="#333" stroke-width="0.22" >PS(P-18:1/18:1)</text>
<rect x="205.50" y="425.26" width="2.60" height="11.14" fill="#fff" stroke="#111" stroke-width="0.8" />
<rect x="208.50" y="419.03" width="4.00" height="17.37" fill="#111" />
<line x1="210.50" y1="419.03" x2="210.50" y2="416.20" stroke="#222" stroke-width="0.8" />
<line x1="209.20" y1="416.20" x2="211.80" y2="416.20" stroke="#222" stroke-width="0.8" />
<line x1="208.50" y1="436.40" x2="208.50" y2="438.70" stroke="#111" stroke-width="0.9" />
<text transform="translate(211.10,441.00) rotate(-44)" font-size="6.3" fill="#333" text-anchor="end" dominant-baseline="central" stroke="#333" stroke-width="0.22" >PS(P-18:0/18:1)</text>
<rect x="216.80" y="419.03" width="2.60" height="17.37" fill="#fff" stroke="#111" stroke-width="0.8" />
<line x1="218.10" y1="419.03" x2="218.10" y2="416.20" stroke="#222" stroke-width="0.8" />
<line x1="216.90" y1="416.20" x2="219.30" y2="416.20" stroke="#222" stroke-width="0.8" />
<rect x="219.80" y="380.86" width="4.00" height="55.54" fill="#111" />
<line x1="221.80" y1="380.86" x2="221.80" y2="372.25" stroke="#222" stroke-width="0.8" />
<line x1="220.50" y1="372.25" x2="223.10" y2="372.25" stroke="#222" stroke-width="0.8" />
<line x1="219.80" y1="436.40" x2="219.80" y2="438.70" stroke="#111" stroke-width="0.9" />
<text transform="translate(222.40,441.00) rotate(-44)" font-size="6.3" fill="#333" text-anchor="end" dominant-baseline="central" stroke="#333" stroke-width="0.22" >PS(O-18:0/18:1)</text>
<rect x="228.10" y="433.88" width="2.60" height="2.52" fill="#fff" stroke="#111" stroke-width="0.8" />
<rect x="231.10" y="429.27" width="4.00" height="7.13" fill="#111" />
<line x1="231.10" y1="436.40" x2="231.10" y2="438.70" stroke="#111" stroke-width="0.9" />
<text transform="translate(233.70,441.00) rotate(-44)" font-size="6.3" fill="#333" text-anchor="end" dominant-baseline="central" stroke="#333" stroke-width="0.22" >PS(P-18:1/20:4)</text>
<rect x="239.40" y="434.91" width="2.60" height="1.49" fill="#fff" stroke="#111" stroke-width="0.8" />
<rect x="242.40" y="429.57" width="4.00" height="6.83" fill="#111" />
<line x1="242.40" y1="436.40" x2="242.40" y2="438.70" stroke="#111" stroke-width="0.9" />
<text transform="translate(245.00,441.00) rotate(-44)" font-size="6.3" fill="#333" text-anchor="end" dominant-baseline="central" stroke="#333" stroke-width="0.22" >PS(P-18:0/20:4)</text>
<rect x="250.70" y="421.10" width="2.60" height="15.30" fill="#fff" stroke="#111" stroke-width="0.8" />
<rect x="253.70" y="413.83" width="4.00" height="22.57" fill="#111" />
<line x1="255.70" y1="413.83" x2="255.70" y2="409.22" stroke="#222" stroke-width="0.8" />
<line x1="254.40" y1="409.22" x2="257.00" y2="409.22" stroke="#222" stroke-width="0.8" />
<line x1="253.70" y1="436.40" x2="253.70" y2="438.70" stroke="#111" stroke-width="0.9" />
<text transform="translate(256.30,441.00) rotate(-44)" font-size="6.3" fill="#333" text-anchor="end" dominant-baseline="central" stroke="#333" stroke-width="0.22" >PS(O-18:0/20:4)</text>
<rect x="262.00" y="434.17" width="2.60" height="2.23" fill="#fff" stroke="#111" stroke-width="0.8" />
<rect x="265.00" y="422.14" width="4.00" height="14.26" fill="#111" />
<line x1="267.00" y1="422.14" x2="267.00" y2="419.03" stroke="#222" stroke-width="0.8" />
<line x1="265.70" y1="419.03" x2="268.30" y2="419.03" stroke="#222" stroke-width="0.8" />
<line x1="265.00" y1="436.40" x2="265.00" y2="438.70" stroke="#111" stroke-width="0.9" />
<text transform="translate(267.60,441.00) rotate(-44)" font-size="6.3" fill="#333" text-anchor="end" dominant-baseline="central" stroke="#333" stroke-width="0.22" >PS(P-18:0/20:1)</text>
<rect x="273.30" y="417.54" width="2.60" height="18.86" fill="#fff" stroke="#111" stroke-width="0.8" />
<line x1="274.60" y1="417.54" x2="274.60" y2="414.87" stroke="#222" stroke-width="0.8" />
<line x1="273.40" y1="414.87" x2="275.80" y2="414.87" stroke="#222" stroke-width="0.8" />
<rect x="276.30" y="419.92" width="4.00" height="16.48" fill="#111" />
<line x1="278.30" y1="419.92" x2="278.30" y2="416.80" stroke="#222" stroke-width="0.8" />
<line x1="277.00" y1="416.80" x2="279.60" y2="416.80" stroke="#222" stroke-width="0.8" />
<line x1="276.30" y1="436.40" x2="276.30" y2="438.70" stroke="#111" stroke-width="0.9" />
<text transform="translate(278.90,441.00) rotate(-44)" font-size="6.3" fill="#333" text-anchor="end" dominant-baseline="central" stroke="#333" stroke-width="0.22" >PS(P-20:0/20:5)</text>
<rect x="284.60" y="427.04" width="2.60" height="9.36" fill="#fff" stroke="#111" stroke-width="0.8" />
<line x1="285.90" y1="427.04" x2="285.90" y2="424.07" stroke="#222" stroke-width="0.8" />
<line x1="284.70" y1="424.07" x2="287.10" y2="424.07" stroke="#222" stroke-width="0.8" />
<rect x="287.60" y="420.36" width="4.00" height="16.04" fill="#111" />
<line x1="289.60" y1="420.36" x2="289.60" y2="416.80" stroke="#222" stroke-width="0.8" />
<line x1="288.30" y1="416.80" x2="290.90" y2="416.80" stroke="#222" stroke-width="0.8" />
<line x1="287.60" y1="436.40" x2="287.60" y2="438.70" stroke="#111" stroke-width="0.9" />
<text transform="translate(290.20,441.00) rotate(-44)" font-size="6.3" fill="#333" text-anchor="end" dominant-baseline="central" stroke="#333" stroke-width="0.22" >PS(P-18:0/22:6)</text>
<rect x="295.90" y="412.05" width="2.60" height="24.35" fill="#fff" stroke="#111" stroke-width="0.8" />
<line x1="297.20" y1="412.05" x2="297.20" y2="403.43" stroke="#222" stroke-width="0.8" />
<line x1="296.00" y1="403.43" x2="298.40" y2="403.43" stroke="#222" stroke-width="0.8" />
<rect x="298.90" y="405.36" width="4.00" height="31.04" fill="#111" />
<line x1="300.90" y1="405.36" x2="300.90" y2="396.75" stroke="#222" stroke-width="0.8" />
<line x1="299.60" y1="396.75" x2="302.20" y2="396.75" stroke="#222" stroke-width="0.8" />
<line x1="298.90" y1="436.40" x2="298.90" y2="438.70" stroke="#111" stroke-width="0.9" />
<text transform="translate(301.50,441.00) rotate(-44)" font-size="6.3" fill="#333" text-anchor="end" dominant-baseline="central" stroke="#333" stroke-width="0.22" >PS(P-20:0/22:6)</text>
<text x="341.00" y="347.00" font-size="12.3" fill="#000" text-anchor="start" dominant-baseline="alphabetic" font-weight="bold" >I</text>
<rect x="383.75" y="349.20" width="7.30" height="2.75" fill="#fff" stroke="#111" stroke-width="1.1" />
<text x="394.70" y="352.50" font-size="8.3" fill="#222" text-anchor="start" dominant-baseline="alphabetic" stroke="#222" stroke-width="0.22" >Gland</text>
<rect x="383.20" y="356.90" width="8.60" height="4.40" fill="#111" />
<text x="394.70" y="361.30" font-size="8.3" fill="#222" text-anchor="start" dominant-baseline="alphabetic" stroke="#222" stroke-width="0.22" >Tumor</text>
<line x1="377.20" y1="360.90" x2="377.20" y2="436.10" stroke="#222" stroke-width="1.3" />
<line x1="374.80" y1="361.40" x2="377.20" y2="361.40" stroke="#111" stroke-width="1" />
<text x="373.60" y="361.40" font-size="8" fill="#222" text-anchor="end" dominant-baseline="central" stroke="#222" stroke-width="0.22" >4</text>
<line x1="374.80" y1="379.95" x2="377.20" y2="379.95" stroke="#111" stroke-width="1" />
<text x="373.60" y="379.95" font-size="8" fill="#222" text-anchor="end" dominant-baseline="central" stroke="#222" stroke-width="0.22" >3</text>
<line x1="374.80" y1="398.50" x2="377.20" y2="398.50" stroke="#111" stroke-width="1" />
<text x="373.60" y="398.50" font-size="8" fill="#222" text-anchor="end" dominant-baseline="central" stroke="#222" stroke-width="0.22" >2</text>
<line x1="374.80" y1="417.05" x2="377.20" y2="417.05" stroke="#111" stroke-width="1" />
<text x="373.60" y="417.05" font-size="8" fill="#222" text-anchor="end" dominant-baseline="central" stroke="#222" stroke-width="0.22" >1</text>
<line x1="374.80" y1="435.60" x2="377.20" y2="435.60" stroke="#111" stroke-width="1" />
<text x="373.60" y="435.60" font-size="8" fill="#222" text-anchor="end" dominant-baseline="central" stroke="#222" stroke-width="0.22" >0</text>
<line x1="376.70" y1="435.60" x2="426.00" y2="435.60" stroke="#222" stroke-width="1.3" />
<line x1="393.00" y1="435.60" x2="393.00" y2="438.10" stroke="#111" stroke-width="0.9" />
<line x1="412.20" y1="435.60" x2="412.20" y2="438.10" stroke="#111" stroke-width="0.9" />
<text transform="translate(351.60,397.50) rotate(-90)" font-size="8.2" fill="#222" text-anchor="middle" dominant-baseline="central" stroke="#222" stroke-width="0.22" >PS(O-18:0/0:0)</text>
<text transform="translate(360.70,396.80) rotate(-90)" font-size="8.2" fill="#222" text-anchor="middle" dominant-baseline="central" stroke="#222" stroke-width="0.22" >ng/mg tissue</text>
<rect x="387.50" y="420.50" width="11.60" height="15.10" fill="#fff" stroke="#111" stroke-width="1.1" />
<rect x="406.10" y="396.10" width="12.30" height="39.50" fill="#111" />
<line x1="412.20" y1="396.10" x2="412.20" y2="390.30" stroke="#111" stroke-width="1" />
<line x1="409.50" y1="390.30" x2="414.90" y2="390.30" stroke="#111" stroke-width="1" />
<circle cx="390.50" cy="417.30" r="1.90" fill="#111"/>
<circle cx="394.80" cy="418.20" r="1.90" fill="#111"/>
<circle cx="398.20" cy="417.00" r="1.90" fill="#111"/>
<circle cx="393.20" cy="421.00" r="1.90" fill="#111"/>
<circle cx="396.00" cy="420.60" r="1.90" fill="#111"/>
<rect x="410.60" y="379.50" width="3.00" height="3.00" fill="#fff" stroke="#111" stroke-width="1" />
<rect x="410.90" y="399.40" width="2.20" height="2.20" fill="#fff" />
<rect x="410.90" y="405.70" width="2.20" height="2.20" fill="#fff" />
<text x="412.10" y="374.60" font-size="7.8" fill="#222" text-anchor="middle" dominant-baseline="central" stroke="#222" stroke-width="0.22" >*</text>
</svg>
</body></html>
